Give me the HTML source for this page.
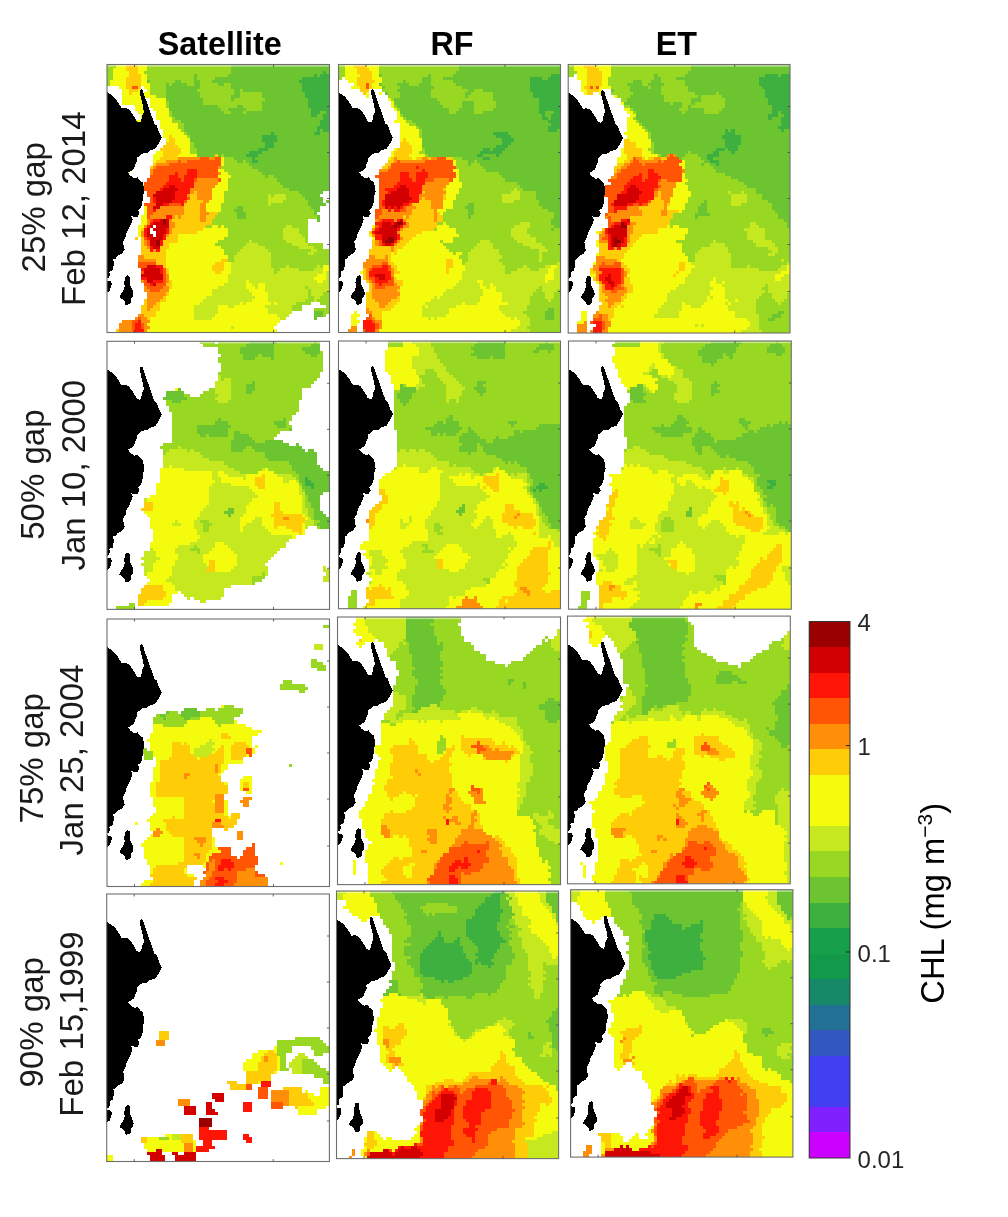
<!DOCTYPE html>
<html lang="en"><head><meta charset="utf-8"><title>CHL gap filling</title>
<style>html,body{margin:0;padding:0;background:#fff}svg{display:block}</style></head>
<body>
<svg width="1008" height="1217" viewBox="0 0 1008 1217" font-family="'Liberation Sans', sans-serif">
<rect width="1008" height="1217" fill="#fff"/>
<defs>
<clipPath id="cr1c1"><rect x="107.0" y="64.5" width="222.5" height="268.0"/></clipPath>
<clipPath id="cr1c2"><rect x="338.5" y="64.5" width="222.0" height="268.0"/></clipPath>
<clipPath id="cr1c3"><rect x="568.2" y="64.5" width="221.8" height="268.5"/></clipPath>
<clipPath id="cr2c1"><rect x="107.0" y="341.3" width="222.5" height="268.1"/></clipPath>
<clipPath id="cr2c2"><rect x="338.5" y="341.0" width="222.0" height="267.7"/></clipPath>
<clipPath id="cr2c3"><rect x="568.5" y="341.0" width="222.8" height="268.2"/></clipPath>
<clipPath id="cr3c1"><rect x="107.0" y="619.0" width="222.5" height="267.5"/></clipPath>
<clipPath id="cr3c2"><rect x="337.5" y="617.0" width="223.0" height="267.6"/></clipPath>
<clipPath id="cr3c3"><rect x="567.5" y="616.1" width="222.8" height="267.7"/></clipPath>
<clipPath id="cr4c1"><rect x="106.7" y="894.0" width="222.7" height="267.5"/></clipPath>
<clipPath id="cr4c2"><rect x="336.5" y="891.0" width="222.1" height="267.6"/></clipPath>
<clipPath id="cr4c3"><rect x="570.6" y="889.7" width="222.3" height="267.4"/></clipPath>
</defs>
<g clip-path="url(#cr1c1)" shape-rendering="crispEdges">
<g transform="translate(107.00 64.50) scale(3.0903 3.0805)">
<path fill="#6cc530" d="M40 0h32v2h-32zM40 2h30v1h-30zM71 2h1v1h-1zM39 3h28v1h-28zM68 3h1v1h-1zM28 3h1v2h-1zM35 4h28v1h-28zM13 5h1v1h-1zM22 5h2v1h-2zM34 5h28v1h-28zM28 5h2v2h-2zM19 6h1v1h-1zM21 6h5v1h-5zM36 6h2v1h-2zM40 6h23v2h-23zM19 7h11v1h-11zM19 8h10v1h-10zM44 8h19v1h-19zM41 8h2v2h-2zM19 9h11v2h-11zM50 9h14v2h-14zM40 10h3v1h-3zM19 11h12v1h-12zM40 11h1v1h-1zM51 11h14v1h-14zM20 12h11v1h-11zM50 12h15v2h-15zM20 13h16v1h-16zM42 13h2v1h-2zM20 14h17v1h-17zM39 14h6v1h-6zM50 14h16v1h-16zM21 15h17v1h-17zM40 15h4v1h-4zM45 15h21v1h-21zM69 15h2v1h-2zM21 16h45v1h-45zM68 16h2v1h-2zM22 17h48v1h-48zM24 18h45v1h-45zM25 19h44v1h-44zM25 20h43v2h-43zM69 21h1v1h-1zM26 22h27v1h-27zM54 22h13v1h-13zM69 22h3v1h-3zM27 23h23v2h-23zM55 23h17v2h-17zM28 25h23v2h-23zM54 25h18v2h-18zM29 27h20v1h-20zM52 27h20v1h-20zM29 28h17v1h-17zM50 28h22v1h-22zM29 29h6v1h-6zM36 29h1v1h-1zM38 29h7v1h-7zM49 29h23v1h-23zM41 30h6v1h-6zM48 30h24v1h-24zM42 31h2v1h-2zM45 31h2v1h-2zM49 31h23v1h-23zM46 32h26v1h-26zM47 33h25v1h-25zM49 34h23v1h-23zM50 35h22v1h-22zM51 36h1v1h-1zM54 36h18v1h-18zM55 37h17v1h-17zM56 38h16v1h-16zM57 39h15v1h-15zM59 40h13v1h-13zM62 41h8v1h-8zM63 42h6v1h-6zM64 43h6v1h-6zM65 44h5v1h-5zM71 44h1v1h-1zM65 45h6v1h-6zM42 46h2v1h-2zM66 46h3v1h-3zM41 47h3v1h-3zM67 47h2v1h-2zM67 48h1v1h-1zM42 48h3v2h-3zM68 49h1v2h-1zM67 80h3v2h-3zM67 82h1v1h-1z"/>
<path fill="#3eb040" d="M70 2h1v1h-1zM67 3h1v1h-1zM69 3h3v1h-3zM63 4h9v1h-9zM62 5h10v1h-10zM63 6h9v3h-9zM64 9h8v2h-8zM65 11h7v3h-7zM66 14h6v1h-6zM66 15h3v1h-3zM71 15h1v1h-1zM66 16h2v1h-2zM70 16h2v2h-2zM69 18h3v2h-3zM68 20h4v1h-4zM68 21h1v1h-1zM70 21h2v1h-2zM53 22h1v1h-1zM67 22h2v1h-2zM50 23h5v2h-5zM51 25h3v2h-3zM49 27h3v1h-3zM46 28h4v1h-4zM45 29h4v1h-4zM47 30h1v1h-1zM47 31h2v1h-2z"/>
<path fill="#98d822" d="M0 0h3v1h-3zM13 0h27v2h-27zM12 2h28v1h-28zM29 3h10v1h-10zM0 1h2v4h-2zM13 3h15v2h-15zM29 4h6v1h-6zM14 5h8v1h-8zM24 5h4v1h-4zM30 5h4v1h-4zM0 5h1v2h-1zM20 6h1v1h-1zM26 6h2v1h-2zM30 6h6v1h-6zM38 6h2v1h-2zM30 7h10v1h-10zM29 8h12v1h-12zM43 8h1v1h-1zM14 6h5v4h-5zM30 9h11v1h-11zM43 9h7v2h-7zM16 10h3v1h-3zM30 10h10v1h-10zM31 11h9v1h-9zM41 11h10v1h-10zM31 12h19v1h-19zM19 12h1v2h-1zM36 13h6v1h-6zM44 13h6v1h-6zM37 14h2v1h-2zM45 14h5v1h-5zM38 15h2v1h-2zM44 15h1v1h-1zM20 15h1v2h-1zM21 17h1v1h-1zM21 18h3v1h-3zM23 19h2v2h-2zM24 21h1v1h-1zM25 22h1v1h-1zM26 23h1v1h-1zM27 25h1v2h-1zM27 27h2v2h-2zM37 29h1v1h-1zM38 30h3v1h-3zM38 31h4v1h-4zM44 31h1v1h-1zM38 32h8v1h-8zM37 33h10v1h-10zM38 34h11v1h-11zM39 35h11v1h-11zM40 36h11v1h-11zM52 36h2v1h-2zM39 37h16v1h-16zM39 38h17v1h-17zM39 39h18v1h-18zM39 40h20v1h-20zM38 41h24v1h-24zM53 42h1v1h-1zM58 42h5v1h-5zM58 43h6v1h-6zM38 42h14v3h-14zM57 44h8v1h-8zM37 45h15v1h-15zM53 45h12v1h-12zM37 46h5v1h-5zM44 46h22v1h-22zM37 47h4v1h-4zM44 47h23v1h-23zM36 48h6v1h-6zM45 48h22v1h-22zM35 49h7v1h-7zM45 49h23v1h-23zM34 50h31v2h-31zM32 52h2v1h-2zM36 52h1v1h-1zM38 52h20v1h-20zM60 52h5v1h-5zM62 53h3v2h-3zM39 53h18v3h-18zM63 55h2v1h-2zM38 56h19v1h-19zM64 56h1v2h-1zM36 57h10v1h-10zM47 57h11v1h-11zM35 58h10v1h-10zM49 58h11v1h-11zM65 58h5v1h-5zM37 59h7v1h-7zM51 59h11v1h-11zM67 59h3v1h-3zM38 60h5v1h-5zM52 60h14v1h-14zM68 60h4v1h-4zM38 61h4v1h-4zM53 61h12v1h-12zM67 61h5v1h-5zM39 62h2v2h-2zM53 62h19v3h-19zM53 65h5v1h-5zM59 65h9v1h-9zM69 65h1v1h-1zM54 66h2v1h-2zM62 66h5v1h-5zM54 67h1v1h-1zM64 72h1v1h-1zM65 73h1v2h-1zM70 74h2v1h-2zM65 75h2v1h-2zM69 75h3v1h-3zM64 76h3v1h-3zM68 76h4v1h-4zM61 77h5v1h-5zM69 77h3v1h-3zM71 78h1v1h-1zM60 78h3v2h-3zM67 79h5v1h-5zM70 80h2v1h-2zM70 81h1v1h-1z"/>
<path fill="#c5e81e" d="M52 42h1v1h-1zM54 42h4v1h-4zM52 43h6v1h-6zM52 44h5v1h-5zM52 45h1v1h-1zM58 52h2v1h-2zM57 53h5v2h-5zM57 55h6v1h-6zM57 56h7v1h-7zM46 57h1v1h-1zM58 57h6v1h-6zM45 58h4v1h-4zM60 58h5v1h-5zM44 59h7v1h-7zM62 59h5v1h-5zM43 60h9v1h-9zM66 60h2v1h-2zM42 61h11v1h-11zM65 61h2v1h-2zM41 62h12v2h-12zM40 64h13v2h-13zM58 65h1v1h-1zM68 65h1v1h-1zM56 66h6v1h-6zM67 66h3v1h-3zM40 66h14v2h-14zM55 67h15v1h-15zM39 68h29v1h-29zM71 67h1v3h-1zM39 69h28v1h-28zM39 70h6v1h-6zM46 70h22v1h-22zM70 70h2v1h-2zM38 71h7v1h-7zM47 71h2v1h-2zM51 71h21v1h-21zM36 72h9v1h-9zM48 72h1v1h-1zM51 72h13v1h-13zM65 72h7v1h-7zM34 73h12v1h-12zM51 73h14v1h-14zM66 73h6v1h-6zM34 74h13v1h-13zM66 74h4v1h-4zM52 74h13v2h-13zM32 75h16v1h-16zM67 75h2v1h-2zM31 76h16v1h-16zM52 76h12v1h-12zM67 76h1v1h-1zM30 77h13v1h-13zM44 77h1v1h-1zM53 77h1v1h-1zM55 77h6v1h-6zM39 78h2v1h-2zM51 78h9v1h-9zM28 78h8v3h-8zM52 79h8v2h-8zM28 81h7v1h-7zM55 81h4v1h-4zM28 82h6v1h-6zM56 82h2v1h-2zM40 85h1v1h-1z"/>
<path fill="#f5fb0c" d="M3 0h3v1h-3zM10 0h3v2h-3zM2 1h4v1h-4zM10 2h2v1h-2zM2 2h5v2h-5zM2 4h4v1h-4zM11 3h2v3h-2zM1 5h5v2h-5zM11 6h3v1h-3zM4 7h2v1h-2zM12 7h2v1h-2zM10 8h1v1h-1zM13 8h1v1h-1zM5 8h2v2h-2zM8 9h3v1h-3zM12 9h2v1h-2zM5 10h6v1h-6zM12 10h4v1h-4zM5 11h7v1h-7zM5 12h8v1h-8zM14 11h5v3h-5zM9 13h4v2h-4zM15 14h5v1h-5zM10 15h4v1h-4zM16 15h4v2h-4zM11 16h3v2h-3zM16 17h5v1h-5zM0 18h2v1h-2zM9 18h6v1h-6zM17 18h4v1h-4zM17 19h6v2h-6zM0 19h15v3h-15zM18 21h6v1h-6zM0 22h16v1h-16zM18 22h7v1h-7zM18 23h2v1h-2zM21 23h5v1h-5zM0 23h17v2h-17zM19 24h1v1h-1zM22 24h5v2h-5zM0 25h16v1h-16zM0 26h9v1h-9zM10 26h4v1h-4zM23 26h4v1h-4zM12 27h1v1h-1zM0 27h8v2h-8zM24 27h3v2h-3zM16 28h2v1h-2zM15 29h3v1h-3zM23 29h6v1h-6zM15 30h2v1h-2zM0 29h7v3h-7zM15 31h1v1h-1zM37 30h1v3h-1zM0 32h8v2h-8zM36 34h2v1h-2zM0 34h7v2h-7zM37 35h2v1h-2zM0 36h6v1h-6zM36 36h4v1h-4zM37 37h2v1h-2zM36 38h3v1h-3zM11 39h1v1h-1zM35 39h4v1h-4zM34 40h5v1h-5zM34 41h4v3h-4zM33 44h5v1h-5zM32 45h5v3h-5zM12 46h1v3h-1zM11 49h2v3h-2zM10 52h2v1h-2zM34 52h2v1h-2zM37 52h1v1h-1zM31 53h8v1h-8zM29 54h10v1h-10zM10 53h1v3h-1zM23 55h16v1h-16zM23 56h15v1h-15zM23 57h13v1h-13zM20 58h15v1h-15zM20 59h17v1h-17zM19 60h19v2h-19zM19 62h20v1h-20zM19 63h18v1h-18zM19 64h16v1h-16zM19 65h15v1h-15zM38 64h2v3h-2zM70 65h2v2h-2zM20 66h14v1h-14zM20 67h15v1h-15zM37 67h3v1h-3zM70 67h1v1h-1zM68 68h3v1h-3zM20 68h19v2h-19zM67 69h4v1h-4zM21 70h18v1h-18zM45 70h1v1h-1zM68 70h2v1h-2zM21 71h17v1h-17zM45 71h2v1h-2zM49 71h2v2h-2zM21 72h15v1h-15zM45 72h3v1h-3zM46 73h5v1h-5zM20 73h14v2h-14zM47 74h5v1h-5zM19 75h13v1h-13zM48 75h4v1h-4zM19 76h12v1h-12zM47 76h5v1h-5zM17 77h13v1h-13zM43 77h1v1h-1zM45 77h8v1h-8zM54 77h1v1h-1zM36 78h3v1h-3zM41 78h10v1h-10zM17 78h11v2h-11zM36 79h16v2h-16zM16 80h12v2h-12zM35 81h20v1h-20zM14 82h14v1h-14zM34 82h22v1h-22zM14 83h42v1h-42zM13 84h42v1h-42zM14 85h26v1h-26zM41 85h13v1h-13zM13 86h42v1h-42z"/>
<path fill="#ffcc08" d="M6 0h4v2h-4zM7 2h3v1h-3zM7 3h4v1h-4zM6 4h5v3h-5zM6 7h2v1h-2zM10 7h1v1h-1zM7 8h3v1h-3zM7 9h1v1h-1zM20 23h1v1h-1zM20 24h2v1h-2zM19 25h3v1h-3zM18 26h5v1h-5zM17 27h7v1h-7zM18 28h6v1h-6zM18 29h5v1h-5zM35 29h1v1h-1zM17 30h6v1h-6zM16 31h3v1h-3zM15 32h1v1h-1zM14 33h1v1h-1zM28 41h1v1h-1zM27 42h2v2h-2zM26 44h5v1h-5zM25 45h5v4h-5zM33 48h3v1h-3zM22 49h1v1h-1zM24 49h6v1h-6zM32 49h3v1h-3zM21 50h9v1h-9zM32 50h2v1h-2zM22 51h12v1h-12zM22 52h10v1h-10zM11 53h1v1h-1zM21 53h10v1h-10zM21 54h8v1h-8zM20 55h3v1h-3zM9 56h1v1h-1zM19 56h4v1h-4zM18 57h5v1h-5zM11 56h1v3h-1zM18 58h2v1h-2zM11 59h2v1h-2zM17 59h3v1h-3zM11 60h3v1h-3zM17 60h2v1h-2zM11 61h8v1h-8zM12 62h7v1h-7zM37 63h2v1h-2zM16 63h3v2h-3zM35 64h3v1h-3zM18 65h1v1h-1zM34 65h4v2h-4zM19 66h1v2h-1zM35 67h2v1h-2zM20 70h1v1h-1zM19 71h2v1h-2zM20 72h1v1h-1zM19 74h1v1h-1zM18 75h1v1h-1zM17 76h2v1h-2zM12 76h1v2h-1zM16 77h1v1h-1zM15 78h2v1h-2zM11 78h2v2h-2zM14 79h3v1h-3zM11 80h5v1h-5zM12 81h4v1h-4zM13 82h1v1h-1zM3 86h1v1h-1z"/>
<path fill="#ff8f08" d="M23 30h7v1h-7zM33 30h2v1h-2zM19 31h4v1h-4zM24 31h2v1h-2zM16 32h4v1h-4zM15 33h1v1h-1zM36 33h1v1h-1zM14 34h1v2h-1zM36 35h1v1h-1zM29 37h7v1h-7zM28 38h8v1h-8zM28 39h7v1h-7zM27 40h7v1h-7zM27 41h1v1h-1zM26 42h1v1h-1zM29 41h5v3h-5zM31 44h2v1h-2zM17 46h8v1h-8zM30 45h2v3h-2zM16 47h9v1h-9zM15 48h10v1h-10zM30 48h3v1h-3zM14 49h5v1h-5zM21 49h1v1h-1zM23 49h1v1h-1zM30 49h2v2h-2zM20 50h1v1h-1zM13 50h1v2h-1zM20 51h2v2h-2zM12 52h1v1h-1zM20 53h1v2h-1zM11 54h1v2h-1zM19 55h1v1h-1zM12 57h1v2h-1zM13 59h1v1h-1zM15 60h1v1h-1zM10 62h2v1h-2zM10 63h6v1h-6zM19 68h1v3h-1zM11 70h1v1h-1zM12 72h1v1h-1zM18 72h2v1h-2zM12 73h2v1h-2zM17 73h3v1h-3zM13 74h6v1h-6zM13 75h5v1h-5zM13 76h4v1h-4zM13 77h3v1h-3zM13 78h2v1h-2zM13 79h1v1h-1zM10 81h2v1h-2zM9 82h1v1h-1zM11 82h2v1h-2zM5 83h3v1h-3zM11 83h3v1h-3zM12 84h1v1h-1zM12 85h2v1h-2zM4 84h4v3h-4zM12 86h1v1h-1z"/>
<path fill="#ff5505" d="M8 7h2v1h-2zM30 30h3v1h-3zM35 30h2v1h-2zM23 31h1v1h-1zM26 31h11v1h-11zM20 32h17v1h-17zM16 33h20v1h-20zM15 34h11v1h-11zM15 35h7v1h-7zM23 35h3v1h-3zM29 34h7v3h-7zM14 36h6v1h-6zM23 36h2v1h-2zM13 37h7v1h-7zM24 37h1v1h-1zM28 37h1v1h-1zM36 37h1v1h-1zM12 38h7v1h-7zM12 39h6v1h-6zM12 40h5v1h-5zM13 41h3v1h-3zM13 42h2v1h-2zM26 43h1v1h-1zM14 43h1v2h-1zM25 44h1v1h-1zM12 45h4v1h-4zM20 45h4v1h-4zM13 46h2v3h-2zM13 49h1v1h-1zM14 50h1v1h-1zM12 56h1v1h-1zM13 57h1v2h-1zM10 64h6v1h-6zM10 65h3v1h-3zM11 67h1v1h-1zM18 66h1v5h-1zM12 70h1v1h-1zM12 71h2v1h-2zM16 71h3v1h-3zM13 72h5v1h-5zM14 73h3v1h-3zM10 82h1v1h-1zM8 83h2v1h-2zM11 84h1v2h-1zM8 84h1v3h-1z"/>
<path fill="#ff1505" d="M26 34h3v2h-3zM22 35h1v1h-1zM20 36h3v1h-3zM25 36h4v1h-4zM20 37h4v1h-4zM25 37h3v1h-3zM19 38h9v1h-9zM18 39h2v1h-2zM22 39h6v1h-6zM17 40h1v1h-1zM23 40h4v1h-4zM22 41h5v1h-5zM22 42h4v2h-4zM15 43h1v2h-1zM21 44h4v1h-4zM18 45h2v1h-2zM24 45h1v1h-1zM15 47h1v1h-1zM19 49h2v1h-2zM15 50h2v1h-2zM14 51h1v1h-1zM13 52h1v1h-1zM19 53h1v2h-1zM12 53h1v3h-1zM18 55h1v2h-1zM13 56h1v1h-1zM17 57h1v2h-1zM14 59h1v2h-1zM16 60h1v1h-1zM16 65h2v1h-2zM11 66h1v1h-1zM17 66h1v2h-1zM11 69h2v1h-2zM15 70h3v1h-3zM14 71h1v1h-1zM10 83h1v1h-1zM9 84h2v2h-2zM9 86h3v1h-3z"/>
<path fill="#d20000" d="M20 39h2v1h-2zM18 40h5v1h-5zM16 41h6v1h-6zM15 42h7v1h-7zM16 43h6v1h-6zM16 44h5v1h-5zM16 45h2v1h-2zM15 46h2v1h-2zM17 50h1v1h-1zM19 50h1v2h-1zM15 51h3v1h-3zM14 52h1v1h-1zM16 52h4v1h-4zM15 53h4v1h-4zM13 53h1v2h-1zM16 54h3v1h-3zM13 55h2v1h-2zM16 55h2v1h-2zM14 56h4v1h-4zM14 57h2v2h-2zM15 59h2v1h-2zM13 65h3v1h-3zM12 66h5v2h-5zM11 68h7v1h-7zM13 69h5v1h-5zM13 70h2v1h-2zM15 71h1v1h-1z"/>
<path fill="#9a0000" d="M18 50h1v2h-1zM16 57h1v2h-1z"/>
</g>
<polygon points="105.9,92.1 107.1,92.1 109.9,94.1 112.8,96.0 115.3,98.5 117.8,102.0 119.7,104.9 121.7,108.4 125.7,107.9 129.1,109.4 131.6,112.8 134.5,117.2 136.5,121.2 140.0,122.7 141.4,119.7 141.9,115.8 143.9,111.8 142.9,105.9 141.4,100.0 140.0,94.1 140.2,90.1 141.4,89.3 142.9,90.6 144.9,97.0 147.4,103.9 149.8,110.8 152.3,117.7 154.3,123.7 156.7,125.6 158.7,131.5 161.7,137.5 159.7,141.9 157.2,145.8 155.2,148.8 149.3,150.8 147.4,152.8 141.4,153.7 139.0,156.2 136.5,158.2 137.0,161.1 135.0,165.1 134.0,168.5 131.6,170.5 128.1,172.5 130.1,175.4 134.5,178.4 137.5,177.4 140.0,180.4 142.9,182.8 143.9,188.7 144.4,191.7 142.9,196.2 142.4,203.1 140.9,207.5 138.0,210.0 139.5,213.4 137.5,216.9 134.0,216.9 131.1,215.9 132.6,219.4 131.1,223.8 129.1,228.2 126.6,232.7 125.7,237.1 123.2,241.5 123.7,246.5 124.7,249.4 122.2,253.4 117.8,255.8 115.3,258.8 113.3,259.3 113.8,264.2 112.8,270.1 110.4,271.1 109.4,272.1 109.9,275.1 108.9,277.5 107.1,278.5 107.1,280.5 110.9,281.0 111.9,283.5 110.9,287.4 109.4,290.9 107.1,292.8 105.9,292.8" fill="#000"/>
<polygon points="125.7,276.1 128.1,275.3 129.6,276.6 129.6,281.0 130.1,284.9 132.1,288.9 133.5,293.3 133.1,296.3 130.6,298.7 130.6,302.7 129.1,304.2 125.7,305.2 124.7,301.7 122.2,299.2 119.2,297.3 120.7,294.3 123.2,290.9 124.7,286.4 124.2,282.0 125.2,278.5" fill="#000"/>
</g>
<rect x="107.5" y="64.9" width="221.5" height="1.7" fill="#fff" opacity="0.5"/>
<rect x="107.0" y="64.5" width="222.5" height="268.0" fill="none" stroke="#6e6e6e" stroke-width="1.1"/>
<path d="M134.5 64.5v2.5M134.5 332.5v-2.5M273.5 64.5v2.5M273.5 332.5v-2.5M329.5 106.5h-2.5M329.5 152.5h-2.5M329.5 198.5h-2.5M329.5 244.5h-2.5M329.5 291.5h-2.5" stroke="#444" stroke-width="0.8" fill="none"/>
<g clip-path="url(#cr1c2)" shape-rendering="crispEdges">
<g transform="translate(338.50 64.50) scale(3.0833 3.0805)">
<path fill="#6cc530" d="M39 0h33v2h-33zM38 2h34v1h-34zM13 3h1v1h-1zM29 3h1v1h-1zM37 3h32v1h-32zM34 4h28v1h-28zM66 4h2v1h-2zM27 4h3v2h-3zM21 5h1v1h-1zM37 5h25v1h-25zM13 6h1v1h-1zM19 6h4v1h-4zM26 6h4v1h-4zM38 6h24v1h-24zM14 7h1v1h-1zM20 7h11v1h-11zM40 7h22v1h-22zM19 8h11v1h-11zM42 8h2v1h-2zM47 8h15v1h-15zM15 9h1v1h-1zM41 9h2v1h-2zM20 9h10v2h-10zM50 9h13v2h-13zM41 10h1v1h-1zM18 11h14v1h-14zM50 11h15v1h-15zM18 12h15v1h-15zM40 12h4v2h-4zM51 12h14v2h-14zM19 13h15v1h-15zM39 14h5v1h-5zM50 14h15v1h-15zM20 14h16v2h-16zM38 15h6v1h-6zM47 15h18v1h-18zM67 15h3v1h-3zM21 16h45v1h-45zM67 16h2v1h-2zM22 17h44v1h-44zM68 17h1v1h-1zM24 18h44v1h-44zM25 19h44v1h-44zM26 20h42v1h-42zM27 21h41v1h-41zM71 21h1v1h-1zM27 22h23v1h-23zM55 22h17v1h-17zM27 23h24v1h-24zM56 23h16v1h-16zM57 24h15v1h-15zM27 24h26v2h-26zM56 25h16v1h-16zM27 26h24v1h-24zM55 26h17v1h-17zM28 27h19v1h-19zM49 27h1v1h-1zM54 27h18v1h-18zM28 28h18v1h-18zM53 28h19v1h-19zM29 29h16v1h-16zM47 29h4v1h-4zM52 29h20v1h-20zM40 30h7v1h-7zM49 30h23v1h-23zM42 31h2v1h-2zM45 31h27v1h-27zM42 32h1v1h-1zM46 32h26v1h-26zM47 33h25v1h-25zM48 34h24v1h-24zM52 35h20v1h-20zM53 36h19v1h-19zM54 37h18v1h-18zM58 38h14v1h-14zM59 39h13v1h-13zM60 40h12v1h-12zM64 41h8v3h-8zM65 44h7v2h-7zM42 45h2v1h-2zM41 46h3v1h-3zM66 46h6v1h-6zM68 47h4v1h-4zM42 47h2v2h-2zM70 48h2v2h-2zM42 49h1v1h-1zM69 50h3v2h-3zM70 52h2v1h-2zM69 53h1v1h-1zM68 79h2v1h-2zM67 80h3v3h-3z"/>
<path fill="#3eb040" d="M69 3h3v1h-3zM62 4h4v1h-4zM68 4h4v1h-4zM62 5h10v4h-10zM63 9h9v2h-9zM65 11h7v4h-7zM65 15h2v1h-2zM70 15h2v1h-2zM66 16h1v1h-1zM69 16h3v2h-3zM66 17h2v1h-2zM68 18h4v1h-4zM69 19h3v1h-3zM68 20h4v1h-4zM68 21h3v1h-3zM50 22h5v1h-5zM51 23h5v1h-5zM53 24h4v1h-4zM53 25h3v1h-3zM51 26h4v1h-4zM47 27h2v1h-2zM50 27h4v1h-4zM46 28h7v1h-7zM45 29h2v1h-2zM51 29h1v1h-1zM47 30h2v1h-2z"/>
<path fill="#98d822" d="M13 0h26v2h-26zM13 2h25v1h-25zM0 0h2v4h-2zM14 3h15v1h-15zM30 3h7v1h-7zM0 4h1v1h-1zM14 4h13v1h-13zM30 4h4v1h-4zM14 5h7v1h-7zM22 5h5v1h-5zM30 5h7v1h-7zM14 6h5v1h-5zM23 6h3v1h-3zM30 6h8v1h-8zM15 7h5v1h-5zM31 7h9v1h-9zM14 8h5v1h-5zM30 8h12v1h-12zM44 8h3v1h-3zM43 9h7v1h-7zM16 9h4v2h-4zM30 9h11v2h-11zM42 10h8v1h-8zM17 11h1v1h-1zM32 11h18v1h-18zM33 12h7v1h-7zM44 12h7v2h-7zM18 13h1v1h-1zM34 13h6v1h-6zM19 14h1v1h-1zM36 14h3v1h-3zM44 14h6v1h-6zM36 15h2v1h-2zM44 15h3v1h-3zM20 16h1v1h-1zM21 17h1v1h-1zM22 18h2v1h-2zM23 19h2v1h-2zM25 20h1v1h-1zM26 21h1v3h-1zM27 27h1v1h-1zM26 28h2v1h-2zM28 29h1v1h-1zM37 30h3v1h-3zM44 31h1v1h-1zM38 31h4v2h-4zM43 32h3v1h-3zM38 33h9v1h-9zM39 34h9v1h-9zM39 35h13v1h-13zM39 36h14v1h-14zM39 37h15v1h-15zM40 38h18v1h-18zM40 39h19v1h-19zM39 40h18v1h-18zM58 40h2v1h-2zM39 41h17v1h-17zM59 41h5v3h-5zM38 42h15v2h-15zM37 44h16v1h-16zM57 44h8v1h-8zM37 45h5v1h-5zM44 45h21v1h-21zM37 46h4v1h-4zM44 46h22v1h-22zM35 47h7v1h-7zM44 47h24v1h-24zM44 48h26v1h-26zM34 48h8v2h-8zM43 49h27v1h-27zM34 50h35v1h-35zM32 51h2v1h-2zM35 51h24v1h-24zM62 51h7v1h-7zM36 52h21v1h-21zM62 52h8v1h-8zM31 53h1v1h-1zM61 53h8v1h-8zM70 53h2v1h-2zM38 53h18v2h-18zM61 54h11v1h-11zM39 55h17v1h-17zM62 55h10v1h-10zM37 56h20v1h-20zM64 56h8v2h-8zM33 57h1v1h-1zM37 57h9v1h-9zM49 57h9v1h-9zM34 58h11v1h-11zM50 58h10v1h-10zM66 58h6v1h-6zM35 59h9v1h-9zM50 59h12v1h-12zM67 59h5v1h-5zM36 60h7v1h-7zM68 60h4v1h-4zM52 60h13v2h-13zM37 61h1v1h-1zM40 61h2v1h-2zM39 62h3v1h-3zM53 62h12v1h-12zM66 61h6v3h-6zM40 63h2v1h-2zM52 63h13v1h-13zM40 64h1v1h-1zM53 64h18v1h-18zM54 65h6v1h-6zM61 65h6v1h-6zM54 66h4v1h-4zM62 66h3v1h-3zM54 67h2v1h-2zM65 72h1v1h-1zM64 73h2v1h-2zM71 73h1v1h-1zM63 74h4v1h-4zM70 74h2v2h-2zM62 75h5v1h-5zM62 76h6v1h-6zM69 76h3v1h-3zM62 77h10v1h-10zM61 78h11v1h-11zM61 79h7v1h-7zM60 80h7v1h-7zM61 81h6v1h-6zM70 79h2v4h-2zM62 82h5v1h-5zM62 83h10v2h-10zM61 85h11v1h-11zM62 86h10v1h-10z"/>
<path fill="#c5e81e" d="M57 40h1v1h-1zM56 41h3v1h-3zM53 42h6v2h-6zM53 44h4v1h-4zM59 51h3v1h-3zM57 52h5v1h-5zM56 53h5v2h-5zM56 55h6v1h-6zM57 56h7v1h-7zM46 57h3v1h-3zM58 57h6v1h-6zM45 58h5v1h-5zM60 58h6v1h-6zM44 59h6v1h-6zM62 59h5v1h-5zM43 60h9v1h-9zM65 60h3v1h-3zM42 61h10v1h-10zM42 62h11v1h-11zM65 61h1v3h-1zM42 63h10v1h-10zM41 64h12v1h-12zM71 64h1v2h-1zM60 65h1v1h-1zM67 65h2v1h-2zM41 65h13v2h-13zM58 66h4v1h-4zM65 66h3v1h-3zM40 67h14v1h-14zM56 67h12v1h-12zM70 66h2v4h-2zM40 68h27v2h-27zM39 70h6v1h-6zM47 70h20v1h-20zM68 70h4v1h-4zM38 71h8v1h-8zM47 71h2v1h-2zM50 71h22v1h-22zM37 72h9v1h-9zM48 72h1v1h-1zM51 72h14v1h-14zM66 72h6v1h-6zM35 73h12v1h-12zM51 73h13v1h-13zM66 73h5v1h-5zM34 74h13v1h-13zM53 74h10v1h-10zM67 74h3v2h-3zM31 75h1v1h-1zM33 75h13v1h-13zM53 75h9v2h-9zM30 76h16v1h-16zM68 76h1v1h-1zM28 77h12v1h-12zM41 77h4v1h-4zM55 77h7v1h-7zM27 78h1v1h-1zM29 78h9v1h-9zM52 78h9v2h-9zM27 79h9v2h-9zM53 80h7v1h-7zM27 81h8v1h-8zM54 81h7v1h-7zM29 82h1v1h-1zM31 82h1v1h-1zM56 82h1v1h-1zM58 82h4v1h-4zM59 83h3v2h-3zM58 85h3v1h-3zM56 86h6v1h-6z"/>
<path fill="#f5fb0c" d="M2 0h3v1h-3zM9 0h4v1h-4zM10 1h3v1h-3zM2 1h4v2h-4zM11 2h2v2h-2zM2 3h5v1h-5zM2 4h4v1h-4zM11 4h3v1h-3zM3 5h3v1h-3zM12 5h2v1h-2zM5 6h1v1h-1zM11 6h2v1h-2zM4 7h3v1h-3zM11 7h3v1h-3zM13 9h1v1h-1zM9 9h1v2h-1zM16 11h1v1h-1zM17 12h1v2h-1zM18 14h1v1h-1zM19 15h1v2h-1zM19 17h2v1h-2zM18 18h4v1h-4zM20 19h3v1h-3zM20 20h5v1h-5zM20 21h6v3h-6zM20 24h1v1h-1zM22 24h5v1h-5zM23 25h4v1h-4zM24 26h3v2h-3zM18 27h1v1h-1zM24 28h2v1h-2zM17 28h1v2h-1zM23 29h5v1h-5zM16 30h1v1h-1zM24 30h1v1h-1zM37 31h1v2h-1zM37 34h2v1h-2zM38 35h1v2h-1zM37 37h2v1h-2zM36 38h4v1h-4zM35 39h5v1h-5zM35 40h4v2h-4zM35 42h3v2h-3zM34 44h3v3h-3zM32 47h3v1h-3zM33 48h1v1h-1zM34 51h1v1h-1zM11 52h1v1h-1zM32 52h4v1h-4zM32 53h6v1h-6zM27 54h11v1h-11zM10 55h1v1h-1zM25 55h14v1h-14zM11 56h1v1h-1zM24 56h13v1h-13zM23 57h10v1h-10zM34 57h3v1h-3zM22 58h12v1h-12zM21 59h14v1h-14zM19 60h17v1h-17zM17 61h1v1h-1zM19 61h18v1h-18zM38 61h2v1h-2zM17 62h22v1h-22zM17 63h18v1h-18zM37 63h3v2h-3zM18 64h17v1h-17zM37 65h4v1h-4zM69 65h2v1h-2zM19 65h16v2h-16zM36 66h5v1h-5zM68 66h2v2h-2zM7 67h1v1h-1zM20 67h15v1h-15zM36 67h4v1h-4zM18 68h22v1h-22zM67 68h3v2h-3zM19 69h21v1h-21zM21 70h18v1h-18zM45 70h2v1h-2zM67 70h1v1h-1zM21 71h17v1h-17zM46 71h1v1h-1zM49 71h1v1h-1zM20 72h17v1h-17zM46 72h2v1h-2zM49 72h2v1h-2zM20 73h15v1h-15zM47 73h4v1h-4zM20 74h14v1h-14zM47 74h6v1h-6zM20 75h11v1h-11zM32 75h1v1h-1zM46 75h7v2h-7zM20 76h10v1h-10zM19 77h9v1h-9zM40 77h1v1h-1zM45 77h10v1h-10zM18 78h9v1h-9zM28 78h1v1h-1zM38 78h14v1h-14zM17 79h10v1h-10zM36 79h16v1h-16zM5 80h1v1h-1zM36 80h17v1h-17zM14 80h13v2h-13zM4 81h3v1h-3zM35 81h19v1h-19zM4 82h2v1h-2zM14 82h15v1h-15zM30 82h1v1h-1zM32 82h24v1h-24zM57 82h1v1h-1zM4 83h3v1h-3zM14 83h45v2h-45zM4 84h2v1h-2zM14 85h44v1h-44zM13 86h43v1h-43z"/>
<path fill="#ffcc08" d="M5 0h4v1h-4zM6 1h4v1h-4zM6 2h5v1h-5zM7 3h4v1h-4zM6 4h5v1h-5zM6 5h6v1h-6zM6 6h3v1h-3zM10 6h1v2h-1zM7 7h2v1h-2zM7 8h3v1h-3zM8 9h1v1h-1zM21 24h1v1h-1zM20 25h3v1h-3zM20 26h4v1h-4zM19 27h5v1h-5zM18 28h6v1h-6zM18 29h5v1h-5zM17 30h1v1h-1zM19 30h5v1h-5zM25 30h2v1h-2zM29 30h1v1h-1zM35 30h2v1h-2zM16 31h2v1h-2zM15 32h2v1h-2zM14 33h2v1h-2zM34 40h1v1h-1zM27 41h1v1h-1zM34 42h1v2h-1zM27 43h1v1h-1zM26 44h4v1h-4zM24 45h6v1h-6zM25 46h5v1h-5zM24 47h7v2h-7zM32 48h1v1h-1zM21 49h1v1h-1zM23 49h8v1h-8zM32 49h2v2h-2zM22 50h9v1h-9zM23 51h9v2h-9zM21 53h10v1h-10zM10 54h1v1h-1zM20 54h7v1h-7zM20 55h5v1h-5zM21 56h3v1h-3zM20 57h3v1h-3zM11 57h1v2h-1zM19 58h3v1h-3zM11 59h6v1h-6zM18 59h3v1h-3zM10 60h7v2h-7zM18 60h1v2h-1zM12 62h3v1h-3zM16 62h1v2h-1zM16 64h2v1h-2zM35 63h2v3h-2zM17 65h2v1h-2zM18 66h1v1h-1zM35 66h1v2h-1zM18 67h2v1h-2zM8 66h1v4h-1zM18 69h1v1h-1zM9 70h1v1h-1zM18 70h3v1h-3zM19 71h2v1h-2zM10 71h1v3h-1zM19 73h1v1h-1zM9 74h2v2h-2zM19 75h1v1h-1zM9 76h3v1h-3zM17 76h3v1h-3zM16 77h3v1h-3zM9 77h4v2h-4zM15 78h3v1h-3zM10 79h7v1h-7zM11 80h3v2h-3zM12 82h2v1h-2z"/>
<path fill="#ff8f08" d="M27 30h2v1h-2zM30 30h2v1h-2zM18 30h1v2h-1zM20 31h8v1h-8zM16 33h1v1h-1zM13 34h3v1h-3zM31 37h5v1h-5zM28 38h8v1h-8zM27 39h8v1h-8zM27 40h7v1h-7zM28 41h7v1h-7zM26 42h8v1h-8zM26 43h1v1h-1zM28 43h6v1h-6zM30 44h4v3h-4zM22 46h3v1h-3zM14 47h2v1h-2zM17 47h1v1h-1zM22 47h2v1h-2zM14 48h10v1h-10zM13 49h8v1h-8zM22 49h1v1h-1zM31 47h1v4h-1zM12 50h1v1h-1zM18 50h1v1h-1zM21 50h1v1h-1zM22 51h1v1h-1zM21 52h2v1h-2zM11 53h1v1h-1zM20 53h1v1h-1zM19 54h1v1h-1zM11 55h1v1h-1zM20 56h1v1h-1zM19 57h1v1h-1zM12 57h1v2h-1zM18 58h1v1h-1zM17 59h1v2h-1zM10 62h2v1h-2zM15 62h1v1h-1zM9 63h7v1h-7zM8 64h6v1h-6zM8 65h3v1h-3zM17 66h1v3h-1zM9 66h1v4h-1zM10 70h1v1h-1zM18 71h1v1h-1zM11 71h1v2h-1zM15 72h5v1h-5zM11 73h8v1h-8zM11 74h9v1h-9zM11 75h8v1h-8zM12 76h5v1h-5zM13 77h3v1h-3zM13 78h2v1h-2zM9 79h1v1h-1zM9 80h2v1h-2zM11 82h1v1h-1zM12 83h2v1h-2zM13 84h1v2h-1zM4 85h2v1h-2zM3 86h3v1h-3zM12 86h1v1h-1z"/>
<path fill="#ff5505" d="M9 6h1v2h-1zM32 30h3v1h-3zM19 31h1v1h-1zM28 31h9v1h-9zM17 32h20v1h-20zM17 33h8v1h-8zM26 33h12v1h-12zM16 34h11v1h-11zM28 34h9v1h-9zM13 35h7v1h-7zM23 35h2v2h-2zM29 35h9v2h-9zM12 36h8v1h-8zM13 37h7v1h-7zM24 37h1v1h-1zM28 37h3v1h-3zM36 37h1v1h-1zM13 38h6v1h-6zM13 39h5v1h-5zM13 40h2v1h-2zM13 41h3v1h-3zM13 42h2v2h-2zM13 44h1v2h-1zM23 45h1v1h-1zM13 46h2v1h-2zM21 46h1v1h-1zM20 47h2v1h-2zM12 47h2v2h-2zM12 49h1v1h-1zM13 50h1v1h-1zM12 52h1v1h-1zM13 57h1v2h-1zM14 64h2v1h-2zM11 65h3v1h-3zM16 65h1v2h-1zM10 66h1v1h-1zM10 69h2v1h-2zM17 69h1v1h-1zM11 70h1v1h-1zM16 70h2v1h-2zM12 71h1v1h-1zM14 71h4v1h-4zM12 72h3v1h-3zM10 81h1v1h-1zM9 82h2v1h-2zM11 83h1v1h-1zM12 84h1v2h-1zM8 86h1v1h-1z"/>
<path fill="#ff1505" d="M25 33h1v1h-1zM27 34h1v1h-1zM20 35h3v2h-3zM25 35h4v2h-4zM20 37h4v1h-4zM25 37h3v1h-3zM19 38h9v1h-9zM18 39h2v1h-2zM22 39h5v1h-5zM15 40h4v1h-4zM23 40h4v2h-4zM16 41h1v1h-1zM23 42h3v1h-3zM24 43h2v1h-2zM23 44h3v1h-3zM14 44h1v2h-1zM21 45h2v1h-2zM18 46h1v1h-1zM20 46h1v1h-1zM16 46h1v2h-1zM18 47h2v1h-2zM14 50h4v1h-4zM19 50h1v1h-1zM12 51h2v1h-2zM17 51h1v1h-1zM21 51h1v1h-1zM13 52h1v1h-1zM20 52h1v1h-1zM12 53h1v1h-1zM19 53h1v1h-1zM11 54h1v1h-1zM12 55h2v2h-2zM19 55h1v2h-1zM18 57h1v1h-1zM14 58h1v1h-1zM17 58h1v1h-1zM14 65h2v1h-2zM11 66h5v1h-5zM10 67h7v1h-7zM10 68h2v1h-2zM15 68h2v2h-2zM12 69h1v1h-1zM12 70h4v1h-4zM13 71h1v1h-1zM8 83h3v1h-3zM8 84h4v2h-4zM9 86h3v1h-3z"/>
<path fill="#d20000" d="M20 39h2v1h-2zM19 40h4v1h-4zM17 41h6v1h-6zM15 42h8v1h-8zM15 43h9v1h-9zM15 44h8v1h-8zM15 45h6v1h-6zM15 46h1v1h-1zM17 46h1v1h-1zM19 46h1v1h-1zM20 50h1v1h-1zM14 51h3v1h-3zM18 51h1v1h-1zM14 52h4v1h-4zM19 52h1v1h-1zM13 53h6v1h-6zM12 54h7v1h-7zM14 55h5v1h-5zM14 56h2v1h-2zM18 56h1v1h-1zM14 57h1v1h-1zM15 58h2v1h-2zM12 68h3v1h-3zM13 69h2v1h-2z"/>
<path fill="#9a0000" d="M19 51h2v1h-2zM18 52h1v1h-1zM16 56h2v1h-2zM15 57h3v1h-3z"/>
</g>
<polygon points="337.2,92.1 338.3,92.1 341.1,94.1 344.1,96.0 346.5,98.5 349.0,102.0 351.0,104.9 352.9,108.4 356.9,107.9 360.3,109.4 362.8,112.8 365.8,117.2 367.7,121.2 371.2,122.7 372.7,119.7 373.2,115.8 375.1,111.8 374.1,105.9 372.7,100.0 371.2,94.1 371.4,90.1 372.7,89.3 374.1,90.6 376.1,97.0 378.6,103.9 381.0,110.8 383.5,117.7 385.5,123.7 387.9,125.6 389.9,131.5 392.9,137.5 390.9,141.9 388.4,145.8 386.5,148.8 380.5,150.8 378.6,152.8 372.7,153.7 370.2,156.2 367.7,158.2 368.2,161.1 366.2,165.1 365.3,168.5 362.8,170.5 359.3,172.5 361.3,175.4 365.8,178.4 368.7,177.4 371.2,180.4 374.1,182.8 375.1,188.7 375.6,191.7 374.1,196.2 373.6,203.1 372.2,207.5 369.2,210.0 370.7,213.4 368.7,216.9 365.3,216.9 362.3,215.9 363.8,219.4 362.3,223.8 360.3,228.2 357.9,232.7 356.9,237.1 354.4,241.5 354.9,246.5 355.9,249.4 353.4,253.4 349.0,255.8 346.5,258.8 344.6,259.3 345.0,264.2 344.1,270.1 341.6,271.1 340.6,272.1 341.1,275.1 340.1,277.5 338.3,278.5 338.3,280.5 342.1,281.0 343.1,283.5 342.1,287.4 340.6,290.9 338.3,292.8 337.2,292.8" fill="#000"/>
<polygon points="356.9,276.1 359.3,275.3 360.8,276.6 360.8,281.0 361.3,284.9 363.3,288.9 364.8,293.3 364.3,296.3 361.8,298.7 361.8,302.7 360.3,304.2 356.9,305.2 355.9,301.7 353.4,299.2 350.5,297.3 351.9,294.3 354.4,290.9 355.9,286.4 355.4,282.0 356.4,278.5" fill="#000"/>
</g>
<rect x="339.0" y="64.9" width="221.0" height="1.7" fill="#fff" opacity="0.5"/>
<rect x="338.5" y="64.5" width="222.0" height="268.0" fill="none" stroke="#6e6e6e" stroke-width="1.1"/>
<path d="M366.0 64.5v2.5M366.0 332.5v-2.5M505.0 64.5v2.5M505.0 332.5v-2.5M560.5 106.5h-2.5M560.5 152.5h-2.5M560.5 198.5h-2.5M560.5 244.5h-2.5M560.5 291.5h-2.5" stroke="#444" stroke-width="0.8" fill="none"/>
<g clip-path="url(#cr1c3)" shape-rendering="crispEdges">
<g transform="translate(568.20 64.50) scale(3.0806 3.0862)">
<path fill="#6cc530" d="M40 0h32v2h-32zM39 2h33v1h-33zM28 3h1v1h-1zM38 3h26v1h-26zM68 3h1v1h-1zM28 4h2v1h-2zM35 4h27v1h-27zM21 5h3v1h-3zM27 5h3v1h-3zM38 5h24v2h-24zM19 6h5v1h-5zM26 6h5v1h-5zM20 7h6v1h-6zM27 7h3v1h-3zM39 7h24v1h-24zM14 8h1v1h-1zM20 8h10v1h-10zM39 8h25v1h-25zM21 9h9v1h-9zM41 9h7v1h-7zM49 9h15v1h-15zM20 10h11v1h-11zM42 10h1v1h-1zM50 10h14v1h-14zM19 11h12v1h-12zM40 11h3v1h-3zM51 11h14v2h-14zM18 12h15v1h-15zM34 12h3v1h-3zM40 12h1v1h-1zM20 13h17v1h-17zM39 13h1v1h-1zM51 13h15v1h-15zM21 14h15v1h-15zM39 14h5v1h-5zM50 14h16v1h-16zM22 15h15v1h-15zM38 15h6v1h-6zM49 15h17v1h-17zM68 15h1v1h-1zM68 16h2v1h-2zM22 16h43v2h-43zM66 17h3v1h-3zM23 18h46v1h-46zM24 19h45v1h-45zM25 20h43v1h-43zM26 21h25v1h-25zM52 21h1v1h-1zM54 21h15v1h-15zM70 21h2v1h-2zM27 22h24v1h-24zM54 22h18v1h-18zM27 23h23v1h-23zM27 24h24v1h-24zM56 23h16v3h-16zM28 25h23v2h-23zM55 26h17v2h-17zM28 27h20v1h-20zM51 27h1v1h-1zM28 28h11v1h-11zM40 28h7v1h-7zM49 28h4v1h-4zM54 28h18v1h-18zM30 29h2v1h-2zM35 29h3v1h-3zM42 29h3v1h-3zM49 29h23v1h-23zM36 30h1v1h-1zM43 30h2v1h-2zM47 30h25v1h-25zM44 31h2v1h-2zM49 31h23v2h-23zM43 32h1v1h-1zM46 32h2v1h-2zM47 33h25v1h-25zM48 34h24v1h-24zM51 35h21v1h-21zM53 36h19v1h-19zM55 37h17v1h-17zM57 38h15v1h-15zM58 39h14v1h-14zM61 40h11v2h-11zM63 42h9v2h-9zM44 44h1v1h-1zM65 44h7v1h-7zM43 45h2v1h-2zM66 45h6v2h-6zM42 46h3v2h-3zM67 47h5v1h-5zM41 48h5v1h-5zM68 48h4v2h-4zM41 49h1v1h-1zM70 50h2v1h-2zM71 51h1v2h-1zM68 80h2v1h-2zM66 81h3v1h-3zM65 82h2v1h-2z"/>
<path fill="#3eb040" d="M64 3h4v1h-4zM69 3h3v1h-3zM62 4h10v3h-10zM63 7h9v1h-9zM64 8h8v3h-8zM65 11h7v2h-7zM66 13h6v2h-6zM66 15h2v1h-2zM69 15h3v1h-3zM65 16h3v1h-3zM70 16h2v1h-2zM65 17h1v1h-1zM69 17h3v3h-3zM68 20h4v1h-4zM51 21h1v1h-1zM53 21h1v1h-1zM69 21h1v1h-1zM51 22h3v1h-3zM50 23h6v1h-6zM51 24h5v2h-5zM51 26h4v1h-4zM48 27h3v1h-3zM52 27h3v1h-3zM47 28h2v1h-2zM53 28h1v1h-1zM45 29h4v1h-4zM45 30h2v1h-2zM46 31h3v1h-3zM48 32h1v1h-1z"/>
<path fill="#98d822" d="M0 0h2v2h-2zM14 0h26v2h-26zM0 2h3v1h-3zM14 2h25v1h-25zM0 3h2v1h-2zM14 3h14v1h-14zM29 3h9v1h-9zM13 4h15v1h-15zM30 4h5v1h-5zM13 5h8v1h-8zM24 5h3v1h-3zM30 5h8v1h-8zM13 6h6v1h-6zM24 6h2v1h-2zM31 6h7v1h-7zM14 7h6v1h-6zM26 7h1v1h-1zM30 7h9v2h-9zM15 8h5v1h-5zM14 9h7v1h-7zM30 9h11v1h-11zM48 9h1v1h-1zM16 10h4v1h-4zM31 10h11v1h-11zM43 10h7v1h-7zM17 11h2v1h-2zM31 11h9v1h-9zM43 11h8v1h-8zM33 12h1v1h-1zM37 12h3v1h-3zM41 12h10v1h-10zM18 13h2v1h-2zM37 13h2v1h-2zM40 13h11v1h-11zM20 14h1v1h-1zM36 14h3v1h-3zM44 14h6v1h-6zM21 15h1v1h-1zM37 15h1v1h-1zM44 15h5v1h-5zM21 17h1v1h-1zM22 18h1v1h-1zM23 19h1v1h-1zM24 20h1v1h-1zM25 21h1v1h-1zM26 22h1v2h-1zM27 25h1v2h-1zM26 27h2v1h-2zM27 28h1v1h-1zM39 28h1v1h-1zM29 29h1v1h-1zM38 29h4v1h-4zM37 30h6v1h-6zM38 31h6v1h-6zM38 32h5v1h-5zM44 32h2v1h-2zM38 33h9v1h-9zM38 34h10v1h-10zM38 35h13v1h-13zM38 36h15v1h-15zM39 37h16v1h-16zM38 38h19v1h-19zM39 39h19v1h-19zM39 40h22v1h-22zM40 41h12v1h-12zM53 41h3v1h-3zM57 41h4v1h-4zM40 42h13v1h-13zM58 42h5v2h-5zM39 43h14v1h-14zM39 44h5v1h-5zM58 44h7v1h-7zM45 44h8v2h-8zM38 45h5v1h-5zM56 45h10v1h-10zM38 46h4v1h-4zM45 46h21v1h-21zM37 47h5v1h-5zM45 47h22v1h-22zM46 48h22v1h-22zM34 48h7v2h-7zM42 49h26v1h-26zM33 50h37v1h-37zM33 51h26v1h-26zM61 51h10v1h-10zM33 52h1v1h-1zM36 52h23v1h-23zM62 52h9v1h-9zM39 53h18v1h-18zM39 54h19v1h-19zM64 53h8v4h-8zM38 55h20v2h-20zM35 57h12v1h-12zM48 57h12v1h-12zM66 57h6v1h-6zM37 58h9v1h-9zM51 58h10v1h-10zM67 58h5v1h-5zM37 59h6v1h-6zM52 59h13v1h-13zM68 59h4v2h-4zM37 60h5v1h-5zM52 60h14v1h-14zM38 61h3v1h-3zM53 61h12v1h-12zM67 61h5v1h-5zM53 62h19v1h-19zM39 62h2v2h-2zM53 63h16v1h-16zM70 63h2v1h-2zM53 64h18v1h-18zM53 65h5v1h-5zM59 65h10v1h-10zM62 66h6v1h-6zM64 71h1v1h-1zM63 72h2v1h-2zM64 73h1v1h-1zM63 74h3v1h-3zM71 74h1v2h-1zM62 75h4v1h-4zM61 76h6v1h-6zM70 76h2v1h-2zM61 77h7v1h-7zM69 77h3v1h-3zM61 78h11v2h-11zM61 80h7v1h-7zM70 80h2v1h-2zM62 81h4v1h-4zM69 81h3v1h-3zM62 82h3v1h-3zM67 82h5v1h-5zM62 83h10v3h-10zM63 86h9v1h-9z"/>
<path fill="#c5e81e" d="M52 41h1v1h-1zM56 41h1v1h-1zM53 42h5v3h-5zM53 45h3v1h-3zM59 51h2v1h-2zM59 52h3v1h-3zM57 53h7v1h-7zM58 54h6v3h-6zM47 57h1v1h-1zM60 57h6v1h-6zM46 58h5v1h-5zM61 58h6v1h-6zM43 59h9v1h-9zM65 59h3v1h-3zM42 60h10v1h-10zM66 60h2v1h-2zM65 61h2v1h-2zM41 61h12v3h-12zM69 63h1v1h-1zM40 64h13v1h-13zM71 64h1v1h-1zM41 65h12v1h-12zM58 65h1v1h-1zM69 65h2v1h-2zM40 66h22v1h-22zM68 66h3v1h-3zM40 67h29v1h-29zM39 68h28v1h-28zM70 68h2v1h-2zM38 69h9v1h-9zM48 69h19v1h-19zM69 69h3v1h-3zM38 70h8v1h-8zM48 70h2v1h-2zM51 70h21v1h-21zM36 71h10v1h-10zM50 71h14v1h-14zM35 72h12v1h-12zM51 72h12v1h-12zM65 71h7v3h-7zM33 73h13v1h-13zM51 73h13v1h-13zM32 74h14v1h-14zM51 74h12v1h-12zM66 74h5v2h-5zM46 75h1v1h-1zM51 75h11v1h-11zM32 75h13v2h-13zM52 76h2v1h-2zM55 76h6v1h-6zM67 76h3v1h-3zM31 77h6v1h-6zM38 77h6v1h-6zM51 77h1v1h-1zM53 77h8v1h-8zM68 77h1v1h-1zM30 78h7v1h-7zM40 78h3v1h-3zM52 78h9v2h-9zM29 79h8v1h-8zM29 80h7v1h-7zM54 80h7v1h-7zM28 81h8v1h-8zM54 81h8v1h-8zM58 82h4v1h-4zM59 83h3v2h-3zM41 84h1v1h-1zM43 84h1v1h-1zM58 85h4v1h-4zM56 86h7v1h-7z"/>
<path fill="#f5fb0c" d="M2 0h3v1h-3zM9 0h5v1h-5zM2 1h4v1h-4zM10 1h4v1h-4zM11 2h3v2h-3zM3 2h3v3h-3zM11 4h2v3h-2zM4 5h2v2h-2zM4 7h1v1h-1zM10 7h4v1h-4zM4 8h2v1h-2zM10 8h1v2h-1zM5 9h1v1h-1zM15 10h1v1h-1zM17 12h1v1h-1zM18 14h2v1h-2zM19 15h2v1h-2zM20 16h2v1h-2zM19 17h2v1h-2zM19 18h3v1h-3zM19 19h4v1h-4zM19 20h5v1h-5zM19 21h6v1h-6zM18 22h8v1h-8zM19 23h7v1h-7zM20 24h7v1h-7zM22 25h5v2h-5zM24 27h2v1h-2zM17 27h1v2h-1zM24 28h3v1h-3zM17 29h2v1h-2zM24 29h5v1h-5zM16 30h3v1h-3zM25 30h1v1h-1zM16 31h2v1h-2zM37 31h1v1h-1zM36 32h2v1h-2zM37 33h1v1h-1zM37 35h1v2h-1zM37 37h2v1h-2zM35 38h3v1h-3zM35 39h4v1h-4zM34 40h5v1h-5zM34 41h6v2h-6zM33 43h6v2h-6zM33 45h5v1h-5zM32 46h6v1h-6zM36 47h1v1h-1zM32 52h1v1h-1zM34 52h2v1h-2zM29 53h10v2h-10zM9 54h1v1h-1zM24 55h14v1h-14zM23 56h15v1h-15zM22 57h13v1h-13zM9 57h1v2h-1zM21 58h16v1h-16zM20 59h17v1h-17zM19 60h18v1h-18zM9 61h1v1h-1zM18 61h20v1h-20zM18 62h21v1h-21zM17 63h22v1h-22zM8 64h1v1h-1zM18 64h18v1h-18zM38 64h2v1h-2zM19 65h17v1h-17zM38 65h3v1h-3zM71 65h1v2h-1zM20 66h16v1h-16zM38 66h2v1h-2zM20 67h15v1h-15zM36 67h4v1h-4zM69 67h3v1h-3zM7 68h2v1h-2zM19 68h15v1h-15zM35 68h4v1h-4zM67 68h3v1h-3zM47 69h1v1h-1zM67 69h2v1h-2zM20 69h18v2h-18zM9 70h1v1h-1zM46 70h2v1h-2zM50 70h1v1h-1zM21 71h15v1h-15zM46 71h4v1h-4zM21 72h14v1h-14zM47 72h4v1h-4zM21 73h12v1h-12zM46 73h5v2h-5zM19 74h13v2h-13zM45 75h1v1h-1zM47 75h4v1h-4zM18 76h14v1h-14zM45 76h7v1h-7zM54 76h1v1h-1zM17 77h14v1h-14zM37 77h1v1h-1zM44 77h7v1h-7zM52 77h1v1h-1zM16 78h1v1h-1zM18 78h12v1h-12zM37 78h3v1h-3zM43 78h9v1h-9zM37 79h15v1h-15zM15 79h14v2h-14zM36 80h18v2h-18zM15 81h13v1h-13zM4 80h2v3h-2zM14 82h44v1h-44zM3 83h2v1h-2zM14 83h45v1h-45zM14 84h27v1h-27zM42 84h1v1h-1zM44 84h15v1h-15zM13 85h45v1h-45zM13 86h43v1h-43z"/>
<path fill="#ffcc08" d="M5 0h4v1h-4zM6 1h4v1h-4zM6 2h5v5h-5zM5 7h2v1h-2zM8 7h1v1h-1zM6 8h4v1h-4zM6 9h2v1h-2zM18 24h2v1h-2zM18 25h4v2h-4zM18 27h6v2h-6zM19 29h5v1h-5zM19 30h2v1h-2zM24 30h1v1h-1zM26 30h2v1h-2zM30 30h2v1h-2zM18 31h2v1h-2zM16 32h2v1h-2zM15 33h2v1h-2zM15 34h1v1h-1zM29 41h1v2h-1zM28 43h2v1h-2zM27 44h4v1h-4zM26 45h5v1h-5zM32 45h1v1h-1zM23 46h8v1h-8zM32 47h4v1h-4zM24 47h6v2h-6zM32 48h2v1h-2zM20 49h14v1h-14zM20 50h13v1h-13zM22 51h11v1h-11zM21 52h11v1h-11zM11 53h1v1h-1zM21 53h8v2h-8zM10 54h1v1h-1zM20 55h4v1h-4zM20 56h3v1h-3zM20 57h2v1h-2zM19 58h2v1h-2zM10 58h3v2h-3zM17 59h3v1h-3zM10 60h9v1h-9zM10 61h8v1h-8zM12 62h6v1h-6zM16 63h1v1h-1zM17 64h1v1h-1zM17 65h2v1h-2zM36 64h2v3h-2zM7 66h1v1h-1zM18 66h2v1h-2zM7 67h2v1h-2zM19 67h1v1h-1zM35 67h1v1h-1zM34 68h1v1h-1zM8 69h1v1h-1zM18 69h2v2h-2zM18 71h3v1h-3zM10 71h1v3h-1zM19 72h2v2h-2zM10 74h2v1h-2zM18 74h1v1h-1zM10 75h3v1h-3zM17 75h2v1h-2zM10 76h2v1h-2zM17 76h1v1h-1zM11 77h2v1h-2zM15 77h2v1h-2zM10 78h3v1h-3zM14 78h2v1h-2zM17 78h1v1h-1zM10 79h5v2h-5zM13 81h2v1h-2zM13 82h1v1h-1z"/>
<path fill="#ff8f08" d="M32 29h1v1h-1zM34 29h1v1h-1zM22 30h2v1h-2zM28 30h2v1h-2zM20 31h1v1h-1zM23 31h6v1h-6zM30 31h1v1h-1zM18 32h2v1h-2zM24 32h1v1h-1zM17 33h2v1h-2zM16 34h1v1h-1zM37 34h1v1h-1zM15 35h1v1h-1zM14 36h2v1h-2zM30 37h2v1h-2zM29 38h6v1h-6zM30 39h5v1h-5zM29 40h5v1h-5zM28 41h1v2h-1zM30 41h4v2h-4zM30 43h3v1h-3zM31 44h2v1h-2zM31 45h1v2h-1zM19 46h4v1h-4zM16 47h8v1h-8zM30 47h2v2h-2zM13 48h11v1h-11zM12 49h1v1h-1zM14 49h6v1h-6zM14 50h3v1h-3zM20 51h2v1h-2zM19 52h2v3h-2zM11 54h1v1h-1zM10 55h2v1h-2zM10 56h1v1h-1zM19 55h1v3h-1zM10 57h3v1h-3zM15 59h1v1h-1zM9 62h3v1h-3zM9 63h7v1h-7zM9 64h2v1h-2zM12 64h3v1h-3zM8 65h2v2h-2zM9 67h2v1h-2zM18 67h1v2h-1zM9 68h1v2h-1zM10 70h1v1h-1zM17 71h1v1h-1zM11 71h1v2h-1zM18 72h1v1h-1zM11 73h3v1h-3zM16 73h3v1h-3zM12 74h6v1h-6zM13 75h4v1h-4zM12 76h5v1h-5zM13 77h2v1h-2zM13 78h1v1h-1zM9 80h1v1h-1zM8 81h2v1h-2zM11 81h2v2h-2zM5 83h1v1h-1zM12 83h2v2h-2zM12 85h1v1h-1zM3 84h3v3h-3zM7 86h1v1h-1zM11 86h2v1h-2z"/>
<path fill="#ff5505" d="M7 7h1v1h-1zM9 7h1v1h-1zM33 29h1v1h-1zM21 30h1v1h-1zM32 30h4v1h-4zM21 31h2v1h-2zM29 31h1v1h-1zM31 31h6v1h-6zM20 32h4v1h-4zM25 32h11v1h-11zM19 33h18v1h-18zM17 34h9v1h-9zM28 34h9v1h-9zM16 35h7v1h-7zM29 35h8v1h-8zM24 35h2v2h-2zM16 36h5v1h-5zM30 36h7v1h-7zM13 37h7v1h-7zM24 37h1v1h-1zM29 37h1v1h-1zM32 37h5v1h-5zM14 38h5v1h-5zM29 39h1v1h-1zM12 39h6v2h-6zM28 40h1v1h-1zM12 41h5v1h-5zM11 42h5v1h-5zM13 43h3v1h-3zM13 44h2v1h-2zM26 44h1v1h-1zM13 45h1v1h-1zM21 45h2v1h-2zM24 45h2v1h-2zM13 46h2v2h-2zM12 48h1v1h-1zM13 49h1v2h-1zM13 51h2v1h-2zM13 52h1v1h-1zM12 55h1v1h-1zM11 56h2v1h-2zM11 64h1v1h-1zM15 64h2v1h-2zM10 65h7v1h-7zM17 66h1v5h-1zM16 71h1v1h-1zM15 72h3v1h-3zM14 73h2v1h-2zM10 81h1v1h-1zM8 82h3v1h-3zM7 83h1v1h-1zM11 83h1v3h-1z"/>
<path fill="#ff1505" d="M26 34h2v1h-2zM23 35h1v1h-1zM26 35h3v1h-3zM21 36h3v1h-3zM26 36h4v1h-4zM20 37h4v1h-4zM25 37h4v1h-4zM19 38h10v1h-10zM18 39h2v1h-2zM22 39h7v1h-7zM18 40h1v1h-1zM23 40h5v1h-5zM17 41h2v1h-2zM24 41h4v1h-4zM23 42h5v2h-5zM22 44h4v1h-4zM14 45h1v1h-1zM19 45h2v1h-2zM23 45h1v1h-1zM15 46h4v1h-4zM15 47h1v1h-1zM17 50h2v1h-2zM15 51h2v1h-2zM19 51h1v1h-1zM14 52h1v1h-1zM12 53h1v2h-1zM18 56h1v2h-1zM13 55h1v4h-1zM17 58h2v1h-2zM13 59h2v1h-2zM16 59h1v1h-1zM10 66h7v1h-7zM11 67h6v1h-6zM10 68h3v1h-3zM14 68h3v2h-3zM10 69h2v1h-2zM11 70h2v1h-2zM15 70h2v1h-2zM12 71h2v1h-2zM15 71h1v1h-1zM12 72h3v1h-3zM8 83h3v1h-3zM9 84h2v1h-2zM8 85h3v2h-3z"/>
<path fill="#d20000" d="M20 39h2v1h-2zM19 40h4v1h-4zM19 41h5v1h-5zM16 42h7v2h-7zM15 44h7v1h-7zM15 45h4v1h-4zM19 50h1v1h-1zM18 51h1v1h-1zM15 52h2v1h-2zM13 53h6v2h-6zM14 55h5v1h-5zM16 56h2v1h-2zM17 57h1v1h-1zM14 56h1v3h-1zM16 58h1v1h-1zM13 68h1v1h-1zM12 69h2v1h-2zM13 70h2v1h-2zM14 71h1v1h-1z"/>
<path fill="#9a0000" d="M17 51h1v1h-1zM17 52h2v1h-2zM15 56h1v1h-1zM15 57h2v1h-2zM15 58h1v1h-1z"/>
</g>
<polygon points="567.2,92.5 568.3,92.5 571.1,94.5 574.1,96.5 576.5,99.0 579.0,102.4 581.0,105.4 582.9,108.8 586.9,108.3 590.3,109.8 592.8,113.3 595.8,117.7 597.7,121.6 601.2,123.1 602.7,120.2 603.2,116.2 605.1,112.3 604.1,106.4 602.7,100.4 601.2,94.5 601.4,90.6 602.7,89.8 604.1,91.1 606.1,97.5 608.6,104.4 611.0,111.3 613.5,118.2 615.5,124.1 617.9,126.1 619.9,132.0 622.9,137.9 620.9,142.3 618.4,146.3 616.5,149.3 610.5,151.2 608.6,153.2 602.7,154.2 600.2,156.6 597.7,158.6 598.2,161.6 596.2,165.5 595.3,169.0 592.8,170.9 589.3,172.9 591.3,175.9 595.8,178.8 598.7,177.9 601.2,180.8 604.1,183.3 605.1,189.2 605.6,192.2 604.1,196.6 603.6,203.5 602.2,208.0 599.2,210.4 600.7,213.9 598.7,217.3 595.3,217.3 592.3,216.4 593.8,219.8 592.3,224.2 590.3,228.7 587.9,233.1 586.9,237.6 584.4,242.0 584.9,246.9 585.9,249.9 583.4,253.8 579.0,256.3 576.5,259.3 574.6,259.7 575.0,264.7 574.1,270.6 571.6,271.6 570.6,272.6 571.1,275.5 570.1,278.0 568.3,279.0 568.3,280.9 572.1,281.4 573.1,283.9 572.1,287.9 570.6,291.3 568.3,293.3 567.2,293.3" fill="#000"/>
<polygon points="586.9,276.5 589.3,275.7 590.8,277.0 590.8,281.4 591.3,285.4 593.3,289.3 594.8,293.8 594.3,296.7 591.8,299.2 591.8,303.1 590.3,304.6 586.9,305.6 585.9,302.2 583.4,299.7 580.5,297.7 581.9,294.8 584.4,291.3 585.9,286.9 585.4,282.4 586.4,279.0" fill="#000"/>
</g>
<rect x="568.7" y="64.9" width="220.8" height="1.7" fill="#fff" opacity="0.5"/>
<rect x="568.2" y="64.5" width="221.8" height="268.5" fill="none" stroke="#6e6e6e" stroke-width="1.1"/>
<path d="M595.7 64.5v2.5M595.7 333.0v-2.5M734.7 64.5v2.5M734.7 333.0v-2.5M790.0 106.5h-2.5M790.0 152.5h-2.5M790.0 198.5h-2.5M790.0 244.5h-2.5M790.0 291.5h-2.5" stroke="#444" stroke-width="0.8" fill="none"/>
<g clip-path="url(#cr2c1)" shape-rendering="crispEdges">
<g transform="translate(107.00 341.30) scale(3.0903 3.0816)">
<path fill="#98d822" d="M30 0h5v1h-5zM36 0h10v1h-10zM55 0h12v1h-12zM68 0h1v1h-1zM31 1h14v1h-14zM54 1h12v1h-12zM54 2h9v1h-9zM36 2h7v2h-7zM54 3h10v1h-10zM69 3h1v1h-1zM37 4h7v1h-7zM49 4h1v1h-1zM54 4h12v1h-12zM68 4h2v1h-2zM36 5h8v1h-8zM48 5h5v1h-5zM54 5h16v1h-16zM36 6h34v1h-34zM37 7h33v3h-33zM36 10h33v1h-33zM37 11h32v1h-32zM37 12h1v1h-1zM40 12h28v1h-28zM40 13h7v1h-7zM48 13h19v1h-19zM48 14h18v1h-18zM33 15h2v1h-2zM48 15h15v1h-15zM40 14h5v3h-5zM31 16h4v1h-4zM47 16h16v1h-16zM25 17h2v1h-2zM30 17h6v1h-6zM40 17h23v2h-23zM26 18h9v1h-9zM19 19h2v1h-2zM24 19h12v1h-12zM39 19h23v1h-23zM19 20h43v1h-43zM20 21h42v2h-42zM21 23h40v1h-40zM21 24h39v1h-39zM21 25h15v1h-15zM37 25h20v1h-20zM58 25h2v1h-2zM21 26h14v1h-14zM39 26h15v1h-15zM58 26h1v1h-1zM40 27h15v1h-15zM58 27h2v1h-2zM39 28h20v1h-20zM21 27h8v3h-8zM43 29h13v1h-13zM39 29h2v2h-2zM21 30h9v1h-9zM32 30h1v1h-1zM46 30h9v1h-9zM21 31h20v1h-20zM47 31h7v1h-7zM21 32h19v1h-19zM48 32h3v1h-3zM18 33h22v1h-22zM17 34h6v1h-6zM24 34h16v1h-16zM45 34h2v1h-2zM18 35h2v1h-2zM26 35h1v1h-1zM28 35h12v1h-12zM44 35h4v1h-4zM18 36h1v1h-1zM30 36h21v1h-21zM31 37h20v1h-20zM33 38h19v1h-19zM38 39h21v1h-21zM39 40h21v1h-21zM41 41h9v1h-9zM52 41h8v1h-8zM43 42h6v1h-6zM54 42h7v1h-7zM60 43h2v1h-2zM61 44h1v1h-1zM62 46h1v1h-1zM63 48h1v1h-1zM64 50h1v2h-1zM64 52h2v2h-2zM65 54h2v3h-2zM66 57h1v1h-1zM30 58h3v1h-3zM67 58h2v1h-2zM31 59h3v1h-3zM67 59h1v1h-1zM68 60h1v1h-1zM31 60h2v2h-2zM28 66h1v1h-1zM27 67h3v1h-3zM29 68h1v1h-1zM50 75h1v1h-1zM47 76h4v1h-4zM47 77h3v1h-3zM47 78h1v1h-1zM7 85h2v1h-2zM3 86h6v1h-6z"/>
<path fill="#6cc530" d="M46 0h9v1h-9zM67 0h1v1h-1zM45 1h9v1h-9zM66 1h3v1h-3zM63 2h6v1h-6zM43 2h11v2h-11zM64 3h5v1h-5zM44 4h5v1h-5zM50 4h4v1h-4zM66 4h2v1h-2zM44 5h4v1h-4zM53 5h1v1h-1zM47 13h1v1h-1zM45 14h3v2h-3zM23 15h1v1h-1zM45 16h2v1h-2zM19 16h6v2h-6zM18 18h8v1h-8zM21 19h3v1h-3zM36 25h1v1h-1zM57 25h1v1h-1zM35 26h4v1h-4zM54 26h4v1h-4zM29 27h11v1h-11zM55 27h3v1h-3zM59 28h1v1h-1zM29 28h10v2h-10zM41 29h2v1h-2zM30 30h2v1h-2zM33 30h6v1h-6zM41 30h5v1h-5zM41 31h6v1h-6zM40 32h8v1h-8zM51 32h6v1h-6zM40 33h19v1h-19zM61 33h1v1h-1zM40 34h5v1h-5zM47 34h16v1h-16zM40 35h4v1h-4zM48 35h16v1h-16zM65 35h2v1h-2zM51 36h17v2h-17zM52 38h16v1h-16zM59 39h9v1h-9zM60 40h9v1h-9zM60 41h10v1h-10zM61 42h11v1h-11zM62 43h10v1h-10zM65 44h7v1h-7zM62 44h2v2h-2zM66 45h6v1h-6zM63 46h1v1h-1zM67 46h5v2h-5zM63 47h3v1h-3zM64 48h8v1h-8zM64 49h6v1h-6zM65 50h4v2h-4zM66 52h3v2h-3zM39 54h2v1h-2zM67 54h2v1h-2zM38 55h3v1h-3zM67 55h3v1h-3zM39 56h1v1h-1zM67 56h4v1h-4zM67 57h5v1h-5zM69 58h3v1h-3zM68 59h4v1h-4zM69 60h3v1h-3z"/>
<path fill="#3eb040" d="M64 44h1v1h-1zM64 45h2v1h-2zM64 46h3v1h-3zM66 47h1v1h-1z"/>
<path fill="#c5e81e" d="M36 11h1v2h-1zM38 12h2v1h-2zM35 13h5v4h-5zM36 17h4v1h-4zM35 18h5v1h-5zM36 19h3v1h-3zM23 34h1v1h-1zM20 35h6v1h-6zM27 35h1v1h-1zM19 36h11v1h-11zM18 37h13v1h-13zM18 38h15v1h-15zM18 39h20v1h-20zM18 40h2v1h-2zM21 40h18v1h-18zM25 41h16v1h-16zM50 41h1v1h-1zM38 42h5v1h-5zM34 42h2v2h-2zM39 43h6v1h-6zM55 43h5v1h-5zM34 44h3v1h-3zM44 44h1v1h-1zM57 44h4v1h-4zM35 45h2v1h-2zM57 45h2v1h-2zM61 45h1v1h-1zM34 46h6v1h-6zM33 47h13v1h-13zM62 47h1v2h-1zM33 48h14v1h-14zM33 49h15v1h-15zM62 49h2v1h-2zM33 50h16v1h-16zM12 51h1v1h-1zM33 51h14v1h-14zM33 52h13v1h-13zM63 50h1v4h-1zM32 53h13v1h-13zM31 54h8v1h-8zM41 54h4v2h-4zM63 54h2v2h-2zM30 55h8v1h-8zM30 56h9v1h-9zM40 56h4v1h-4zM64 56h1v1h-1zM29 57h14v1h-14zM48 57h2v1h-2zM65 57h1v1h-1zM22 58h1v1h-1zM28 58h2v1h-2zM33 58h10v1h-10zM47 58h3v1h-3zM64 58h3v2h-3zM21 59h3v1h-3zM34 59h9v1h-9zM45 59h5v1h-5zM28 59h3v2h-3zM44 60h7v1h-7zM64 60h1v1h-1zM33 60h10v2h-10zM29 61h2v1h-2zM44 61h8v1h-8zM29 62h24v1h-24zM30 63h30v1h-30zM29 64h30v1h-30zM27 65h8v1h-8zM38 65h20v1h-20zM23 66h5v1h-5zM29 66h6v1h-6zM39 66h19v1h-19zM14 67h1v1h-1zM22 67h5v1h-5zM30 67h4v1h-4zM40 67h16v1h-16zM22 68h7v1h-7zM30 68h3v1h-3zM41 68h14v1h-14zM12 68h4v2h-4zM42 69h12v1h-12zM23 69h8v2h-8zM11 70h6v1h-6zM42 70h11v1h-11zM12 71h4v1h-4zM22 71h9v1h-9zM42 71h10v1h-10zM11 72h4v1h-4zM22 72h10v1h-10zM42 72h9v1h-9zM21 73h12v1h-12zM41 73h11v1h-11zM70 73h1v1h-1zM12 73h3v2h-3zM21 74h11v1h-11zM40 74h12v1h-12zM70 74h2v1h-2zM12 75h1v1h-1zM21 75h29v1h-29zM51 75h1v1h-1zM71 75h1v1h-1zM20 76h27v1h-27zM70 76h2v2h-2zM19 77h28v1h-28zM21 78h26v1h-26zM22 79h18v1h-18zM22 80h16v1h-16zM24 81h14v1h-14zM25 82h13v1h-13zM26 83h1v1h-1zM28 83h9v1h-9zM30 84h2v1h-2z"/>
<path fill="#f5fb0c" d="M22 15h1v1h-1zM20 40h1v1h-1zM17 41h8v1h-8zM51 41h1v1h-1zM36 42h2v1h-2zM49 42h5v1h-5zM36 43h3v1h-3zM45 43h5v1h-5zM51 43h4v1h-4zM17 42h17v3h-17zM37 44h7v1h-7zM45 44h3v1h-3zM51 44h6v2h-6zM17 45h18v1h-18zM37 45h11v1h-11zM59 45h2v1h-2zM16 46h18v1h-18zM40 46h8v1h-8zM51 46h11v2h-11zM46 47h3v1h-3zM47 48h15v1h-15zM16 47h17v3h-17zM48 49h14v1h-14zM14 50h19v1h-19zM49 50h14v1h-14zM13 51h20v1h-20zM47 51h16v1h-16zM15 52h18v1h-18zM46 52h8v1h-8zM15 53h17v1h-17zM56 52h7v3h-7zM15 54h16v1h-16zM45 53h9v3h-9zM12 55h18v1h-18zM57 55h6v1h-6zM13 56h17v1h-17zM44 56h9v1h-9zM63 56h1v1h-1zM14 57h15v1h-15zM43 57h5v1h-5zM64 57h1v1h-1zM14 58h8v1h-8zM23 58h5v1h-5zM43 58h4v1h-4zM50 57h4v3h-4zM14 59h7v1h-7zM24 59h4v1h-4zM43 59h2v1h-2zM14 60h14v1h-14zM51 60h3v1h-3zM55 60h3v1h-3zM43 60h1v2h-1zM52 61h8v1h-8zM63 59h1v4h-1zM15 61h14v2h-14zM53 62h9v1h-9zM15 63h15v1h-15zM60 63h1v1h-1zM15 64h14v1h-14zM14 65h13v1h-13zM35 65h3v1h-3zM14 66h9v1h-9zM35 66h4v1h-4zM15 67h7v1h-7zM34 67h6v1h-6zM16 68h6v1h-6zM33 68h8v1h-8zM16 69h7v1h-7zM31 69h11v2h-11zM17 70h6v1h-6zM16 71h6v1h-6zM31 71h2v1h-2zM35 71h7v2h-7zM15 72h7v1h-7zM32 72h1v1h-1zM35 73h6v1h-6zM15 73h6v2h-6zM35 74h5v1h-5zM13 75h8v1h-8zM13 76h7v1h-7zM14 77h5v1h-5zM13 78h8v1h-8zM18 79h4v2h-4zM19 81h4v1h-4zM19 82h2v1h-2zM18 83h3v1h-3zM13 84h8v1h-8zM12 85h8v1h-8z"/>
<path fill="#ffcc08" d="M50 43h1v1h-1zM48 44h3v3h-3zM49 47h2v1h-2zM12 52h3v2h-3zM54 52h2v3h-2zM11 54h4v1h-4zM54 55h3v1h-3zM53 56h10v1h-10zM54 57h3v1h-3zM59 57h5v1h-5zM54 58h10v1h-10zM54 59h9v1h-9zM54 60h1v1h-1zM58 60h5v1h-5zM60 61h3v1h-3zM62 62h1v1h-1zM33 71h2v3h-2zM32 74h3v1h-3zM12 79h6v1h-6zM11 80h7v1h-7zM11 81h8v1h-8zM10 82h9v1h-9zM10 83h8v1h-8zM10 84h3v1h-3zM10 85h2v1h-2z"/>
<path fill="#ff8f08" d="M57 57h2v1h-2z"/>
</g>
<polygon points="105.9,369.3 107.1,369.3 109.9,371.3 112.8,373.3 115.3,375.7 117.8,379.2 119.7,382.1 121.7,385.6 125.7,385.1 129.1,386.6 131.6,390.0 134.5,394.5 136.5,398.4 140.0,399.9 141.4,396.9 141.9,393.0 143.9,389.0 142.9,383.1 141.4,377.2 140.0,371.3 140.2,367.4 141.4,366.6 142.9,367.8 144.9,374.3 147.4,381.2 149.8,388.1 152.3,395.0 154.3,400.9 156.7,402.9 158.7,408.8 161.7,414.7 159.7,419.1 157.2,423.1 155.2,426.0 149.3,428.0 147.4,430.0 141.4,431.0 139.0,433.4 136.5,435.4 137.0,438.4 135.0,442.3 134.0,445.8 131.6,447.7 128.1,449.7 130.1,452.7 134.5,455.6 137.5,454.6 140.0,457.6 142.9,460.1 143.9,466.0 144.4,469.0 142.9,473.4 142.4,480.3 140.9,484.7 138.0,487.2 139.5,490.7 137.5,494.1 134.0,494.1 131.1,493.1 132.6,496.6 131.1,501.0 129.1,505.5 126.6,509.9 125.7,514.3 123.2,518.8 123.7,523.7 124.7,526.7 122.2,530.6 117.8,533.1 115.3,536.0 113.3,536.5 113.8,541.5 112.8,547.4 110.4,548.4 109.4,549.3 109.9,552.3 108.9,554.8 107.1,555.8 107.1,557.7 110.9,558.2 111.9,560.7 110.9,564.6 109.4,568.1 107.1,570.1 105.9,570.1" fill="#000"/>
<polygon points="125.7,553.3 128.1,552.5 129.6,553.8 129.6,558.2 130.1,562.2 132.1,566.1 133.5,570.5 133.1,573.5 130.6,576.0 130.6,579.9 129.1,581.4 125.7,582.4 124.7,578.9 122.2,576.5 119.2,574.5 120.7,571.5 123.2,568.1 124.7,563.6 124.2,559.2 125.2,555.8" fill="#000"/>
</g>
<rect x="107.5" y="341.7" width="221.5" height="1.7" fill="#fff" opacity="0.5"/>
<rect x="107.0" y="341.3" width="222.5" height="268.1" fill="none" stroke="#6e6e6e" stroke-width="1.1"/>
<path d="M134.5 341.3v2.5M134.5 609.4v-2.5M273.5 341.3v2.5M273.5 609.4v-2.5M329.5 383.3h-2.5M329.5 429.3h-2.5M329.5 475.3h-2.5M329.5 521.3h-2.5M329.5 568.3h-2.5" stroke="#444" stroke-width="0.8" fill="none"/>
<g clip-path="url(#cr2c2)" shape-rendering="crispEdges">
<g transform="translate(338.50 341.00) scale(3.0833 3.0770)">
<path fill="#98d822" d="M30 0h15v1h-15zM54 0h13v1h-13zM68 0h4v1h-4zM16 0h5v2h-5zM30 1h14v1h-14zM54 1h11v1h-11zM70 1h2v2h-2zM31 2h12v1h-12zM54 2h10v1h-10zM31 3h13v1h-13zM54 3h9v1h-9zM65 3h3v1h-3zM69 3h3v1h-3zM32 4h11v1h-11zM54 4h18v2h-18zM32 5h13v1h-13zM49 5h1v1h-1zM33 6h39v1h-39zM34 7h38v1h-38zM35 8h37v2h-37zM28 9h3v1h-3zM28 10h4v1h-4zM36 10h36v1h-36zM26 11h6v1h-6zM37 11h35v1h-35zM27 12h6v1h-6zM38 12h34v1h-34zM27 13h7v1h-7zM39 13h6v1h-6zM48 13h24v1h-24zM21 14h1v1h-1zM28 14h7v1h-7zM40 14h5v1h-5zM47 14h25v1h-25zM26 15h9v1h-9zM41 15h3v1h-3zM48 15h24v2h-24zM18 16h2v1h-2zM25 16h10v1h-10zM40 16h5v1h-5zM40 17h6v1h-6zM47 17h25v1h-25zM18 17h1v2h-1zM24 17h11v2h-11zM39 18h33v2h-33zM18 19h2v1h-2zM23 19h12v1h-12zM36 19h2v1h-2zM18 20h3v1h-3zM22 20h50v1h-50zM18 21h54v3h-54zM18 24h18v1h-18zM37 24h35v2h-35zM18 25h17v1h-17zM18 26h14v1h-14zM34 26h1v1h-1zM39 26h16v1h-16zM58 26h14v1h-14zM18 27h13v1h-13zM39 27h17v1h-17zM57 27h8v1h-8zM18 28h10v1h-10zM40 28h2v1h-2zM43 28h21v1h-21zM39 29h3v1h-3zM44 29h13v1h-13zM59 29h1v1h-1zM19 29h11v2h-11zM32 30h1v1h-1zM34 30h1v1h-1zM38 30h2v1h-2zM45 30h12v1h-12zM46 31h5v1h-5zM52 31h3v1h-3zM19 31h20v2h-20zM48 32h2v1h-2zM19 33h21v1h-21zM45 33h1v1h-1zM19 34h20v1h-20zM45 34h2v2h-2zM19 35h1v1h-1zM22 35h1v1h-1zM25 35h1v1h-1zM28 35h11v1h-11zM30 36h12v1h-12zM43 36h5v1h-5zM31 37h20v1h-20zM32 38h21v1h-21zM36 39h18v1h-18zM55 39h1v1h-1zM57 39h1v1h-1zM36 40h1v1h-1zM38 40h21v1h-21zM43 41h7v1h-7zM52 41h9v1h-9zM44 42h6v1h-6zM54 42h7v1h-7zM46 43h1v1h-1zM55 43h1v1h-1zM57 43h1v1h-1zM61 43h1v2h-1zM61 45h2v1h-2zM62 46h1v1h-1zM61 47h1v2h-1zM62 49h1v1h-1zM64 52h1v1h-1zM65 54h1v2h-1zM65 56h2v1h-2zM66 57h2v2h-2zM31 59h2v1h-2zM67 59h2v1h-2zM31 60h3v1h-3zM68 60h1v1h-1zM31 61h2v1h-2zM71 61h1v1h-1zM32 62h2v1h-2zM27 66h2v1h-2zM28 67h1v1h-1zM27 68h4v1h-4zM47 77h2v1h-2zM48 78h1v1h-1zM4 81h2v2h-2zM3 83h3v4h-3z"/>
<path fill="#6cc530" d="M45 0h9v1h-9zM67 0h1v1h-1zM44 1h10v1h-10zM65 1h5v1h-5zM43 2h11v1h-11zM64 2h6v1h-6zM44 3h10v1h-10zM63 3h2v1h-2zM68 3h1v1h-1zM43 4h11v1h-11zM45 5h4v1h-4zM50 5h4v1h-4zM45 13h3v1h-3zM20 14h1v1h-1zM45 14h2v1h-2zM44 15h4v1h-4zM20 15h5v2h-5zM45 16h3v1h-3zM46 17h1v1h-1zM19 17h5v2h-5zM20 19h3v1h-3zM21 20h1v1h-1zM36 24h1v1h-1zM35 25h2v1h-2zM32 26h2v1h-2zM35 26h4v1h-4zM55 26h3v1h-3zM31 27h8v1h-8zM56 27h1v1h-1zM65 27h7v1h-7zM28 28h12v1h-12zM42 28h1v1h-1zM64 28h8v1h-8zM30 29h9v1h-9zM42 29h2v1h-2zM57 29h2v1h-2zM60 29h12v1h-12zM30 30h2v1h-2zM33 30h1v1h-1zM35 30h3v1h-3zM40 30h5v1h-5zM57 30h15v1h-15zM39 31h7v1h-7zM51 31h1v1h-1zM55 31h17v1h-17zM39 32h9v1h-9zM50 32h22v1h-22zM40 33h5v1h-5zM46 33h26v1h-26zM39 34h6v2h-6zM47 34h25v2h-25zM42 36h1v1h-1zM48 36h24v1h-24zM51 37h21v1h-21zM53 38h19v1h-19zM54 39h1v1h-1zM56 39h1v1h-1zM58 39h14v1h-14zM59 40h13v1h-13zM61 41h11v2h-11zM62 43h10v2h-10zM63 45h9v1h-9zM63 46h2v1h-2zM67 46h5v1h-5zM62 47h2v1h-2zM68 47h4v1h-4zM62 48h1v1h-1zM64 48h1v1h-1zM66 48h6v1h-6zM63 49h9v2h-9zM64 51h8v1h-8zM65 52h7v2h-7zM40 53h1v1h-1zM39 54h2v1h-2zM66 54h6v2h-6zM38 55h3v1h-3zM39 56h1v1h-1zM67 56h5v1h-5zM68 57h4v2h-4zM69 59h3v2h-3z"/>
<path fill="#3eb040" d="M65 46h2v1h-2zM64 47h4v1h-4zM63 48h1v1h-1zM65 48h1v1h-1z"/>
<path fill="#c5e81e" d="M24 0h6v1h-6zM25 1h5v1h-5zM26 2h5v2h-5zM26 4h6v1h-6zM24 5h8v1h-8zM24 6h9v1h-9zM24 7h10v1h-10zM24 8h11v1h-11zM31 9h4v1h-4zM25 9h3v2h-3zM32 10h4v1h-4zM32 11h5v1h-5zM33 12h5v1h-5zM26 12h1v2h-1zM34 13h5v1h-5zM25 14h3v1h-3zM35 14h5v1h-5zM25 15h1v1h-1zM35 15h6v1h-6zM35 16h5v2h-5zM35 18h4v1h-4zM35 19h1v1h-1zM38 19h1v1h-1zM20 35h2v1h-2zM23 35h2v1h-2zM26 35h2v1h-2zM19 36h11v1h-11zM19 37h12v1h-12zM19 38h13v1h-13zM19 39h17v1h-17zM19 40h2v1h-2zM22 40h14v1h-14zM37 40h1v1h-1zM18 41h1v1h-1zM26 41h4v1h-4zM32 41h11v1h-11zM50 41h1v1h-1zM26 42h3v1h-3zM34 42h10v1h-10zM33 43h6v1h-6zM40 43h1v1h-1zM43 43h3v1h-3zM47 43h1v1h-1zM56 43h1v1h-1zM58 43h3v1h-3zM33 44h3v1h-3zM43 44h1v1h-1zM56 44h5v1h-5zM33 45h4v1h-4zM60 45h1v1h-1zM33 46h5v1h-5zM45 46h1v1h-1zM61 46h1v1h-1zM33 47h13v1h-13zM60 47h1v1h-1zM33 48h14v1h-14zM33 49h15v1h-15zM61 49h1v1h-1zM33 50h16v1h-16zM62 50h1v1h-1zM33 51h15v1h-15zM63 51h1v2h-1zM32 52h14v1h-14zM32 53h8v1h-8zM41 53h4v2h-4zM31 54h8v1h-8zM30 55h8v1h-8zM41 55h3v1h-3zM64 53h1v4h-1zM30 56h9v1h-9zM40 56h5v1h-5zM29 57h16v1h-16zM48 57h1v1h-1zM23 57h1v2h-1zM65 57h1v2h-1zM20 58h1v1h-1zM28 58h16v1h-16zM47 58h3v1h-3zM20 59h3v1h-3zM33 59h10v1h-10zM46 59h4v1h-4zM65 59h2v1h-2zM28 59h3v2h-3zM20 60h2v1h-2zM34 60h10v1h-10zM45 60h5v1h-5zM65 60h3v1h-3zM29 61h2v1h-2zM33 61h18v1h-18zM65 61h6v1h-6zM29 62h3v1h-3zM34 62h17v1h-17zM55 62h1v1h-1zM65 62h7v1h-7zM29 63h22v1h-22zM53 63h4v1h-4zM65 63h3v1h-3zM69 63h3v2h-3zM29 64h28v1h-28zM24 65h34v1h-34zM70 65h2v2h-2zM23 66h4v1h-4zM29 66h6v1h-6zM39 66h19v1h-19zM21 67h7v1h-7zM29 67h5v1h-5zM40 67h15v1h-15zM56 67h1v1h-1zM20 68h7v1h-7zM31 68h2v1h-2zM40 68h16v1h-16zM10 68h4v2h-4zM21 69h11v1h-11zM42 69h13v1h-13zM11 70h4v1h-4zM21 70h10v1h-10zM43 70h12v1h-12zM11 71h5v1h-5zM42 71h12v1h-12zM11 72h4v1h-4zM41 72h12v1h-12zM54 72h1v1h-1zM22 71h10v3h-10zM10 73h6v1h-6zM41 73h13v1h-13zM20 74h16v1h-16zM39 74h13v1h-13zM12 74h2v2h-2zM9 75h2v1h-2zM19 75h32v2h-32zM19 77h28v1h-28zM10 78h1v1h-1zM21 78h27v1h-27zM22 79h26v1h-26zM22 80h21v1h-21zM23 81h18v2h-18zM22 83h14v1h-14zM37 83h1v1h-1zM20 84h16v2h-16zM20 86h15v1h-15z"/>
<path fill="#f5fb0c" d="M21 0h3v1h-3zM21 1h4v1h-4zM16 2h10v1h-10zM15 3h11v2h-11zM15 5h9v4h-9zM15 9h10v1h-10zM16 10h9v1h-9zM17 11h9v3h-9zM22 14h3v1h-3zM18 14h2v2h-2zM21 40h1v1h-1zM19 41h7v1h-7zM30 41h2v1h-2zM51 41h1v1h-1zM17 42h9v1h-9zM29 42h5v1h-5zM50 42h4v1h-4zM15 43h18v1h-18zM39 43h1v1h-1zM41 43h2v1h-2zM48 43h3v1h-3zM52 43h3v1h-3zM14 44h19v1h-19zM36 44h7v1h-7zM44 44h3v1h-3zM52 44h4v1h-4zM37 45h10v1h-10zM52 45h8v1h-8zM38 46h7v1h-7zM46 46h2v1h-2zM52 46h9v1h-9zM13 45h20v3h-20zM46 47h1v1h-1zM48 47h1v1h-1zM52 47h8v1h-8zM47 48h3v1h-3zM52 48h9v1h-9zM15 48h18v2h-18zM48 49h13v1h-13zM49 50h13v1h-13zM16 50h17v2h-17zM48 51h15v1h-15zM16 52h16v1h-16zM46 52h17v1h-17zM14 53h18v1h-18zM45 53h9v2h-9zM57 53h7v2h-7zM14 54h17v1h-17zM13 55h17v1h-17zM44 55h10v1h-10zM59 55h5v1h-5zM12 56h18v1h-18zM45 56h8v1h-8zM63 56h1v1h-1zM12 57h11v1h-11zM24 57h5v1h-5zM45 57h3v1h-3zM49 57h4v1h-4zM63 57h2v1h-2zM21 58h2v1h-2zM24 58h4v1h-4zM44 58h3v1h-3zM50 58h3v1h-3zM12 58h8v2h-8zM64 58h1v2h-1zM23 59h5v1h-5zM43 59h3v1h-3zM50 59h5v1h-5zM11 60h9v1h-9zM22 60h6v1h-6zM44 60h1v1h-1zM50 60h7v1h-7zM58 60h2v1h-2zM63 60h2v1h-2zM51 61h14v1h-14zM51 62h4v1h-4zM56 62h7v1h-7zM64 62h1v1h-1zM51 63h2v1h-2zM57 63h8v1h-8zM68 63h1v1h-1zM10 61h19v4h-19zM57 64h12v1h-12zM8 65h16v1h-16zM58 65h10v2h-10zM69 65h1v2h-1zM7 66h16v1h-16zM35 66h4v1h-4zM7 67h14v1h-14zM34 67h6v1h-6zM55 67h1v1h-1zM57 67h6v1h-6zM69 67h3v1h-3zM9 68h1v1h-1zM14 68h6v1h-6zM33 68h7v1h-7zM56 68h6v1h-6zM8 69h2v1h-2zM14 69h7v1h-7zM32 69h10v1h-10zM55 69h7v1h-7zM9 70h2v1h-2zM15 70h6v1h-6zM31 70h12v1h-12zM55 70h6v1h-6zM16 71h6v1h-6zM34 71h8v1h-8zM54 71h6v1h-6zM10 71h1v2h-1zM15 72h7v1h-7zM53 72h1v1h-1zM55 72h4v1h-4zM34 72h7v2h-7zM16 73h6v1h-6zM54 73h4v1h-4zM68 68h4v7h-4zM10 74h2v1h-2zM14 74h6v1h-6zM36 74h3v1h-3zM52 74h6v1h-6zM11 75h1v1h-1zM14 75h5v1h-5zM69 75h3v1h-3zM51 75h7v2h-7zM10 76h9v1h-9zM11 77h8v1h-8zM49 77h9v1h-9zM68 76h4v3h-4zM11 78h10v1h-10zM49 78h8v1h-8zM10 79h3v1h-3zM14 79h8v1h-8zM48 79h9v1h-9zM67 79h5v1h-5zM10 80h1v1h-1zM15 80h1v1h-1zM17 80h5v1h-5zM43 80h15v1h-15zM66 80h6v1h-6zM41 81h17v1h-17zM67 81h2v1h-2zM17 81h6v2h-6zM41 82h16v1h-16zM18 83h4v1h-4zM36 83h1v1h-1zM38 83h3v1h-3zM42 83h2v1h-2zM45 83h8v1h-8zM45 84h7v1h-7zM54 84h1v1h-1zM12 84h8v2h-8zM36 84h4v2h-4zM46 85h6v1h-6zM8 86h12v1h-12zM35 86h3v1h-3zM47 86h4v1h-4z"/>
<path fill="#ffcc08" d="M51 43h1v1h-1zM47 44h5v2h-5zM48 46h4v1h-4zM47 47h1v1h-1zM49 47h3v1h-3zM50 48h2v1h-2zM13 48h2v2h-2zM14 50h2v2h-2zM13 52h3v1h-3zM12 53h2v1h-2zM54 53h3v2h-3zM11 54h3v1h-3zM10 55h3v1h-3zM54 55h5v1h-5zM53 56h5v1h-5zM59 56h4v1h-4zM53 57h4v1h-4zM58 57h5v1h-5zM53 58h11v1h-11zM10 56h2v4h-2zM55 59h9v1h-9zM10 60h1v1h-1zM57 60h1v1h-1zM60 60h3v1h-3zM63 62h1v1h-1zM68 65h1v2h-1zM63 67h6v1h-6zM62 68h6v2h-6zM61 70h7v1h-7zM60 71h8v1h-8zM59 72h9v1h-9zM32 71h2v3h-2zM58 73h10v2h-10zM58 75h11v1h-11zM58 76h10v2h-10zM57 78h11v1h-11zM13 79h1v1h-1zM57 79h10v1h-10zM9 80h1v1h-1zM11 80h4v1h-4zM16 80h1v1h-1zM58 80h1v1h-1zM61 80h5v1h-5zM58 81h2v1h-2zM62 81h5v1h-5zM69 81h3v1h-3zM9 81h8v2h-8zM57 82h4v1h-4zM62 82h10v1h-10zM9 83h9v1h-9zM53 83h19v1h-19zM10 84h2v1h-2zM52 84h2v1h-2zM55 84h17v1h-17zM9 85h3v1h-3zM52 85h20v1h-20zM51 86h21v1h-21z"/>
<path fill="#ff8f08" d="M58 56h1v1h-1zM57 57h1v1h-1zM9 58h1v1h-1zM59 80h2v1h-2zM60 81h2v1h-2zM61 82h1v1h-1zM41 83h1v1h-1zM44 83h1v1h-1zM40 84h5v1h-5zM40 85h6v1h-6zM38 86h9v1h-9z"/>
</g>
<polygon points="337.2,368.9 338.3,368.9 341.1,370.9 344.1,372.8 346.5,375.3 349.0,378.7 351.0,381.7 352.9,385.2 356.9,384.7 360.3,386.1 362.8,389.6 365.8,394.0 367.7,398.0 371.2,399.5 372.7,396.5 373.2,392.5 375.1,388.6 374.1,382.7 372.7,376.8 371.2,370.9 371.4,366.9 372.7,366.1 374.1,367.4 376.1,373.8 378.6,380.7 381.0,387.6 383.5,394.5 385.5,400.4 387.9,402.4 389.9,408.3 392.9,414.2 390.9,418.7 388.4,422.6 386.5,425.6 380.5,427.6 378.6,429.5 372.7,430.5 370.2,433.0 367.7,435.0 368.2,437.9 366.2,441.9 365.3,445.3 362.8,447.3 359.3,449.3 361.3,452.2 365.8,455.2 368.7,454.2 371.2,457.1 374.1,459.6 375.1,465.5 375.6,468.5 374.1,473.0 373.6,479.9 372.2,484.3 369.2,486.8 370.7,490.2 368.7,493.7 365.3,493.7 362.3,492.7 363.8,496.1 362.3,500.6 360.3,505.0 357.9,509.5 356.9,513.9 354.4,518.3 354.9,523.3 355.9,526.2 353.4,530.2 349.0,532.6 346.5,535.6 344.6,536.1 345.0,541.0 344.1,546.9 341.6,547.9 340.6,548.9 341.1,551.9 340.1,554.3 338.3,555.3 338.3,557.3 342.1,557.8 343.1,560.2 342.1,564.2 340.6,567.6 338.3,569.6 337.2,569.6" fill="#000"/>
<polygon points="356.9,552.8 359.3,552.1 360.8,553.3 360.8,557.8 361.3,561.7 363.3,565.7 364.8,570.1 364.3,573.1 361.8,575.5 361.8,579.5 360.3,580.9 356.9,581.9 355.9,578.5 353.4,576.0 350.5,574.0 351.9,571.1 354.4,567.6 355.9,563.2 355.4,558.8 356.4,555.3" fill="#000"/>
</g>
<rect x="339.0" y="341.4" width="221.0" height="1.7" fill="#fff" opacity="0.5"/>
<rect x="338.5" y="341.0" width="222.0" height="267.7" fill="none" stroke="#6e6e6e" stroke-width="1.1"/>
<path d="M366.0 341.0v2.5M366.0 608.7v-2.5M505.0 341.0v2.5M505.0 608.7v-2.5M560.5 383.0h-2.5M560.5 429.0h-2.5M560.5 475.0h-2.5M560.5 521.0h-2.5M560.5 568.0h-2.5" stroke="#444" stroke-width="0.8" fill="none"/>
<g clip-path="url(#cr2c3)" shape-rendering="crispEdges">
<g transform="translate(568.50 341.00) scale(3.0944 3.0828)">
<path fill="#98d822" d="M15 0h8v1h-8zM31 0h15v1h-15zM56 0h11v1h-11zM68 0h4v1h-4zM14 1h9v1h-9zM30 1h14v1h-14zM55 1h10v1h-10zM69 1h3v1h-3zM30 2h13v1h-13zM54 2h10v2h-10zM70 2h2v2h-2zM30 3h12v1h-12zM31 4h11v1h-11zM50 4h1v1h-1zM53 4h14v1h-14zM69 4h3v1h-3zM31 5h12v1h-12zM50 5h2v1h-2zM53 5h19v1h-19zM32 6h11v1h-11zM48 6h24v1h-24zM33 7h13v1h-13zM47 7h25v1h-25zM35 8h37v1h-37zM27 9h2v1h-2zM26 10h3v1h-3zM37 9h35v3h-35zM27 11h3v1h-3zM29 12h3v1h-3zM39 12h33v1h-33zM28 13h6v1h-6zM40 13h7v1h-7zM48 13h24v1h-24zM49 14h23v1h-23zM29 14h6v2h-6zM24 15h1v1h-1zM48 15h24v1h-24zM19 16h1v1h-1zM24 16h2v1h-2zM28 16h7v1h-7zM49 16h23v1h-23zM40 14h6v4h-6zM25 17h9v1h-9zM47 17h25v1h-25zM24 18h10v1h-10zM40 18h32v1h-32zM20 19h1v1h-1zM25 19h10v1h-10zM39 19h33v1h-33zM19 20h53v1h-53zM18 21h54v3h-54zM37 24h35v1h-35zM18 24h17v2h-17zM38 25h17v1h-17zM57 25h15v1h-15zM18 26h16v1h-16zM39 26h16v1h-16zM59 26h9v1h-9zM69 26h1v1h-1zM71 26h1v1h-1zM18 27h12v1h-12zM31 27h2v1h-2zM38 27h18v1h-18zM58 27h6v1h-6zM65 27h1v1h-1zM18 28h9v1h-9zM43 28h14v1h-14zM58 28h4v1h-4zM40 28h2v2h-2zM18 29h10v1h-10zM44 29h14v1h-14zM60 29h1v1h-1zM18 30h12v1h-12zM37 30h4v1h-4zM46 30h10v1h-10zM47 31h7v1h-7zM47 32h1v1h-1zM19 31h21v3h-21zM19 34h2v1h-2zM23 34h18v1h-18zM43 34h3v1h-3zM18 35h1v1h-1zM25 35h16v1h-16zM43 35h4v1h-4zM26 36h16v1h-16zM43 36h5v1h-5zM31 37h18v1h-18zM51 37h1v1h-1zM32 38h22v1h-22zM38 39h20v1h-20zM40 40h19v1h-19zM43 41h7v1h-7zM51 41h3v1h-3zM55 41h5v1h-5zM44 42h3v1h-3zM56 42h4v1h-4zM45 43h1v1h-1zM58 43h4v1h-4zM60 44h1v3h-1zM60 47h2v1h-2zM60 48h3v1h-3zM62 49h1v1h-1zM62 50h2v1h-2zM63 52h1v2h-1zM65 53h1v1h-1zM64 54h3v2h-3zM65 56h2v2h-2zM31 57h2v1h-2zM66 58h1v1h-1zM66 59h2v1h-2zM68 60h2v1h-2zM30 58h4v4h-4zM70 61h1v1h-1zM29 66h1v1h-1zM26 67h4v1h-4zM28 68h2v1h-2zM29 69h1v1h-1zM47 76h4v1h-4zM48 77h3v1h-3zM50 78h1v1h-1zM4 81h3v3h-3zM4 84h2v2h-2zM3 86h3v1h-3z"/>
<path fill="#6cc530" d="M46 0h10v1h-10zM67 0h1v1h-1zM44 1h11v1h-11zM65 1h4v1h-4zM43 2h11v1h-11zM64 2h6v2h-6zM42 3h12v1h-12zM42 4h8v1h-8zM51 4h2v1h-2zM67 4h2v1h-2zM43 5h7v1h-7zM52 5h1v1h-1zM43 6h5v1h-5zM46 7h1v1h-1zM47 13h1v1h-1zM22 14h2v1h-2zM46 14h3v1h-3zM46 15h2v1h-2zM20 15h4v2h-4zM46 16h3v1h-3zM20 17h5v1h-5zM46 17h1v1h-1zM20 18h4v1h-4zM21 19h4v1h-4zM35 24h2v1h-2zM35 25h3v1h-3zM55 25h2v1h-2zM34 26h5v1h-5zM55 26h4v1h-4zM68 26h1v1h-1zM70 26h1v1h-1zM30 27h1v1h-1zM33 27h5v1h-5zM56 27h2v1h-2zM64 27h1v1h-1zM66 27h6v1h-6zM27 28h13v1h-13zM42 28h1v1h-1zM57 28h1v1h-1zM62 28h10v1h-10zM28 29h12v1h-12zM42 29h2v1h-2zM58 29h2v1h-2zM61 29h11v1h-11zM30 30h7v1h-7zM41 30h5v1h-5zM56 30h16v1h-16zM54 31h18v1h-18zM40 31h7v2h-7zM48 32h24v1h-24zM40 33h32v1h-32zM46 34h26v1h-26zM41 34h2v2h-2zM47 35h25v1h-25zM42 36h1v1h-1zM48 36h24v1h-24zM49 37h2v1h-2zM52 37h20v1h-20zM54 38h18v1h-18zM58 39h14v1h-14zM59 40h13v1h-13zM60 41h12v2h-12zM62 43h10v1h-10zM61 44h11v1h-11zM61 45h3v1h-3zM67 45h5v2h-5zM61 46h4v1h-4zM62 47h2v1h-2zM66 47h6v1h-6zM63 48h9v2h-9zM64 50h8v1h-8zM63 51h9v1h-9zM64 52h8v1h-8zM64 53h1v1h-1zM66 53h6v1h-6zM39 54h1v1h-1zM38 55h2v2h-2zM67 54h5v5h-5zM68 59h4v1h-4zM70 60h2v1h-2zM71 61h1v1h-1z"/>
<path fill="#3eb040" d="M64 45h3v1h-3zM65 46h2v1h-2zM64 47h2v1h-2z"/>
<path fill="#c5e81e" d="M29 0h2v1h-2zM29 1h1v3h-1zM30 4h1v2h-1zM27 7h1v1h-1zM26 8h2v1h-2zM34 8h1v1h-1zM26 9h1v1h-1zM34 9h3v2h-3zM24 10h2v1h-2zM30 11h2v1h-2zM33 11h4v1h-4zM32 12h7v1h-7zM34 13h6v1h-6zM24 14h1v1h-1zM25 15h1v1h-1zM35 14h5v3h-5zM26 16h1v1h-1zM34 17h6v2h-6zM35 19h4v1h-4zM21 34h2v1h-2zM19 35h6v1h-6zM18 36h8v1h-8zM18 37h13v1h-13zM18 38h14v1h-14zM18 39h20v1h-20zM19 40h1v1h-1zM21 40h1v1h-1zM23 40h17v1h-17zM17 41h1v1h-1zM26 41h17v1h-17zM50 41h1v1h-1zM54 41h1v1h-1zM27 42h2v1h-2zM32 42h12v1h-12zM50 42h2v1h-2zM34 43h3v1h-3zM42 43h3v1h-3zM56 43h2v1h-2zM43 44h3v1h-3zM58 44h2v1h-2zM33 44h2v2h-2zM38 45h2v1h-2zM59 45h1v1h-1zM34 46h2v1h-2zM38 46h3v1h-3zM34 47h8v1h-8zM43 47h1v1h-1zM34 48h12v1h-12zM34 49h13v1h-13zM61 49h1v1h-1zM33 50h15v1h-15zM33 51h14v1h-14zM61 51h2v1h-2zM32 52h14v2h-14zM62 52h1v2h-1zM32 54h7v1h-7zM40 54h5v2h-5zM63 54h1v2h-1zM30 55h8v1h-8zM29 56h9v1h-9zM40 56h3v1h-3zM64 56h1v2h-1zM21 57h1v1h-1zM29 57h2v1h-2zM33 57h9v1h-9zM20 58h3v1h-3zM29 58h1v1h-1zM46 58h3v1h-3zM34 58h8v2h-8zM64 58h2v2h-2zM20 59h5v1h-5zM45 59h5v1h-5zM20 60h4v1h-4zM34 60h9v1h-9zM44 60h7v1h-7zM65 60h3v1h-3zM28 59h2v3h-2zM34 61h17v1h-17zM64 61h6v1h-6zM29 62h23v1h-23zM63 62h5v1h-5zM70 62h1v1h-1zM27 63h2v1h-2zM30 63h24v1h-24zM55 63h2v1h-2zM26 64h1v1h-1zM28 64h29v1h-29zM25 65h1v1h-1zM28 65h8v1h-8zM37 65h20v1h-20zM22 66h1v1h-1zM24 66h5v1h-5zM30 66h5v1h-5zM38 66h18v1h-18zM13 67h1v1h-1zM22 67h4v1h-4zM40 67h16v1h-16zM12 68h3v1h-3zM22 68h6v1h-6zM40 68h15v1h-15zM30 67h3v3h-3zM9 69h7v1h-7zM22 69h7v1h-7zM41 69h14v1h-14zM10 70h6v1h-6zM22 70h9v1h-9zM41 70h13v1h-13zM11 71h5v2h-5zM22 71h10v2h-10zM41 71h14v2h-14zM12 73h4v1h-4zM22 73h11v1h-11zM41 73h11v1h-11zM53 73h1v1h-1zM69 73h3v2h-3zM10 74h1v1h-1zM12 74h3v1h-3zM22 74h13v1h-13zM41 74h10v1h-10zM22 75h16v1h-16zM39 75h12v1h-12zM21 76h26v1h-26zM70 75h2v3h-2zM19 77h29v1h-29zM18 78h3v1h-3zM22 78h28v1h-28zM71 78h1v1h-1zM22 79h27v1h-27zM21 80h26v1h-26zM48 80h1v1h-1zM23 81h16v1h-16zM40 81h2v1h-2zM44 81h2v1h-2zM22 82h17v1h-17zM23 83h15v1h-15zM22 84h15v1h-15zM21 85h16v1h-16zM20 86h16v1h-16z"/>
<path fill="#f5fb0c" d="M23 0h6v2h-6zM15 2h14v2h-14zM15 4h15v1h-15zM14 5h16v1h-16zM14 6h18v1h-18zM15 7h12v1h-12zM28 7h5v1h-5zM15 8h11v1h-11zM28 8h6v1h-6zM16 9h10v1h-10zM29 9h5v2h-5zM16 10h8v1h-8zM16 11h11v1h-11zM32 11h1v1h-1zM17 12h12v1h-12zM17 13h11v1h-11zM18 14h4v1h-4zM25 14h4v1h-4zM19 15h1v1h-1zM26 15h3v1h-3zM27 16h1v1h-1zM18 40h1v1h-1zM20 40h1v1h-1zM22 40h1v1h-1zM18 41h8v1h-8zM17 42h10v1h-10zM29 42h3v1h-3zM47 42h3v1h-3zM52 42h4v1h-4zM13 43h21v1h-21zM37 43h5v1h-5zM46 43h10v1h-10zM35 44h8v1h-8zM46 44h3v1h-3zM50 44h8v1h-8zM14 44h19v2h-19zM35 45h3v1h-3zM40 45h9v1h-9zM52 45h7v1h-7zM13 46h21v1h-21zM36 46h2v1h-2zM41 46h8v1h-8zM14 47h20v1h-20zM42 47h1v1h-1zM44 47h4v1h-4zM52 46h8v3h-8zM14 48h1v1h-1zM46 48h1v1h-1zM16 48h18v2h-18zM47 49h3v1h-3zM51 49h10v1h-10zM16 50h17v1h-17zM48 50h14v1h-14zM15 51h18v1h-18zM47 51h14v1h-14zM53 52h1v1h-1zM15 52h17v2h-17zM46 52h6v2h-6zM55 52h7v2h-7zM12 54h1v1h-1zM14 54h18v1h-18zM55 54h1v1h-1zM57 54h6v1h-6zM45 54h8v2h-8zM14 55h16v1h-16zM59 55h4v1h-4zM14 56h15v1h-15zM43 56h10v1h-10zM60 56h4v1h-4zM15 57h6v1h-6zM22 57h7v1h-7zM42 57h11v1h-11zM13 58h7v1h-7zM23 58h6v1h-6zM42 58h4v1h-4zM49 58h4v1h-4zM63 57h1v3h-1zM14 59h6v1h-6zM25 59h3v1h-3zM42 59h3v1h-3zM50 59h4v1h-4zM13 60h7v1h-7zM24 60h4v1h-4zM43 60h1v1h-1zM51 60h6v1h-6zM63 60h2v1h-2zM9 61h1v1h-1zM13 61h15v1h-15zM51 61h8v1h-8zM62 61h2v1h-2zM8 62h1v1h-1zM13 62h16v1h-16zM52 62h11v1h-11zM68 62h2v1h-2zM71 62h1v1h-1zM9 63h1v1h-1zM12 63h15v1h-15zM29 63h1v1h-1zM54 63h1v1h-1zM8 64h3v1h-3zM12 64h14v1h-14zM27 64h1v1h-1zM57 63h15v3h-15zM8 65h17v1h-17zM26 65h2v1h-2zM36 65h1v1h-1zM8 66h14v1h-14zM23 66h1v1h-1zM35 66h3v1h-3zM56 66h11v1h-11zM8 67h5v1h-5zM14 67h8v1h-8zM56 67h10v1h-10zM33 67h7v2h-7zM8 68h4v1h-4zM15 68h7v1h-7zM55 68h10v1h-10zM8 69h1v1h-1zM33 69h8v1h-8zM55 69h9v1h-9zM9 70h1v1h-1zM31 70h10v1h-10zM54 70h8v1h-8zM63 70h1v1h-1zM69 66h3v6h-3zM55 71h7v1h-7zM10 71h1v2h-1zM32 72h1v1h-1zM55 72h6v1h-6zM68 72h4v1h-4zM16 69h6v5h-6zM10 73h2v1h-2zM52 73h1v1h-1zM54 73h6v1h-6zM35 71h6v4h-6zM67 73h2v2h-2zM11 74h1v1h-1zM15 74h7v1h-7zM9 75h13v1h-13zM38 75h1v1h-1zM51 74h8v3h-8zM9 76h12v1h-12zM66 75h4v3h-4zM9 77h10v1h-10zM51 77h7v1h-7zM9 78h2v1h-2zM14 78h4v1h-4zM21 78h1v1h-1zM51 78h6v1h-6zM65 78h6v1h-6zM17 79h5v1h-5zM64 79h8v1h-8zM49 79h6v2h-6zM17 80h4v1h-4zM47 80h1v1h-1zM61 80h11v1h-11zM19 81h4v1h-4zM39 81h1v1h-1zM42 81h2v1h-2zM46 81h8v1h-8zM59 81h13v1h-13zM19 82h3v1h-3zM39 82h13v1h-13zM57 82h15v2h-15zM14 83h3v1h-3zM18 83h5v1h-5zM38 83h14v1h-14zM14 84h8v1h-8zM37 84h13v1h-13zM55 84h17v1h-17zM11 85h10v1h-10zM37 85h4v1h-4zM43 85h7v1h-7zM54 85h18v1h-18zM11 86h9v1h-9zM36 86h5v1h-5zM42 86h6v1h-6zM53 86h19v1h-19z"/>
<path fill="#ffcc08" d="M49 44h1v1h-1zM49 45h3v2h-3zM48 47h4v1h-4zM15 48h1v1h-1zM47 48h5v1h-5zM14 49h2v1h-2zM50 49h1v1h-1zM13 50h3v1h-3zM13 51h2v2h-2zM52 52h1v1h-1zM54 52h1v1h-1zM12 53h3v1h-3zM52 53h3v1h-3zM13 54h1v1h-1zM53 54h2v1h-2zM56 54h1v1h-1zM53 55h4v1h-4zM58 55h1v1h-1zM12 55h2v2h-2zM53 56h5v1h-5zM59 56h1v1h-1zM11 57h4v1h-4zM53 57h10v2h-10zM10 58h3v1h-3zM10 59h4v1h-4zM54 59h9v1h-9zM9 60h4v1h-4zM57 60h6v1h-6zM10 61h3v1h-3zM59 61h3v1h-3zM9 62h4v1h-4zM10 63h2v1h-2zM11 64h1v1h-1zM67 66h2v1h-2zM66 67h3v1h-3zM65 68h4v1h-4zM64 69h5v2h-5zM62 70h1v1h-1zM32 71h3v1h-3zM62 71h7v1h-7zM61 72h7v1h-7zM33 72h2v2h-2zM60 73h7v1h-7zM59 74h8v1h-8zM59 75h7v2h-7zM58 77h8v1h-8zM11 78h3v1h-3zM57 78h8v1h-8zM15 79h2v1h-2zM55 79h9v1h-9zM10 79h3v2h-3zM14 80h3v1h-3zM55 80h6v1h-6zM54 81h5v1h-5zM10 81h9v2h-9zM52 82h5v2h-5zM17 83h1v1h-1zM10 83h4v2h-4zM50 84h5v1h-5zM50 85h4v1h-4zM10 85h1v2h-1zM48 86h5v1h-5z"/>
<path fill="#ff8f08" d="M57 55h1v1h-1zM58 56h1v1h-1zM13 79h2v1h-2zM13 80h1v1h-1zM41 85h2v1h-2zM41 86h1v1h-1z"/>
</g>
<polygon points="567.2,368.9 568.3,368.9 571.1,370.9 574.1,372.8 576.5,375.3 579.0,378.7 581.0,381.7 582.9,385.2 586.9,384.7 590.3,386.1 592.8,389.6 595.8,394.0 597.7,398.0 601.2,399.5 602.7,396.5 603.2,392.5 605.1,388.6 604.1,382.7 602.7,376.8 601.2,370.9 601.4,366.9 602.7,366.1 604.1,367.4 606.1,373.8 608.6,380.7 611.0,387.6 613.5,394.5 615.5,400.4 617.9,402.4 619.9,408.3 622.9,414.2 620.9,418.7 618.4,422.6 616.5,425.6 610.5,427.6 608.6,429.5 602.7,430.5 600.2,433.0 597.7,435.0 598.2,437.9 596.2,441.9 595.3,445.3 592.8,447.3 589.3,449.3 591.3,452.2 595.8,455.2 598.7,454.2 601.2,457.1 604.1,459.6 605.1,465.5 605.6,468.5 604.1,473.0 603.6,479.9 602.2,484.3 599.2,486.8 600.7,490.2 598.7,493.7 595.3,493.7 592.3,492.7 593.8,496.1 592.3,500.6 590.3,505.0 587.9,509.5 586.9,513.9 584.4,518.3 584.9,523.3 585.9,526.2 583.4,530.2 579.0,532.6 576.5,535.6 574.6,536.1 575.0,541.0 574.1,546.9 571.6,547.9 570.6,548.9 571.1,551.9 570.1,554.3 568.3,555.3 568.3,557.3 572.1,557.8 573.1,560.2 572.1,564.2 570.6,567.6 568.3,569.6 567.2,569.6" fill="#000"/>
<polygon points="586.9,552.8 589.3,552.1 590.8,553.3 590.8,557.8 591.3,561.7 593.3,565.7 594.8,570.1 594.3,573.1 591.8,575.5 591.8,579.5 590.3,580.9 586.9,581.9 585.9,578.5 583.4,576.0 580.5,574.0 581.9,571.1 584.4,567.6 585.9,563.2 585.4,558.8 586.4,555.3" fill="#000"/>
</g>
<rect x="569.0" y="341.4" width="221.8" height="1.7" fill="#fff" opacity="0.5"/>
<rect x="568.5" y="341.0" width="222.8" height="268.2" fill="none" stroke="#6e6e6e" stroke-width="1.1"/>
<path d="M596.0 341.0v2.5M596.0 609.2v-2.5M735.0 341.0v2.5M735.0 609.2v-2.5M791.3 383.0h-2.5M791.3 429.0h-2.5M791.3 475.0h-2.5M791.3 521.0h-2.5M791.3 568.0h-2.5" stroke="#444" stroke-width="0.8" fill="none"/>
<g clip-path="url(#cr3c1)" shape-rendering="crispEdges">
<g transform="translate(107.00 619.00) scale(3.0903 3.0747)">
<path fill="#f5fb0c" d="M37 28h1v1h-1zM30 32h4v1h-4zM26 33h9v1h-9zM41 33h1v1h-1zM15 34h3v1h-3zM25 34h11v1h-11zM37 34h8v1h-8zM15 35h32v1h-32zM15 36h35v1h-35zM39 37h10v1h-10zM14 37h23v2h-23zM40 38h7v1h-7zM13 39h20v1h-20zM34 39h13v1h-13zM24 40h1v1h-1zM26 40h6v1h-6zM35 40h6v1h-6zM45 40h2v1h-2zM27 41h3v1h-3zM34 41h3v1h-3zM46 41h1v1h-1zM48 41h1v1h-1zM14 40h7v3h-7zM35 42h1v1h-1zM27 42h1v2h-1zM47 42h1v2h-1zM34 43h1v1h-1zM15 43h6v2h-6zM45 44h1v1h-1zM38 41h2v5h-2zM16 45h4v1h-4zM29 45h1v1h-1zM38 46h6v1h-6zM16 46h1v2h-1zM37 47h2v2h-2zM37 49h1v1h-1zM36 50h1v1h-1zM44 51h3v1h-3zM15 48h2v5h-2zM43 52h4v1h-4zM38 53h1v1h-1zM43 53h1v3h-1zM46 53h1v3h-1zM45 56h2v1h-2zM14 53h2v5h-2zM34 59h1v1h-1zM15 58h10v3h-10zM16 61h9v2h-9zM38 59h1v5h-1zM15 63h10v1h-10zM14 64h7v1h-7zM22 64h3v1h-3zM39 64h1v1h-1zM13 65h5v1h-5zM9 66h1v1h-1zM14 66h5v2h-5zM14 68h2v1h-2zM17 68h2v1h-2zM18 69h2v1h-2zM14 70h1v1h-1zM17 70h4v1h-4zM13 71h12v1h-12zM12 72h13v1h-13zM34 71h1v3h-1zM11 73h14v1h-14zM34 74h2v1h-2zM33 75h4v1h-4zM32 76h2v1h-2zM12 74h13v4h-13zM32 77h1v2h-1zM13 78h12v1h-12zM13 79h10v1h-10zM56 79h1v1h-1zM31 79h1v2h-1zM14 80h2v1h-2zM14 81h1v2h-1zM25 81h1v2h-1zM26 83h2v1h-2zM12 85h3v1h-3zM11 86h3v1h-3z"/>
<path fill="#98d822" d="M70 2h2v1h-2zM66 13h2v1h-2zM66 14h4v1h-4zM66 15h5v1h-5zM68 16h3v1h-3zM57 20h3v1h-3zM56 21h8v1h-8zM56 22h9v1h-9zM62 23h2v1h-2zM38 28h3v1h-3zM32 29h3v1h-3zM36 29h8v1h-8zM20 30h3v1h-3zM30 30h14v1h-14zM16 31h1v1h-1zM19 31h5v1h-5zM30 31h13v1h-13zM15 32h3v1h-3zM19 32h6v1h-6zM27 32h3v1h-3zM34 32h7v1h-7zM15 33h11v1h-11zM35 33h6v1h-6zM18 34h7v1h-7zM36 34h1v1h-1zM11 42h2v1h-2zM11 43h4v1h-4zM12 44h3v2h-3zM59 47h1v1h-1z"/>
<path fill="#6cc530" d="M25 29h4v1h-4zM19 30h1v1h-1zM24 30h6v2h-6zM17 31h2v1h-2zM18 32h1v1h-1zM25 32h2v1h-2z"/>
<path fill="#c5e81e" d="M67 8h3v2h-3zM33 39h1v1h-1zM32 40h3v1h-3zM30 41h4v1h-4zM28 42h7v1h-7zM28 43h6v1h-6zM28 44h5v1h-5z"/>
<path fill="#ffcc08" d="M37 37h2v1h-2zM37 38h3v1h-3zM21 40h3v1h-3zM25 40h1v1h-1zM41 40h4v1h-4zM37 41h1v1h-1zM40 41h6v1h-6zM36 42h2v1h-2zM21 41h6v3h-6zM35 43h3v1h-3zM40 42h5v3h-5zM21 44h7v1h-7zM33 44h5v1h-5zM20 45h9v1h-9zM30 45h8v1h-8zM40 45h4v1h-4zM17 46h21v1h-21zM17 47h18v3h-18zM36 47h1v3h-1zM27 50h9v1h-9zM17 50h8v2h-8zM26 51h11v1h-11zM17 52h20v1h-20zM16 53h22v1h-22zM44 53h2v2h-2zM16 54h23v3h-23zM16 57h19v1h-19zM25 58h10v1h-10zM25 59h9v1h-9zM25 60h10v3h-10zM25 63h13v1h-13zM40 63h3v2h-3zM21 64h1v1h-1zM25 64h14v1h-14zM18 65h17v1h-17zM37 65h5v2h-5zM38 67h3v1h-3zM19 66h15v3h-15zM38 68h1v1h-1zM20 69h14v1h-14zM21 70h13v1h-13zM25 71h3v1h-3zM32 71h2v2h-2zM25 72h4v1h-4zM25 73h5v1h-5zM31 73h3v1h-3zM25 74h9v1h-9zM25 75h8v1h-8zM25 76h3v1h-3zM30 76h2v2h-2zM25 77h4v1h-4zM25 78h7v1h-7zM23 79h8v1h-8zM16 80h10v1h-10zM15 81h10v2h-10zM14 83h12v1h-12zM15 84h14v1h-14zM15 85h13v1h-13zM14 86h14v1h-14z"/>
<path fill="#ff8f08" d="M35 47h1v3h-1zM25 50h2v1h-2zM25 51h1v1h-1zM44 58h3v1h-3zM43 59h3v1h-3zM44 60h2v1h-2zM35 57h3v6h-3zM34 66h3v1h-3zM34 67h4v1h-4zM16 68h1v1h-1zM15 69h3v1h-3zM15 70h2v1h-2zM42 69h2v3h-2zM28 71h4v1h-4zM29 72h3v1h-3zM30 73h1v1h-1zM28 76h2v1h-2zM29 77h1v1h-1zM34 78h1v1h-1zM33 79h2v3h-2zM45 81h3v1h-3zM32 82h2v2h-2zM42 82h6v2h-6zM31 84h2v1h-2zM42 84h10v2h-10zM30 85h2v2h-2zM41 86h11v1h-11z"/>
<path fill="#ff5505" d="M45 42h2v2h-2zM46 44h1v1h-1zM44 55h2v1h-2zM47 73h1v1h-1zM36 74h4v1h-4zM45 74h3v1h-3zM37 75h3v1h-3zM44 75h4v2h-4zM34 76h6v1h-6zM33 77h9v1h-9zM43 77h6v1h-6zM33 78h1v1h-1zM40 78h9v1h-9zM35 78h2v2h-2zM41 79h8v1h-8zM41 80h7v1h-7zM32 79h1v3h-1zM35 80h1v2h-1zM38 81h1v1h-1zM40 81h5v1h-5zM31 82h1v1h-1zM48 82h1v1h-1zM34 82h8v2h-8zM48 83h3v1h-3zM33 84h2v1h-2zM38 84h4v1h-4zM32 85h4v1h-4zM39 85h3v1h-3zM32 86h3v1h-3zM38 86h3v1h-3z"/>
<path fill="#ff1505" d="M35 65h2v1h-2zM37 78h3v1h-3zM37 79h4v1h-4zM36 80h5v1h-5zM36 81h2v1h-2zM39 81h1v1h-1zM35 84h3v1h-3zM36 85h3v1h-3zM35 86h3v1h-3z"/>
</g>
<polygon points="105.9,647.0 107.1,647.0 109.9,649.0 112.8,650.9 115.3,653.4 117.8,656.9 119.7,659.8 121.7,663.3 125.7,662.8 129.1,664.2 131.6,667.7 134.5,672.1 136.5,676.1 140.0,677.6 141.4,674.6 141.9,670.7 143.9,666.7 142.9,660.8 141.4,654.9 140.0,649.0 140.2,645.0 141.4,644.2 142.9,645.5 144.9,651.9 147.4,658.8 149.8,665.7 152.3,672.6 154.3,678.5 156.7,680.5 158.7,686.4 161.7,692.4 159.7,696.8 157.2,700.7 155.2,703.7 149.3,705.7 147.4,707.6 141.4,708.6 139.0,711.1 136.5,713.1 137.0,716.0 135.0,720.0 134.0,723.4 131.6,725.4 128.1,727.4 130.1,730.3 134.5,733.3 137.5,732.3 140.0,735.3 142.9,737.7 143.9,743.6 144.4,746.6 142.9,751.1 142.4,758.0 140.9,762.4 138.0,764.9 139.5,768.3 137.5,771.8 134.0,771.8 131.1,770.8 132.6,774.2 131.1,778.7 129.1,783.1 126.6,787.6 125.7,792.0 123.2,796.4 123.7,801.4 124.7,804.3 122.2,808.3 117.8,810.7 115.3,813.7 113.3,814.2 113.8,819.1 112.8,825.0 110.4,826.0 109.4,827.0 109.9,830.0 108.9,832.4 107.1,833.4 107.1,835.4 110.9,835.9 111.9,838.4 110.9,842.3 109.4,845.7 107.1,847.7 105.9,847.7" fill="#000"/>
<polygon points="125.7,831.0 128.1,830.2 129.6,831.4 129.6,835.9 130.1,839.8 132.1,843.8 133.5,848.2 133.1,851.2 130.6,853.6 130.6,857.6 129.1,859.1 125.7,860.0 124.7,856.6 122.2,854.1 119.2,852.2 120.7,849.2 123.2,845.7 124.7,841.3 124.2,836.9 125.2,833.4" fill="#000"/>
</g>
<rect x="107.5" y="619.4" width="221.5" height="1.7" fill="#fff" opacity="0.5"/>
<rect x="107.0" y="619.0" width="222.5" height="267.5" fill="none" stroke="#6e6e6e" stroke-width="1.1"/>
<path d="M134.5 619.0v2.5M134.5 886.5v-2.5M273.5 619.0v2.5M273.5 886.5v-2.5M329.5 661.0h-2.5M329.5 707.0h-2.5M329.5 753.0h-2.5M329.5 799.0h-2.5M329.5 846.0h-2.5" stroke="#444" stroke-width="0.8" fill="none"/>
<g clip-path="url(#cr3c2)" shape-rendering="crispEdges">
<g transform="translate(337.50 617.00) scale(3.0972 3.1116)">
<path fill="#98d822" d="M31 0h9v2h-9zM30 2h9v1h-9zM31 3h9v3h-9zM67 6h1v1h-1zM32 6h9v2h-9zM21 7h1v1h-1zM66 7h1v1h-1zM68 7h1v1h-1zM20 8h1v1h-1zM22 8h1v1h-1zM32 8h1v1h-1zM34 8h9v1h-9zM66 8h3v1h-3zM20 9h3v1h-3zM64 9h5v1h-5zM34 9h10v2h-10zM19 10h4v1h-4zM63 10h7v1h-7zM18 11h5v1h-5zM33 11h13v1h-13zM62 11h10v1h-10zM61 12h11v1h-11zM17 12h7v2h-7zM33 12h15v2h-15zM60 13h12v1h-12zM34 14h17v1h-17zM56 14h16v1h-16zM19 14h5v2h-5zM34 15h20v1h-20zM55 15h17v1h-17zM19 16h6v1h-6zM33 16h39v1h-39zM34 17h38v1h-38zM20 17h4v2h-4zM33 18h39v1h-39zM19 19h6v1h-6zM34 19h38v1h-38zM57 20h15v1h-15zM19 20h7v2h-7zM33 20h22v2h-22zM56 21h4v1h-4zM61 21h11v2h-11zM34 22h26v1h-26zM18 22h7v2h-7zM35 23h37v2h-37zM20 24h5v1h-5zM34 25h38v1h-38zM34 26h34v1h-34zM70 26h2v1h-2zM33 27h34v1h-34zM22 25h2v4h-2zM33 28h32v1h-32zM22 29h3v1h-3zM33 29h10v1h-10zM45 29h20v1h-20zM20 30h4v1h-4zM38 30h2v1h-2zM47 30h3v1h-3zM51 30h16v1h-16zM19 31h2v1h-2zM52 31h15v1h-15zM19 32h1v1h-1zM58 32h9v1h-9zM14 33h3v1h-3zM58 33h10v1h-10zM71 33h1v1h-1zM17 34h2v1h-2zM58 34h14v1h-14zM59 35h13v1h-13zM33 38h1v1h-1zM60 36h12v4h-12zM33 39h2v1h-2zM61 40h11v1h-11zM32 40h3v3h-3zM62 41h10v2h-10zM32 43h2v1h-2zM63 43h9v1h-9zM62 44h10v3h-10zM63 47h9v4h-9zM62 51h10v2h-10zM61 53h11v5h-11zM60 58h12v2h-12zM59 60h13v2h-13zM58 62h10v1h-10zM69 62h3v1h-3zM58 63h5v1h-5zM65 63h3v1h-3zM70 63h2v2h-2zM62 64h1v1h-1zM63 65h1v1h-1zM68 65h4v2h-4zM63 66h2v1h-2zM64 67h2v1h-2zM70 67h2v1h-2zM63 68h2v1h-2zM64 69h1v1h-1zM64 70h3v1h-3zM64 71h4v1h-4zM64 72h6v1h-6zM64 73h8v1h-8zM65 74h7v3h-7zM66 77h6v1h-6zM66 78h1v1h-1zM68 78h4v2h-4zM69 80h3v1h-3zM68 81h4v1h-4zM69 82h3v2h-3zM68 84h4v1h-4zM69 85h3v1h-3z"/>
<path fill="#c5e81e" d="M9 0h13v3h-13zM10 3h12v2h-12zM71 4h1v2h-1zM11 5h11v1h-11zM12 6h10v1h-10zM70 6h2v1h-2zM13 7h8v1h-8zM21 8h1v1h-1zM69 7h3v3h-3zM15 8h5v2h-5zM16 10h3v1h-3zM70 10h2v1h-2zM16 11h2v1h-2zM16 12h1v1h-1zM18 24h2v1h-2zM18 25h4v4h-4zM30 28h2v1h-2zM17 29h5v1h-5zM27 29h6v1h-6zM43 29h2v1h-2zM16 30h4v1h-4zM26 30h12v1h-12zM40 30h2v1h-2zM43 30h4v1h-4zM50 30h1v1h-1zM21 31h18v1h-18zM47 31h5v1h-5zM15 31h4v2h-4zM20 32h20v1h-20zM48 32h1v1h-1zM51 32h7v1h-7zM17 33h4v1h-4zM26 33h1v1h-1zM28 33h1v1h-1zM33 33h1v1h-1zM52 33h6v1h-6zM54 34h4v1h-4zM56 35h3v1h-3zM57 36h3v1h-3zM58 37h2v1h-2zM59 38h1v2h-1zM60 40h1v1h-1zM60 41h2v2h-2zM60 43h3v1h-3zM59 44h3v3h-3zM59 47h4v4h-4zM59 51h3v2h-3zM58 53h3v2h-3zM59 55h2v1h-2zM58 56h3v1h-3zM59 57h2v1h-2zM58 58h2v2h-2zM58 60h1v2h-1zM68 62h1v1h-1zM63 63h2v1h-2zM68 63h2v1h-2zM63 64h7v1h-7zM64 65h4v1h-4zM65 66h3v1h-3zM66 67h4v1h-4zM65 68h7v2h-7zM67 70h5v1h-5zM68 71h4v1h-4zM70 72h2v1h-2z"/>
<path fill="#6cc530" d="M22 0h9v2h-9zM22 2h8v1h-8zM22 3h9v3h-9zM22 6h10v2h-10zM23 8h9v1h-9zM33 8h1v1h-1zM23 9h11v2h-11zM23 11h10v1h-10zM24 12h9v2h-9zM24 14h10v2h-10zM25 16h8v1h-8zM24 17h10v1h-10zM24 18h9v1h-9zM25 19h9v1h-9zM55 20h2v1h-2zM26 20h7v2h-7zM55 21h1v1h-1zM60 21h1v2h-1zM25 22h9v1h-9zM25 23h10v2h-10zM24 25h10v2h-10zM68 26h2v1h-2zM24 27h9v1h-9zM67 27h5v1h-5zM24 28h6v1h-6zM32 28h1v1h-1zM65 28h7v2h-7zM25 29h2v1h-2zM24 30h2v1h-2zM67 30h5v3h-5zM68 33h3v1h-3z"/>
<path fill="#f5fb0c" d="M6 0h3v2h-3zM5 2h4v1h-4zM6 3h4v1h-4zM5 4h5v1h-5zM6 5h5v1h-5zM8 6h4v2h-4zM6 8h3v1h-3zM7 9h1v1h-1zM42 30h1v1h-1zM39 31h8v1h-8zM40 32h8v1h-8zM49 32h2v1h-2zM21 33h5v1h-5zM27 33h1v1h-1zM29 33h4v1h-4zM34 33h18v1h-18zM14 34h3v1h-3zM19 34h35v1h-35zM14 35h42v1h-42zM14 36h43v1h-43zM14 37h44v1h-44zM14 38h19v1h-19zM34 38h6v1h-6zM41 38h18v1h-18zM24 39h9v1h-9zM50 39h9v1h-9zM14 39h9v2h-9zM35 39h5v2h-5zM25 40h7v1h-7zM51 40h2v1h-2zM54 40h6v1h-6zM12 41h6v1h-6zM35 41h2v1h-2zM55 41h1v1h-1zM57 41h3v1h-3zM38 41h2v2h-2zM58 42h2v1h-2zM26 41h6v3h-6zM12 42h5v2h-5zM34 43h1v1h-1zM37 43h4v1h-4zM59 43h1v1h-1zM13 44h5v1h-5zM29 44h5v1h-5zM37 44h5v1h-5zM43 44h4v1h-4zM57 44h2v1h-2zM14 45h4v1h-4zM29 45h4v1h-4zM36 45h11v1h-11zM56 45h3v1h-3zM13 46h5v1h-5zM30 46h1v1h-1zM36 46h18v1h-18zM55 46h4v1h-4zM37 47h22v1h-22zM13 47h4v2h-4zM36 48h23v2h-23zM12 49h5v2h-5zM12 51h6v1h-6zM37 50h22v3h-22zM11 52h5v1h-5zM12 53h4v1h-4zM37 53h21v1h-21zM37 54h6v1h-6zM44 54h14v1h-14zM11 54h4v2h-4zM38 55h5v1h-5zM47 55h12v1h-12zM11 56h5v1h-5zM21 56h1v1h-1zM39 56h3v1h-3zM47 56h11v1h-11zM10 57h6v1h-6zM20 57h4v1h-4zM25 57h1v1h-1zM39 57h4v1h-4zM47 57h12v1h-12zM10 58h7v1h-7zM18 58h7v1h-7zM40 58h4v1h-4zM47 58h11v1h-11zM41 59h3v1h-3zM48 59h10v1h-10zM9 59h16v2h-16zM43 60h15v2h-15zM8 61h16v1h-16zM7 62h10v1h-10zM18 62h4v1h-4zM45 62h13v1h-13zM46 63h12v1h-12zM7 63h8v2h-8zM46 64h16v1h-16zM46 65h17v2h-17zM8 65h6v3h-6zM47 67h17v1h-17zM47 68h16v1h-16zM9 68h5v2h-5zM48 69h16v1h-16zM9 70h6v1h-6zM18 70h2v1h-2zM21 70h1v1h-1zM50 70h1v1h-1zM52 70h12v1h-12zM10 71h13v1h-13zM53 71h11v1h-11zM11 72h12v1h-12zM54 72h10v2h-10zM10 73h13v1h-13zM10 74h14v1h-14zM56 74h9v2h-9zM9 75h15v2h-15zM57 76h8v1h-8zM9 77h9v1h-9zM20 77h1v1h-1zM58 77h8v2h-8zM9 78h8v1h-8zM67 78h1v1h-1zM10 79h6v1h-6zM23 79h2v1h-2zM58 79h10v1h-10zM10 80h5v1h-5zM58 80h11v1h-11zM58 81h10v1h-10zM5 78h1v5h-1zM21 80h3v3h-3zM10 81h4v2h-4zM58 82h11v2h-11zM10 83h5v1h-5zM22 83h2v1h-2zM10 84h6v1h-6zM59 84h9v1h-9zM10 85h4v1h-4zM59 85h10v1h-10z"/>
<path fill="#ffcc08" d="M7 7h1v1h-1zM40 38h1v1h-1zM23 39h1v1h-1zM40 39h10v1h-10zM23 40h2v1h-2zM40 40h5v1h-5zM46 40h5v1h-5zM53 40h1v1h-1zM18 41h8v1h-8zM37 41h1v1h-1zM40 41h3v1h-3zM49 41h6v1h-6zM56 41h1v1h-1zM35 42h3v1h-3zM40 42h5v1h-5zM50 42h1v1h-1zM52 42h6v1h-6zM17 42h9v2h-9zM35 43h2v1h-2zM41 43h4v1h-4zM57 43h2v1h-2zM34 44h3v1h-3zM42 44h1v1h-1zM56 44h1v1h-1zM18 44h11v2h-11zM33 45h3v1h-3zM47 45h1v1h-1zM18 46h12v1h-12zM31 46h5v1h-5zM54 46h1v1h-1zM17 47h20v1h-20zM17 48h19v1h-19zM17 49h8v1h-8zM26 49h10v1h-10zM17 50h9v1h-9zM27 50h10v1h-10zM18 51h19v1h-19zM16 52h21v2h-21zM15 54h22v1h-22zM15 55h21v1h-21zM16 56h5v1h-5zM22 56h14v1h-14zM37 56h2v1h-2zM16 57h4v1h-4zM24 57h1v1h-1zM26 57h9v1h-9zM36 57h3v1h-3zM17 58h1v1h-1zM37 58h3v1h-3zM25 58h10v2h-10zM37 59h4v1h-4zM25 60h9v1h-9zM36 60h7v1h-7zM24 61h10v1h-10zM37 61h6v1h-6zM17 62h1v1h-1zM22 62h13v1h-13zM36 62h8v1h-8zM15 63h28v1h-28zM45 63h1v1h-1zM15 64h19v1h-19zM35 64h2v1h-2zM44 64h2v1h-2zM39 64h4v2h-4zM45 65h1v1h-1zM14 65h21v2h-21zM36 66h2v1h-2zM40 66h3v1h-3zM44 66h2v1h-2zM16 67h26v1h-26zM44 67h3v1h-3zM17 68h12v2h-12zM32 68h8v2h-8zM17 70h1v1h-1zM20 70h1v1h-1zM22 70h8v1h-8zM32 70h7v1h-7zM51 70h1v1h-1zM23 71h6v1h-6zM51 71h2v1h-2zM32 71h6v2h-6zM23 72h7v1h-7zM52 72h2v1h-2zM23 73h14v1h-14zM53 73h1v1h-1zM24 74h12v1h-12zM52 74h4v1h-4zM24 75h3v1h-3zM29 75h7v1h-7zM53 75h3v1h-3zM24 76h10v1h-10zM53 76h4v1h-4zM18 77h2v1h-2zM21 77h12v1h-12zM17 78h15v1h-15zM55 77h3v3h-3zM16 79h7v1h-7zM25 79h6v1h-6zM15 80h6v1h-6zM56 80h2v1h-2zM24 80h7v3h-7zM14 81h7v2h-7zM57 81h1v3h-1zM15 83h7v1h-7zM24 83h6v1h-6zM16 84h13v1h-13zM57 84h2v1h-2zM14 85h15v1h-15zM58 85h1v1h-1z"/>
<path fill="#ff8f08" d="M47 41h2v1h-2zM48 42h2v1h-2zM51 42h1v1h-1zM46 43h11v1h-11zM47 44h9v1h-9zM48 45h8v1h-8zM25 49h1v1h-1zM26 50h1v1h-1zM36 55h2v1h-2zM46 55h1v2h-1zM36 56h1v1h-1zM42 56h3v1h-3zM35 57h1v1h-1zM43 57h4v1h-4zM44 58h3v1h-3zM35 58h2v2h-2zM44 59h4v1h-4zM34 60h2v1h-2zM34 61h3v1h-3zM35 62h1v1h-1zM44 62h1v1h-1zM43 63h2v1h-2zM34 64h1v1h-1zM37 64h2v1h-2zM43 64h1v1h-1zM36 65h3v1h-3zM43 65h2v1h-2zM38 66h2v1h-2zM43 66h1v1h-1zM14 67h2v1h-2zM42 67h2v1h-2zM40 68h7v1h-7zM14 68h3v2h-3zM29 68h3v2h-3zM40 69h8v1h-8zM15 70h2v1h-2zM30 70h2v1h-2zM39 70h11v1h-11zM29 71h3v1h-3zM38 71h13v1h-13zM30 72h2v1h-2zM38 72h3v1h-3zM42 72h6v1h-6zM49 72h3v1h-3zM37 73h3v1h-3zM49 73h4v1h-4zM49 74h3v1h-3zM27 75h2v1h-2zM48 75h5v2h-5zM49 77h6v2h-6zM32 78h1v1h-1zM47 79h8v1h-8zM31 79h1v2h-1zM47 80h9v1h-9zM46 81h11v1h-11zM40 82h1v1h-1zM43 82h14v1h-14zM40 83h17v2h-17zM29 85h1v1h-1zM40 85h18v1h-18z"/>
<path fill="#ff5505" d="M45 40h1v1h-1zM43 41h4v1h-4zM45 42h3v1h-3zM45 43h1v1h-1zM43 54h1v1h-1zM43 55h3v1h-3zM45 56h1v1h-1zM41 72h1v1h-1zM48 72h1v1h-1zM40 73h9v1h-9zM36 74h13v1h-13zM36 75h9v1h-9zM46 75h2v1h-2zM34 76h14v1h-14zM33 77h8v1h-8zM42 77h7v2h-7zM33 78h5v1h-5zM40 78h1v1h-1zM32 79h5v1h-5zM43 79h4v1h-4zM32 80h4v1h-4zM39 80h1v1h-1zM42 80h5v1h-5zM31 81h5v1h-5zM38 81h8v1h-8zM31 82h9v1h-9zM41 82h2v1h-2zM30 83h6v1h-6zM38 83h2v1h-2zM29 84h7v1h-7zM39 84h1v2h-1zM30 85h6v1h-6z"/>
<path fill="#ff1505" d="M35 65h1v2h-1zM45 75h1v1h-1zM41 77h1v2h-1zM38 78h2v1h-2zM37 79h6v1h-6zM36 80h3v1h-3zM40 80h2v1h-2zM36 81h2v1h-2zM36 83h2v1h-2zM36 84h3v2h-3z"/>
</g>
<polygon points="336.9,645.0 338.1,645.0 340.9,647.0 343.8,648.9 346.3,651.4 348.8,654.9 350.7,657.8 352.7,661.3 356.7,660.8 360.1,662.2 362.6,665.7 365.5,670.1 367.5,674.1 371.0,675.6 372.4,672.6 372.9,668.7 374.9,664.7 373.9,658.8 372.4,652.9 371.0,647.0 371.2,643.0 372.4,642.2 373.9,643.5 375.9,649.9 378.4,656.8 380.8,663.7 383.3,670.6 385.3,676.5 387.7,678.5 389.7,684.4 392.7,690.4 390.7,694.8 388.2,698.7 386.2,701.7 380.3,703.7 378.4,705.6 372.4,706.6 370.0,709.1 367.5,711.1 368.0,714.0 366.0,718.0 365.0,721.4 362.6,723.4 359.1,725.4 361.1,728.3 365.5,731.3 368.5,730.3 371.0,733.3 373.9,735.7 374.9,741.6 375.4,744.6 373.9,749.1 373.4,756.0 371.9,760.4 369.0,762.9 370.5,766.3 368.5,769.8 365.0,769.8 362.1,768.8 363.6,772.2 362.1,776.7 360.1,781.1 357.6,785.6 356.7,790.0 354.2,794.4 354.7,799.4 355.7,802.3 353.2,806.3 348.8,808.7 346.3,811.7 344.3,812.2 344.8,817.1 343.8,823.0 341.4,824.0 340.4,825.0 340.9,828.0 339.9,830.4 338.1,831.4 338.1,833.4 341.9,833.9 342.9,836.4 341.9,840.3 340.4,843.7 338.1,845.7 336.9,845.7" fill="#000"/>
<polygon points="356.7,829.0 359.1,828.2 360.6,829.4 360.6,833.9 361.1,837.8 363.1,841.8 364.5,846.2 364.1,849.2 361.6,851.6 361.6,855.6 360.1,857.1 356.7,858.0 355.7,854.6 353.2,852.1 350.2,850.2 351.7,847.2 354.2,843.7 355.7,839.3 355.2,834.9 356.2,831.4" fill="#000"/>
</g>
<rect x="338.0" y="617.4" width="222.0" height="1.7" fill="#fff" opacity="0.5"/>
<rect x="337.5" y="617.0" width="223.0" height="267.6" fill="none" stroke="#6e6e6e" stroke-width="1.1"/>
<path d="M365.0 617.0v2.5M365.0 884.6v-2.5M504.0 617.0v2.5M504.0 884.6v-2.5M560.5 659.0h-2.5M560.5 705.0h-2.5M560.5 751.0h-2.5M560.5 797.0h-2.5M560.5 844.0h-2.5" stroke="#444" stroke-width="0.8" fill="none"/>
<g clip-path="url(#cr3c3)" shape-rendering="crispEdges">
<g transform="translate(567.50 616.10) scale(3.0944 3.0770)">
<path fill="#98d822" d="M38 0h1v2h-1zM39 2h1v1h-1zM39 3h2v3h-2zM38 6h3v1h-3zM22 7h1v1h-1zM39 7h2v1h-2zM69 7h1v1h-1zM21 8h1v1h-1zM38 8h3v1h-3zM66 8h4v1h-4zM20 9h3v1h-3zM37 9h4v1h-4zM65 9h4v1h-4zM19 10h4v1h-4zM38 10h4v1h-4zM65 10h5v1h-5zM18 11h5v1h-5zM37 11h6v1h-6zM63 11h9v1h-9zM37 12h8v1h-8zM61 12h11v1h-11zM17 12h7v2h-7zM38 13h9v1h-9zM60 13h12v1h-12zM37 14h11v1h-11zM59 14h13v1h-13zM38 15h14v1h-14zM18 14h6v3h-6zM56 15h16v2h-16zM38 16h17v1h-17zM38 17h34v1h-34zM38 18h11v1h-11zM53 18h19v1h-19zM38 19h10v1h-10zM55 19h17v1h-17zM56 20h16v1h-16zM18 17h7v5h-7zM39 20h9v2h-9zM53 21h2v1h-2zM58 21h14v1h-14zM20 22h6v1h-6zM40 22h31v2h-31zM20 23h5v1h-5zM21 24h4v2h-4zM40 24h29v2h-29zM17 26h1v1h-1zM39 26h29v1h-29zM39 27h28v1h-28zM22 26h2v3h-2zM35 28h31v1h-31zM21 29h3v1h-3zM28 29h1v1h-1zM31 29h1v1h-1zM36 29h31v1h-31zM20 30h4v1h-4zM28 30h3v1h-3zM36 30h8v1h-8zM45 30h2v1h-2zM48 30h19v1h-19zM19 31h5v1h-5zM37 31h1v1h-1zM40 31h3v1h-3zM51 31h16v1h-16zM18 32h1v1h-1zM20 32h2v1h-2zM53 32h15v1h-15zM17 33h2v1h-2zM55 33h2v1h-2zM58 33h10v1h-10zM14 34h1v1h-1zM58 34h9v1h-9zM59 35h8v1h-8zM59 36h5v1h-5zM65 36h2v1h-2zM59 37h6v1h-6zM60 38h5v1h-5zM60 39h7v1h-7zM34 40h1v1h-1zM62 40h6v1h-6zM32 41h3v2h-3zM63 41h6v2h-6zM71 42h1v1h-1zM63 43h9v1h-9zM62 44h10v1h-10zM63 45h9v1h-9zM62 46h10v2h-10zM61 48h11v1h-11zM62 49h10v1h-10zM63 50h9v3h-9zM62 53h10v1h-10zM61 54h11v2h-11zM61 56h8v1h-8zM70 56h2v1h-2zM61 57h7v1h-7zM60 58h7v2h-7zM61 60h6v1h-6zM60 61h8v1h-8zM61 62h7v1h-7zM57 63h1v1h-1zM59 63h4v1h-4zM60 64h2v1h-2zM67 63h1v5h-1z"/>
<path fill="#c5e81e" d="M9 0h12v1h-12zM8 1h13v1h-13zM9 2h11v1h-11zM11 3h9v1h-9zM11 4h10v1h-10zM12 5h10v1h-10zM71 5h1v1h-1zM13 6h9v1h-9zM14 7h8v1h-8zM70 6h2v3h-2zM15 8h6v1h-6zM15 9h5v1h-5zM69 9h3v1h-3zM16 10h3v1h-3zM70 10h2v1h-2zM16 11h2v1h-2zM19 23h1v1h-1zM19 24h2v2h-2zM18 26h4v1h-4zM17 27h5v1h-5zM18 28h4v1h-4zM17 29h4v1h-4zM32 29h4v1h-4zM18 30h2v1h-2zM27 30h1v1h-1zM31 30h5v1h-5zM44 30h1v1h-1zM47 30h1v1h-1zM16 31h3v1h-3zM26 31h11v1h-11zM38 31h2v1h-2zM43 31h8v1h-8zM15 32h3v1h-3zM19 32h1v1h-1zM22 32h11v1h-11zM34 32h4v1h-4zM49 32h4v1h-4zM42 32h1v2h-1zM15 33h2v1h-2zM19 33h7v1h-7zM28 33h5v1h-5zM35 33h2v1h-2zM52 33h3v1h-3zM57 33h1v1h-1zM20 34h1v1h-1zM53 34h5v1h-5zM54 35h5v1h-5zM57 36h2v1h-2zM58 37h1v1h-1zM58 38h2v1h-2zM59 39h1v1h-1zM60 40h2v1h-2zM60 41h3v3h-3zM60 44h2v1h-2zM59 45h4v1h-4zM59 46h3v2h-3zM59 48h2v1h-2zM59 49h3v1h-3zM60 50h3v2h-3zM59 52h4v1h-4zM58 53h4v1h-4zM58 54h3v3h-3zM69 56h1v1h-1zM59 57h2v1h-2zM68 57h4v1h-4zM59 58h1v1h-1zM58 59h2v1h-2zM67 58h5v3h-5zM57 60h4v1h-4zM57 61h3v1h-3zM57 62h4v1h-4zM68 61h4v7h-4zM69 68h3v1h-3zM70 69h2v1h-2zM71 70h1v1h-1zM70 71h2v1h-2zM71 72h1v1h-1zM70 73h2v7h-2zM71 80h1v3h-1zM70 83h2v1h-2zM71 84h1v3h-1z"/>
<path fill="#6cc530" d="M21 0h17v2h-17zM20 2h19v2h-19zM21 4h18v1h-18zM22 5h17v1h-17zM22 6h16v1h-16zM23 7h16v1h-16zM22 8h16v1h-16zM23 9h14v1h-14zM23 10h15v1h-15zM23 11h14v1h-14zM24 12h13v1h-13zM24 13h14v1h-14zM24 14h13v1h-13zM24 15h14v2h-14zM49 18h4v1h-4zM25 17h13v3h-13zM48 19h7v1h-7zM48 20h8v1h-8zM25 20h14v2h-14zM48 21h5v1h-5zM55 21h3v1h-3zM26 22h14v1h-14zM71 22h1v2h-1zM25 23h15v3h-15zM69 24h3v2h-3zM68 26h4v1h-4zM24 26h15v2h-15zM67 27h5v1h-5zM24 28h11v1h-11zM66 28h6v1h-6zM24 29h4v1h-4zM29 29h2v1h-2zM24 30h3v1h-3zM67 29h5v3h-5zM24 31h2v1h-2zM68 32h4v2h-4zM67 34h5v3h-5zM64 36h1v1h-1zM65 37h7v2h-7zM67 39h5v1h-5zM68 40h4v1h-4zM69 41h3v1h-3zM69 42h2v1h-2z"/>
<path fill="#f5fb0c" d="M6 0h3v1h-3zM5 1h3v1h-3zM7 2h2v1h-2zM6 3h5v1h-5zM7 4h4v1h-4zM8 5h4v2h-4zM7 7h4v2h-4zM8 9h2v1h-2zM33 32h1v1h-1zM38 32h4v1h-4zM43 32h6v1h-6zM26 33h2v1h-2zM33 33h2v1h-2zM37 33h5v1h-5zM43 33h9v1h-9zM15 34h5v1h-5zM21 34h32v1h-32zM14 35h40v1h-40zM14 36h43v1h-43zM14 37h44v1h-44zM14 38h29v1h-29zM44 38h14v1h-14zM14 39h9v1h-9zM26 39h15v1h-15zM49 39h10v1h-10zM14 40h7v1h-7zM26 40h8v1h-8zM49 40h11v1h-11zM13 41h7v1h-7zM26 41h6v1h-6zM50 41h10v1h-10zM35 40h6v3h-6zM12 42h7v1h-7zM27 42h5v1h-5zM52 42h8v1h-8zM26 43h9v1h-9zM53 43h7v1h-7zM38 43h3v2h-3zM26 44h8v1h-8zM54 44h6v1h-6zM26 45h3v1h-3zM31 45h3v1h-3zM37 45h6v1h-6zM44 45h2v1h-2zM54 45h5v1h-5zM12 43h5v4h-5zM32 46h1v1h-1zM37 46h12v1h-12zM51 46h8v1h-8zM38 47h21v3h-21zM13 47h4v4h-4zM37 50h23v2h-23zM12 51h5v2h-5zM37 52h22v1h-22zM12 53h4v1h-4zM36 53h22v1h-22zM12 54h3v1h-3zM37 54h8v1h-8zM46 54h12v1h-12zM11 55h5v1h-5zM36 55h8v1h-8zM47 55h11v1h-11zM11 56h4v1h-4zM38 56h6v1h-6zM48 56h10v1h-10zM10 57h5v1h-5zM40 57h3v1h-3zM49 57h10v1h-10zM10 58h7v1h-7zM21 58h3v1h-3zM40 58h4v1h-4zM48 58h11v1h-11zM9 59h15v1h-15zM41 59h5v1h-5zM47 59h11v1h-11zM7 60h18v1h-18zM43 60h14v1h-14zM8 61h16v1h-16zM44 61h13v2h-13zM8 62h14v1h-14zM9 63h12v1h-12zM46 63h11v1h-11zM58 63h1v1h-1zM63 63h4v1h-4zM8 64h9v1h-9zM20 64h1v1h-1zM46 64h14v1h-14zM62 64h5v1h-5zM8 65h8v1h-8zM47 65h20v2h-20zM8 66h7v1h-7zM48 67h19v1h-19zM8 67h6v2h-6zM48 68h21v1h-21zM7 69h1v1h-1zM49 69h21v1h-21zM9 69h5v2h-5zM49 70h22v1h-22zM9 71h6v1h-6zM19 71h2v1h-2zM49 71h21v1h-21zM50 72h21v1h-21zM10 72h12v2h-12zM52 73h18v1h-18zM53 74h17v2h-17zM10 74h13v3h-13zM55 76h15v1h-15zM10 77h14v1h-14zM56 77h14v1h-14zM10 78h12v1h-12zM57 78h13v2h-13zM10 79h7v1h-7zM20 79h1v1h-1zM4 80h1v1h-1zM24 80h1v1h-1zM58 80h13v1h-13zM9 80h8v2h-8zM23 81h3v1h-3zM57 81h14v1h-14zM21 82h5v1h-5zM58 82h13v1h-13zM9 82h7v2h-7zM22 83h4v1h-4zM58 83h12v1h-12zM5 81h1v4h-1zM24 84h2v1h-2zM58 84h13v1h-13zM8 84h7v2h-7zM22 84h1v2h-1zM59 85h12v1h-12zM9 86h5v1h-5zM22 86h2v1h-2zM58 86h13v1h-13z"/>
<path fill="#ffcc08" d="M7 5h1v2h-1zM43 38h1v1h-1zM23 39h3v1h-3zM41 39h8v2h-8zM21 40h5v1h-5zM20 41h6v1h-6zM41 41h3v1h-3zM45 41h5v1h-5zM19 42h8v1h-8zM46 42h6v1h-6zM41 42h2v2h-2zM35 43h3v1h-3zM48 43h5v1h-5zM34 44h4v1h-4zM41 44h4v1h-4zM49 44h5v1h-5zM17 43h9v3h-9zM29 45h2v1h-2zM34 45h3v1h-3zM43 45h1v1h-1zM46 45h8v1h-8zM17 46h15v1h-15zM33 46h4v1h-4zM49 46h2v1h-2zM17 47h21v3h-21zM17 50h20v3h-20zM16 53h20v1h-20zM15 54h22v1h-22zM16 55h20v1h-20zM15 56h21v1h-21zM15 57h20v1h-20zM37 57h3v1h-3zM17 58h4v1h-4zM24 58h11v1h-11zM38 58h2v1h-2zM24 59h12v1h-12zM40 59h1v1h-1zM25 60h11v1h-11zM39 60h4v1h-4zM24 61h10v1h-10zM35 61h1v1h-1zM38 61h6v1h-6zM22 62h13v1h-13zM36 62h8v1h-8zM21 63h22v1h-22zM45 63h1v1h-1zM17 64h3v1h-3zM21 64h14v1h-14zM36 64h6v1h-6zM44 64h2v1h-2zM16 65h19v1h-19zM37 65h6v1h-6zM44 65h3v2h-3zM15 66h20v1h-20zM38 66h5v1h-5zM39 67h9v1h-9zM14 67h21v2h-21zM38 68h4v1h-4zM45 68h3v1h-3zM19 69h21v1h-21zM47 69h2v1h-2zM18 70h21v1h-21zM18 71h1v1h-1zM21 71h8v1h-8zM31 71h8v1h-8zM22 72h7v1h-7zM30 72h1v1h-1zM32 72h6v1h-6zM49 72h1v1h-1zM22 73h16v1h-16zM50 73h2v1h-2zM23 74h15v1h-15zM51 74h2v2h-2zM23 75h14v1h-14zM23 76h4v1h-4zM29 76h8v1h-8zM52 76h3v1h-3zM24 77h9v1h-9zM34 77h1v1h-1zM54 77h2v1h-2zM22 78h11v1h-11zM55 78h2v2h-2zM17 79h3v1h-3zM21 79h11v1h-11zM17 80h7v1h-7zM25 80h6v1h-6zM55 80h3v1h-3zM17 81h6v1h-6zM55 81h2v1h-2zM26 81h5v2h-5zM16 82h5v1h-5zM56 82h2v1h-2zM16 83h6v1h-6zM26 83h4v1h-4zM57 83h1v1h-1zM23 84h1v1h-1zM26 84h3v1h-3zM15 84h7v2h-7zM23 85h6v1h-6zM58 85h1v1h-1zM14 86h8v1h-8zM24 86h3v1h-3zM57 86h1v1h-1z"/>
<path fill="#ff8f08" d="M46 43h2v1h-2zM45 44h4v1h-4zM45 55h2v1h-2zM36 56h2v1h-2zM44 56h1v1h-1zM46 56h2v1h-2zM35 57h2v1h-2zM43 57h6v1h-6zM35 58h3v1h-3zM44 58h4v1h-4zM36 59h4v1h-4zM46 59h1v1h-1zM36 60h3v1h-3zM34 61h1v1h-1zM36 61h2v1h-2zM35 62h1v1h-1zM43 63h2v1h-2zM35 64h1v1h-1zM42 64h2v1h-2zM35 65h2v1h-2zM43 65h1v2h-1zM36 66h2v1h-2zM36 67h3v1h-3zM35 68h3v1h-3zM42 68h3v1h-3zM14 69h5v1h-5zM40 69h7v1h-7zM14 70h4v1h-4zM39 70h10v2h-10zM15 71h3v1h-3zM29 71h2v1h-2zM29 72h1v1h-1zM31 72h1v1h-1zM38 72h11v1h-11zM42 73h2v1h-2zM46 73h4v1h-4zM38 73h1v2h-1zM47 74h4v1h-4zM37 75h1v1h-1zM48 75h3v1h-3zM27 76h2v1h-2zM48 76h4v1h-4zM48 77h6v1h-6zM33 77h1v2h-1zM46 78h9v2h-9zM32 79h1v1h-1zM31 80h1v2h-1zM47 80h8v2h-8zM41 82h2v1h-2zM46 82h10v1h-10zM41 83h16v1h-16zM29 84h1v1h-1zM39 84h19v2h-19zM27 86h1v1h-1zM39 86h18v1h-18z"/>
<path fill="#ff5505" d="M44 41h1v1h-1zM43 42h3v2h-3zM45 54h1v1h-1zM44 55h1v1h-1zM45 56h1v1h-1zM39 73h3v1h-3zM44 73h2v1h-2zM39 74h8v1h-8zM38 75h6v1h-6zM45 75h3v1h-3zM37 76h11v1h-11zM35 77h13v1h-13zM34 78h4v1h-4zM40 78h6v1h-6zM33 79h5v1h-5zM41 79h5v1h-5zM32 80h5v1h-5zM42 80h5v1h-5zM32 81h6v1h-6zM41 81h6v1h-6zM31 82h10v1h-10zM43 82h3v1h-3zM30 83h11v1h-11zM30 84h5v1h-5zM38 84h1v2h-1zM29 85h6v1h-6zM28 86h7v1h-7z"/>
<path fill="#ff1505" d="M35 66h1v2h-1zM44 75h1v1h-1zM38 78h2v1h-2zM38 79h3v1h-3zM37 80h5v1h-5zM38 81h3v1h-3zM35 84h3v2h-3zM35 86h4v1h-4z"/>
</g>
<polygon points="566.9,644.3 568.1,644.3 570.9,646.3 573.8,648.3 576.3,650.7 578.8,654.2 580.7,657.1 582.7,660.6 586.7,660.1 590.1,661.6 592.6,665.0 595.5,669.5 597.5,673.4 601.0,674.9 602.4,671.9 602.9,668.0 604.9,664.0 603.9,658.1 602.4,652.2 601.0,646.3 601.2,642.4 602.4,641.6 603.9,642.8 605.9,649.3 608.4,656.2 610.8,663.1 613.3,670.0 615.3,675.9 617.7,677.9 619.7,683.8 622.7,689.7 620.7,694.1 618.2,698.1 616.2,701.0 610.3,703.0 608.4,705.0 602.4,706.0 600.0,708.4 597.5,710.4 598.0,713.4 596.0,717.3 595.0,720.8 592.6,722.7 589.1,724.7 591.1,727.7 595.5,730.6 598.5,729.6 601.0,732.6 603.9,735.1 604.9,741.0 605.4,744.0 603.9,748.4 603.4,755.3 601.9,759.7 599.0,762.2 600.5,765.7 598.5,769.1 595.0,769.1 592.1,768.1 593.6,771.6 592.1,776.0 590.1,780.5 587.6,784.9 586.7,789.3 584.2,793.8 584.7,798.7 585.7,801.7 583.2,805.6 578.8,808.1 576.3,811.0 574.3,811.5 574.8,816.5 573.8,822.4 571.4,823.4 570.4,824.3 570.9,827.3 569.9,829.8 568.1,830.8 568.1,832.7 571.9,833.2 572.9,835.7 571.9,839.6 570.4,843.1 568.1,845.1 566.9,845.1" fill="#000"/>
<polygon points="586.7,828.3 589.1,827.5 590.6,828.8 590.6,833.2 591.1,837.2 593.1,841.1 594.5,845.5 594.1,848.5 591.6,851.0 591.6,854.9 590.1,856.4 586.7,857.4 585.7,853.9 583.2,851.5 580.2,849.5 581.7,846.5 584.2,843.1 585.7,838.6 585.2,834.2 586.2,830.8" fill="#000"/>
</g>
<rect x="568.0" y="616.5" width="221.8" height="1.7" fill="#fff" opacity="0.5"/>
<rect x="567.5" y="616.1" width="222.8" height="267.7" fill="none" stroke="#6e6e6e" stroke-width="1.1"/>
<path d="M595.0 616.1v2.5M595.0 883.8v-2.5M734.0 616.1v2.5M734.0 883.8v-2.5M790.3 658.1h-2.5M790.3 704.1h-2.5M790.3 750.1h-2.5M790.3 796.1h-2.5M790.3 843.1h-2.5" stroke="#444" stroke-width="0.8" fill="none"/>
<g clip-path="url(#cr4c1)" shape-rendering="crispEdges">
<g transform="translate(106.70 894.00) scale(3.0931 3.1105)">
<path fill="#ffcc08" d="M17 44h3v3h-3zM52 50h2v1h-2zM51 51h4v1h-4zM50 52h1v2h-1zM52 52h3v2h-3zM49 54h6v3h-6zM45 57h9v1h-9zM45 58h8v2h-8zM39 60h3v1h-3zM45 60h4v1h-4zM40 61h5v2h-5zM57 62h6v1h-6zM59 63h4v1h-4zM59 64h6v2h-6zM59 66h7v1h-7zM59 67h8v1h-8zM61 68h1v1h-1zM24 77h4v3h-4zM11 78h2v2h-2z"/>
<path fill="#ff8f08" d="M16 47h3v2h-3zM51 52h1v2h-1zM53 63h6v4h-6zM23 66h4v2h-4zM57 67h2v1h-2zM25 80h3v3h-3z"/>
<path fill="#98d822" d="M61 46h8v1h-8zM55 47h15v1h-15zM55 48h16v1h-16zM66 49h6v1h-6zM55 49h5v2h-5zM67 50h5v1h-5zM55 51h3v1h-3zM67 51h3v1h-3zM63 53h4v1h-4zM63 54h5v1h-5zM56 52h2v4h-2zM63 55h6v1h-6zM56 56h3v1h-3zM63 56h8v1h-8zM63 57h9v1h-9zM67 58h5v1h-5zM70 59h2v2h-2zM17 78h3v1h-3z"/>
<path fill="#c5e81e" d="M62 51h2v1h-2zM61 52h4v1h-4zM60 53h3v1h-3zM59 54h4v2h-4zM60 56h3v2h-3zM21 77h3v2h-3z"/>
<path fill="#f5fb0c" d="M54 49h1v2h-1zM49 50h3v1h-3zM47 51h4v1h-4zM47 52h3v1h-3zM45 53h5v1h-5zM55 52h1v5h-1zM44 54h5v3h-5zM54 57h1v1h-1zM49 60h1v1h-1zM64 63h1v1h-1zM69 62h3v3h-3zM65 64h2v1h-2zM65 65h7v1h-7zM66 66h6v1h-6zM67 67h5v1h-5zM62 68h9v1h-9zM62 69h6v2h-6zM19 77h2v1h-2zM13 78h4v1h-4zM20 78h1v1h-1zM13 79h11v1h-11zM12 80h13v2h-13zM28 79h1v4h-1zM13 82h3v1h-3zM18 82h7v1h-7zM0 84h2v2h-2z"/>
<path fill="#ff5505" d="M45 61h2v2h-2zM49 62h3v4h-3zM53 67h4v2h-4z"/>
<path fill="#ff1505" d="M50 60h3v2h-3zM44 67h3v3h-3zM30 75h3v1h-3zM44 77h2v1h-2zM30 76h9v3h-9zM44 78h3v1h-3zM45 79h2v1h-2zM31 79h3v2h-3zM29 81h6v1h-6zM29 82h4v1h-4z"/>
<path fill="#d20000" d="M34 64h4v2h-4zM35 66h3v1h-3zM32 67h2v2h-2zM32 69h3v1h-3zM25 68h4v3h-4zM32 70h4v1h-4zM16 82h2v1h-2zM13 83h5v1h-5zM21 83h2v1h-2zM25 83h4v1h-4zM14 84h5v2h-5zM22 84h7v2h-7z"/>
<path fill="#9a0000" d="M30 72h4v3h-4z"/>
</g>
<polygon points="106.0,921.8 107.2,921.8 109.9,923.8 112.9,925.8 115.4,928.2 117.8,931.7 119.8,934.7 121.8,938.1 125.7,937.6 129.2,939.1 131.6,942.5 134.6,947.0 136.6,950.9 140.0,952.4 141.5,949.4 142.0,945.5 144.0,941.6 143.0,935.6 141.5,929.7 140.0,923.8 140.2,919.9 141.5,919.1 143.0,920.4 145.0,926.8 147.4,933.7 149.9,940.6 152.4,947.5 154.3,953.4 156.8,955.4 158.8,961.3 161.7,967.2 159.7,971.6 157.3,975.6 155.3,978.5 149.4,980.5 147.4,982.5 141.5,983.5 139.0,985.9 136.6,987.9 137.1,990.9 135.1,994.8 134.1,998.3 131.6,1000.2 128.2,1002.2 130.2,1005.2 134.6,1008.1 137.6,1007.1 140.0,1010.1 143.0,1012.6 144.0,1018.5 144.5,1021.5 143.0,1025.9 142.5,1032.8 141.0,1037.3 138.1,1039.7 139.5,1043.2 137.6,1046.6 134.1,1046.6 131.1,1045.6 132.6,1049.1 131.1,1053.5 129.2,1058.0 126.7,1062.4 125.7,1066.8 123.3,1071.3 123.8,1076.2 124.7,1079.2 122.3,1083.1 117.8,1085.6 115.4,1088.5 113.4,1089.0 113.9,1094.0 112.9,1099.9 110.4,1100.9 109.5,1101.9 109.9,1104.8 109.0,1107.3 107.2,1108.3 107.2,1110.2 110.9,1110.7 111.9,1113.2 110.9,1117.1 109.5,1120.6 107.2,1122.6 106.0,1122.6" fill="#000"/>
<polygon points="125.7,1105.8 128.2,1105.0 129.7,1106.3 129.7,1110.7 130.2,1114.7 132.1,1118.6 133.6,1123.1 133.1,1126.0 130.7,1128.5 130.7,1132.4 129.2,1133.9 125.7,1134.9 124.7,1131.4 122.3,1129.0 119.3,1127.0 120.8,1124.0 123.3,1120.6 124.7,1116.2 124.2,1111.7 125.2,1108.3" fill="#000"/>
</g>
<rect x="107.2" y="894.4" width="221.7" height="1.7" fill="#fff" opacity="0.5"/>
<rect x="106.7" y="894.0" width="222.7" height="267.5" fill="none" stroke="#6e6e6e" stroke-width="1.1"/>
<path d="M134.2 894.0v2.5M134.2 1161.5v-2.5M273.2 894.0v2.5M273.2 1161.5v-2.5M329.4 936.0h-2.5M329.4 982.0h-2.5M329.4 1028.0h-2.5M329.4 1074.0h-2.5M329.4 1121.0h-2.5" stroke="#444" stroke-width="0.8" fill="none"/>
<g clip-path="url(#cr4c2)" shape-rendering="crispEdges">
<g transform="translate(336.50 891.00) scale(3.0847 3.0759)">
<path fill="#6cc530" d="M18 0h33v1h-33zM54 0h1v1h-1zM19 1h31v1h-31zM53 1h3v1h-3zM19 2h29v1h-29zM53 2h2v1h-2zM56 2h1v1h-1zM68 0h4v4h-4zM20 3h28v1h-28zM53 3h3v2h-3zM21 4h8v1h-8zM36 4h11v1h-11zM69 4h3v1h-3zM21 5h6v1h-6zM39 5h7v1h-7zM53 5h4v1h-4zM70 5h2v2h-2zM22 6h6v1h-6zM39 6h6v1h-6zM54 6h3v1h-3zM23 7h6v1h-6zM30 7h1v1h-1zM32 7h13v1h-13zM53 7h5v1h-5zM22 8h22v1h-22zM53 8h4v1h-4zM71 7h1v3h-1zM53 9h3v1h-3zM23 9h19v2h-19zM52 10h4v1h-4zM52 11h3v1h-3zM56 11h2v1h-2zM24 11h18v2h-18zM52 12h4v1h-4zM53 13h4v1h-4zM24 13h9v2h-9zM34 13h8v2h-8zM53 14h3v1h-3zM23 15h9v1h-9zM35 15h4v1h-4zM40 15h3v1h-3zM54 15h3v1h-3zM22 16h9v1h-9zM35 16h3v1h-3zM40 16h4v1h-4zM55 16h1v1h-1zM24 17h6v1h-6zM40 17h5v1h-5zM53 17h3v1h-3zM22 18h7v1h-7zM53 18h4v1h-4zM41 18h5v2h-5zM22 19h6v1h-6zM52 19h5v1h-5zM22 20h5v1h-5zM42 20h3v1h-3zM51 20h7v2h-7zM24 21h3v1h-3zM42 21h4v1h-4zM43 22h2v1h-2zM50 22h7v1h-7zM23 22h4v2h-4zM44 23h1v1h-1zM46 23h1v1h-1zM51 23h6v1h-6zM24 24h3v1h-3zM44 24h5v1h-5zM50 24h5v1h-5zM25 25h2v2h-2zM44 25h11v2h-11zM25 27h3v1h-3zM43 27h12v1h-12zM27 28h5v1h-5zM41 28h14v1h-14zM17 29h3v1h-3zM27 29h7v1h-7zM35 29h1v1h-1zM38 29h16v1h-16zM18 30h2v1h-2zM28 30h25v2h-25zM17 31h3v1h-3zM16 32h4v1h-4zM27 32h25v1h-25zM15 33h2v1h-2zM20 33h1v1h-1zM28 33h17v1h-17zM49 33h1v1h-1zM29 34h3v1h-3zM35 34h1v1h-1zM42 34h2v1h-2zM71 38h1v1h-1zM70 39h2v2h-2zM69 41h3v1h-3zM68 42h4v1h-4zM69 43h3v3h-3zM62 46h1v1h-1zM62 47h2v1h-2zM70 46h2v5h-2zM71 51h1v1h-1z"/>
<path fill="#98d822" d="M11 0h7v1h-7zM11 1h8v1h-8zM12 2h7v1h-7zM12 3h8v1h-8zM29 4h7v1h-7zM13 4h8v2h-8zM27 5h12v1h-12zM13 6h9v1h-9zM28 6h11v1h-11zM14 7h9v1h-9zM29 7h1v1h-1zM31 7h1v1h-1zM14 8h8v1h-8zM15 9h8v2h-8zM56 9h2v2h-2zM16 11h8v1h-8zM55 11h1v1h-1zM58 11h1v1h-1zM56 12h4v1h-4zM17 12h7v2h-7zM57 13h2v1h-2zM18 14h6v1h-6zM56 14h3v1h-3zM18 15h5v1h-5zM57 15h3v1h-3zM18 16h4v1h-4zM56 16h4v2h-4zM18 17h6v1h-6zM57 18h3v1h-3zM57 19h4v1h-4zM18 18h4v3h-4zM58 20h4v2h-4zM18 21h6v1h-6zM18 22h5v1h-5zM57 22h5v2h-5zM19 23h4v1h-4zM67 23h1v1h-1zM19 24h5v1h-5zM55 24h7v2h-7zM67 24h5v2h-5zM19 25h6v1h-6zM68 26h4v1h-4zM18 26h7v2h-7zM55 26h8v2h-8zM67 27h5v1h-5zM18 28h9v1h-9zM55 28h7v1h-7zM68 28h4v1h-4zM20 29h7v1h-7zM54 29h9v1h-9zM53 30h9v1h-9zM20 30h8v2h-8zM53 31h10v1h-10zM67 29h5v4h-5zM20 32h7v1h-7zM52 32h12v1h-12zM21 33h6v1h-6zM45 33h4v1h-4zM50 33h14v1h-14zM66 33h6v2h-6zM28 34h1v1h-1zM32 34h3v1h-3zM36 34h6v1h-6zM44 34h20v1h-20zM34 35h38v2h-38zM35 37h37v1h-37zM36 38h35v1h-35zM36 39h34v2h-34zM36 41h18v1h-18zM55 41h14v1h-14zM37 42h15v1h-15zM57 42h11v1h-11zM37 43h14v1h-14zM58 43h11v1h-11zM38 44h10v1h-10zM57 44h12v1h-12zM38 45h7v1h-7zM56 45h13v1h-13zM39 46h5v1h-5zM56 46h6v1h-6zM63 46h7v1h-7zM40 47h3v1h-3zM57 47h5v1h-5zM64 47h6v1h-6zM58 48h12v1h-12zM58 49h10v1h-10zM58 50h9v1h-9zM69 50h1v1h-1zM57 51h10v1h-10zM70 51h1v1h-1zM58 52h9v1h-9zM70 52h2v2h-2zM58 53h8v1h-8zM68 53h1v1h-1zM60 54h12v2h-12zM61 56h11v1h-11zM62 57h10v1h-10zM63 58h9v1h-9zM65 59h7v1h-7zM66 60h6v1h-6zM67 61h5v1h-5zM69 62h3v1h-3zM71 63h1v2h-1z"/>
<path fill="#c5e81e" d="M0 0h3v1h-3zM55 0h3v1h-3zM65 0h3v1h-3zM56 1h2v1h-2zM0 1h2v2h-2zM55 2h1v1h-1zM57 2h2v1h-2zM66 1h2v3h-2zM56 3h3v2h-3zM67 4h2v1h-2zM68 5h2v1h-2zM57 5h3v2h-3zM69 6h1v1h-1zM58 7h2v1h-2zM70 7h1v2h-1zM57 8h5v1h-5zM58 9h5v2h-5zM71 10h1v1h-1zM59 11h3v1h-3zM60 12h3v1h-3zM59 13h4v1h-4zM59 14h6v1h-6zM60 15h6v1h-6zM60 16h7v1h-7zM60 17h8v1h-8zM60 18h9v1h-9zM61 19h8v1h-8zM62 20h8v2h-8zM71 21h1v1h-1zM62 22h10v1h-10zM68 23h4v1h-4zM62 23h5v3h-5zM63 26h5v1h-5zM63 27h4v1h-4zM62 28h6v1h-6zM63 29h4v1h-4zM62 30h5v1h-5zM63 31h4v1h-4zM64 32h3v1h-3zM27 33h1v1h-1zM64 33h2v2h-2zM23 34h5v1h-5zM26 35h3v1h-3zM28 36h1v1h-1zM54 41h1v1h-1zM52 42h5v1h-5zM36 43h1v1h-1zM51 43h1v1h-1zM53 43h5v1h-5zM37 44h1v1h-1zM48 44h1v1h-1zM54 44h3v1h-3zM45 45h2v1h-2zM55 45h1v1h-1zM38 46h1v1h-1zM44 46h1v1h-1zM54 46h2v1h-2zM43 47h1v1h-1zM56 47h1v1h-1zM41 48h1v1h-1zM68 49h2v1h-2zM67 50h2v1h-2zM67 51h3v2h-3zM66 53h2v1h-2zM69 53h1v1h-1zM70 78h2v1h-2zM67 79h5v1h-5zM65 80h7v1h-7zM61 81h11v1h-11zM62 82h10v5h-10z"/>
<path fill="#3eb040" d="M51 0h3v1h-3zM50 1h3v1h-3zM48 2h5v2h-5zM47 4h6v1h-6zM46 5h7v1h-7zM45 6h9v1h-9zM45 7h8v1h-8zM44 8h9v1h-9zM42 9h11v1h-11zM42 10h10v3h-10zM33 13h1v2h-1zM42 13h11v2h-11zM32 15h3v1h-3zM39 15h1v1h-1zM43 15h11v1h-11zM31 16h4v1h-4zM38 16h2v1h-2zM44 16h11v1h-11zM30 17h10v1h-10zM45 17h8v1h-8zM29 18h12v1h-12zM46 18h7v1h-7zM28 19h13v1h-13zM46 19h6v1h-6zM45 20h6v1h-6zM27 20h15v2h-15zM46 21h5v1h-5zM27 22h16v1h-16zM45 22h5v1h-5zM45 23h1v1h-1zM47 23h4v1h-4zM49 24h1v1h-1zM27 23h17v4h-17zM28 27h15v1h-15zM32 28h9v1h-9zM34 29h1v1h-1zM36 29h2v1h-2z"/>
<path fill="#f5fb0c" d="M3 0h8v1h-8zM58 0h7v1h-7zM2 1h9v1h-9zM58 1h8v1h-8zM2 2h10v1h-10zM59 2h7v2h-7zM3 3h9v1h-9zM3 4h10v1h-10zM59 4h8v1h-8zM2 5h11v1h-11zM60 5h8v1h-8zM4 6h9v1h-9zM60 6h9v1h-9zM5 7h9v1h-9zM60 7h10v1h-10zM7 8h4v1h-4zM62 8h8v1h-8zM8 9h2v1h-2zM63 9h8v2h-8zM62 11h10v1h-10zM63 12h9v2h-9zM65 14h7v1h-7zM66 15h6v1h-6zM67 16h5v1h-5zM68 17h4v1h-4zM69 18h3v2h-3zM70 20h2v1h-2zM70 21h1v1h-1zM17 33h3v1h-3zM15 34h8v1h-8zM14 35h12v1h-12zM29 35h5v2h-5zM15 36h13v1h-13zM15 37h20v1h-20zM14 38h22v3h-22zM13 41h23v1h-23zM13 42h24v1h-24zM13 43h7v1h-7zM22 43h14v1h-14zM52 43h1v1h-1zM13 44h2v1h-2zM17 44h2v1h-2zM22 44h15v1h-15zM49 44h5v1h-5zM12 45h3v1h-3zM47 45h8v1h-8zM23 45h15v2h-15zM45 46h9v1h-9zM22 47h18v1h-18zM44 47h12v1h-12zM21 48h20v1h-20zM42 48h16v1h-16zM13 46h2v4h-2zM21 49h37v1h-37zM19 50h39v1h-39zM14 50h2v2h-2zM18 51h39v1h-39zM14 52h3v1h-3zM54 52h4v1h-4zM19 52h34v2h-34zM55 53h3v1h-3zM21 54h32v1h-32zM14 53h2v3h-2zM55 54h5v2h-5zM21 55h31v1h-31zM15 56h3v1h-3zM22 56h29v1h-29zM56 56h5v1h-5zM16 57h2v1h-2zM20 57h30v1h-30zM58 57h4v1h-4zM17 58h1v1h-1zM21 58h29v1h-29zM58 58h5v1h-5zM22 59h21v1h-21zM58 59h7v1h-7zM23 60h19v1h-19zM59 60h7v1h-7zM23 61h12v1h-12zM38 61h3v1h-3zM60 61h7v1h-7zM24 62h8v1h-8zM61 62h8v1h-8zM67 63h1v1h-1zM69 63h2v1h-2zM25 63h4v2h-4zM68 64h3v1h-3zM26 65h3v2h-3zM69 65h3v2h-3zM26 67h2v1h-2zM70 67h2v2h-2zM66 69h2v1h-2zM69 69h3v1h-3zM66 70h6v2h-6zM65 72h7v1h-7zM64 73h8v1h-8zM65 74h7v1h-7zM26 76h1v1h-1zM64 75h8v3h-8zM25 77h2v1h-2zM12 78h1v1h-1zM26 78h1v1h-1zM64 78h6v1h-6zM12 79h2v1h-2zM25 79h2v1h-2zM64 79h3v1h-3zM12 80h3v1h-3zM16 80h2v1h-2zM24 80h3v1h-3zM61 80h4v1h-4zM9 80h1v2h-1zM13 81h14v1h-14zM13 82h12v1h-12zM9 83h1v1h-1zM12 83h8v1h-8zM8 84h2v1h-2zM11 84h4v1h-4zM18 84h1v1h-1zM8 85h1v1h-1zM9 86h1v1h-1z"/>
<path fill="#ffcc08" d="M20 43h2v1h-2zM15 44h2v1h-2zM19 44h3v1h-3zM15 45h8v2h-8zM15 47h7v1h-7zM17 48h4v2h-4zM17 50h2v1h-2zM16 51h2v1h-2zM17 52h2v1h-2zM53 52h1v1h-1zM16 53h3v1h-3zM53 53h2v2h-2zM16 54h1v2h-1zM52 55h3v1h-3zM20 56h2v1h-2zM51 56h5v1h-5zM18 56h1v2h-1zM50 57h8v2h-8zM43 59h15v1h-15zM42 60h2v1h-2zM46 60h7v1h-7zM54 60h5v1h-5zM35 61h3v1h-3zM41 61h2v1h-2zM52 61h1v1h-1zM55 61h5v1h-5zM32 62h9v1h-9zM56 62h5v1h-5zM32 63h1v1h-1zM35 63h1v1h-1zM59 63h8v1h-8zM68 63h1v1h-1zM29 63h2v2h-2zM60 64h8v1h-8zM29 65h1v1h-1zM61 65h8v1h-8zM60 66h9v1h-9zM28 67h1v1h-1zM60 67h10v1h-10zM61 68h9v1h-9zM60 69h6v1h-6zM68 69h1v1h-1zM61 70h5v1h-5zM60 71h6v1h-6zM60 72h5v1h-5zM60 73h4v1h-4zM60 74h5v1h-5zM61 75h3v1h-3zM60 76h4v1h-4zM58 77h6v3h-6zM10 78h2v3h-2zM58 80h3v1h-3zM10 81h3v1h-3zM57 81h4v1h-4zM9 82h4v1h-4zM10 83h2v1h-2zM58 82h4v5h-4z"/>
<path fill="#ff8f08" d="M15 48h2v2h-2zM16 50h1v1h-1zM17 54h4v2h-4zM19 56h1v1h-1zM44 60h2v1h-2zM53 60h1v1h-1zM43 61h7v1h-7zM53 61h2v1h-2zM41 62h8v1h-8zM52 62h4v1h-4zM31 63h1v1h-1zM33 63h1v1h-1zM36 63h2v1h-2zM39 63h6v1h-6zM54 63h5v1h-5zM31 64h3v1h-3zM40 64h2v1h-2zM55 64h5v1h-5zM30 65h1v1h-1zM32 65h1v1h-1zM40 65h1v1h-1zM55 65h6v1h-6zM55 66h5v1h-5zM29 66h2v2h-2zM56 67h4v1h-4zM28 68h2v1h-2zM57 68h4v1h-4zM28 69h1v1h-1zM57 69h3v1h-3zM57 70h4v1h-4zM58 71h2v1h-2zM57 72h3v2h-3zM56 74h4v1h-4zM27 75h1v1h-1zM56 75h5v1h-5zM56 76h4v1h-4zM52 77h6v1h-6zM50 78h8v1h-8zM49 79h9v2h-9zM27 80h1v2h-1zM49 81h8v1h-8zM49 82h9v1h-9zM48 83h10v1h-10zM10 84h1v1h-1zM46 84h12v1h-12zM5 84h1v2h-1zM9 85h1v1h-1zM45 85h13v1h-13zM4 86h1v1h-1zM44 86h14v1h-14z"/>
<path fill="#ff5505" d="M49 62h1v1h-1zM38 63h1v1h-1zM45 63h9v1h-9zM34 63h1v2h-1zM36 64h4v1h-4zM42 64h3v1h-3zM49 64h6v1h-6zM31 65h1v1h-1zM33 65h1v1h-1zM38 65h2v1h-2zM41 65h3v1h-3zM50 65h5v2h-5zM31 66h2v1h-2zM39 66h5v2h-5zM31 67h1v1h-1zM50 67h6v1h-6zM30 68h1v1h-1zM39 68h3v2h-3zM29 69h1v1h-1zM50 68h7v3h-7zM28 70h1v1h-1zM27 71h2v1h-2zM48 71h10v1h-10zM27 72h1v1h-1zM38 70h3v4h-3zM47 72h10v2h-10zM28 74h1v1h-1zM38 74h4v1h-4zM47 74h9v2h-9zM38 75h5v1h-5zM37 76h6v1h-6zM45 76h11v1h-11zM27 76h1v2h-1zM46 77h6v1h-6zM37 77h4v2h-4zM45 78h5v1h-5zM37 79h5v1h-5zM37 80h7v1h-7zM45 79h4v3h-4zM38 81h6v1h-6zM26 82h2v1h-2zM38 82h11v1h-11zM36 83h12v1h-12zM17 84h1v1h-1zM36 84h10v1h-10zM10 85h1v1h-1zM35 85h10v1h-10zM35 86h9v1h-9z"/>
<path fill="#ff1505" d="M50 61h2v2h-2zM35 64h1v1h-1zM45 64h4v1h-4zM34 65h4v1h-4zM33 66h1v1h-1zM38 66h1v1h-1zM44 65h6v3h-6zM32 67h2v1h-2zM31 68h3v1h-3zM38 68h1v2h-1zM42 68h8v2h-8zM30 69h4v1h-4zM29 70h5v1h-5zM41 70h9v1h-9zM29 71h3v1h-3zM41 71h7v1h-7zM37 71h1v2h-1zM28 72h4v2h-4zM41 72h6v2h-6zM36 73h2v1h-2zM29 74h3v1h-3zM35 74h3v1h-3zM42 74h5v1h-5zM28 75h10v1h-10zM43 75h4v1h-4zM43 76h2v1h-2zM28 76h9v2h-9zM41 77h5v1h-5zM41 78h4v1h-4zM27 78h10v2h-10zM42 79h3v1h-3zM28 80h9v1h-9zM44 80h1v2h-1zM28 81h10v2h-10zM25 82h1v1h-1zM20 83h1v1h-1zM22 83h2v1h-2zM26 83h10v1h-10zM19 84h1v1h-1zM27 84h9v1h-9zM18 85h1v1h-1zM28 85h7v1h-7zM27 86h8v1h-8z"/>
<path fill="#d20000" d="M34 66h4v1h-4zM34 67h5v1h-5zM34 68h4v3h-4zM32 71h5v2h-5zM32 73h4v1h-4zM32 74h3v1h-3zM21 83h1v1h-1zM24 83h2v1h-2zM15 84h2v1h-2zM20 84h7v1h-7zM11 85h7v1h-7zM19 85h9v1h-9zM10 86h17v1h-17z"/>
</g>
<polygon points="335.6,919.4 336.8,919.4 339.5,921.4 342.5,923.4 345.0,925.8 347.4,929.3 349.4,932.3 351.4,935.7 355.3,935.2 358.8,936.7 361.2,940.1 364.2,944.6 366.2,948.5 369.6,950.0 371.1,947.0 371.6,943.1 373.6,939.2 372.6,933.2 371.1,927.3 369.6,921.4 369.8,917.5 371.1,916.7 372.6,918.0 374.6,924.4 377.0,931.3 379.5,938.2 382.0,945.1 383.9,951.0 386.4,953.0 388.4,958.9 391.3,964.8 389.3,969.2 386.9,973.2 384.9,976.1 379.0,978.1 377.0,980.1 371.1,981.1 368.6,983.5 366.2,985.5 366.7,988.5 364.7,992.4 363.7,995.9 361.2,997.8 357.8,999.8 359.8,1002.8 364.2,1005.7 367.2,1004.7 369.6,1007.7 372.6,1010.2 373.6,1016.1 374.1,1019.1 372.6,1023.5 372.1,1030.4 370.6,1034.9 367.7,1037.3 369.1,1040.8 367.2,1044.2 363.7,1044.2 360.7,1043.2 362.2,1046.7 360.7,1051.1 358.8,1055.6 356.3,1060.0 355.3,1064.4 352.9,1068.9 353.4,1073.8 354.3,1076.8 351.9,1080.7 347.4,1083.2 345.0,1086.1 343.0,1086.6 343.5,1091.6 342.5,1097.5 340.0,1098.5 339.1,1099.5 339.5,1102.4 338.6,1104.9 336.8,1105.9 336.8,1107.8 340.5,1108.3 341.5,1110.8 340.5,1114.7 339.1,1118.2 336.8,1120.2 335.6,1120.2" fill="#000"/>
<polygon points="355.3,1103.4 357.8,1102.6 359.3,1103.9 359.3,1108.3 359.8,1112.3 361.7,1116.2 363.2,1120.7 362.7,1123.6 360.3,1126.1 360.3,1130.0 358.8,1131.5 355.3,1132.5 354.3,1129.0 351.9,1126.6 348.9,1124.6 350.4,1121.6 352.9,1118.2 354.3,1113.8 353.8,1109.3 354.8,1105.9" fill="#000"/>
</g>
<rect x="337.0" y="891.4" width="221.1" height="1.7" fill="#fff" opacity="0.5"/>
<rect x="336.5" y="891.0" width="222.1" height="267.6" fill="none" stroke="#6e6e6e" stroke-width="1.1"/>
<path d="M364.0 891.0v2.5M364.0 1158.6v-2.5M503.0 891.0v2.5M503.0 1158.6v-2.5M558.6 933.0h-2.5M558.6 979.0h-2.5M558.6 1025.0h-2.5M558.6 1071.0h-2.5M558.6 1118.0h-2.5" stroke="#444" stroke-width="0.8" fill="none"/>
<g clip-path="url(#cr4c3)" shape-rendering="crispEdges">
<g transform="translate(570.60 889.70) scale(3.0875 3.0736)">
<path fill="#98d822" d="M11 0h8v1h-8zM11 1h9v3h-9zM12 4h8v1h-8zM55 4h1v2h-1zM12 5h9v1h-9zM54 6h2v1h-2zM13 6h9v2h-9zM55 7h1v1h-1zM13 8h10v1h-10zM55 8h2v1h-2zM14 9h9v1h-9zM55 9h1v1h-1zM71 9h1v1h-1zM14 10h8v1h-8zM55 10h2v2h-2zM15 11h8v1h-8zM16 12h7v1h-7zM55 12h3v1h-3zM17 13h7v1h-7zM56 13h2v1h-2zM17 14h6v1h-6zM56 14h3v1h-3zM19 15h4v2h-4zM56 15h4v2h-4zM18 17h5v1h-5zM19 18h5v1h-5zM55 17h7v3h-7zM19 19h4v1h-4zM18 20h5v1h-5zM56 20h7v2h-7zM55 22h8v1h-8zM19 21h4v3h-4zM55 23h7v1h-7zM68 23h2v1h-2zM71 23h1v1h-1zM19 24h5v1h-5zM55 24h8v1h-8zM67 24h5v1h-5zM19 25h6v1h-6zM55 25h9v1h-9zM65 25h7v1h-7zM55 26h17v1h-17zM18 26h7v2h-7zM54 27h18v2h-18zM18 28h8v1h-8zM17 29h9v1h-9zM53 29h19v2h-19zM17 30h11v1h-11zM16 31h11v2h-11zM52 31h20v2h-20zM16 33h4v1h-4zM24 33h3v1h-3zM30 33h3v1h-3zM51 33h21v1h-21zM15 34h2v1h-2zM18 34h1v1h-1zM26 34h3v1h-3zM30 34h6v1h-6zM45 34h27v1h-27zM30 35h42v1h-42zM31 36h41v2h-41zM34 38h38v1h-38zM36 39h36v2h-36zM37 41h35v1h-35zM37 42h13v1h-13zM56 42h16v1h-16zM38 43h10v1h-10zM57 43h15v2h-15zM38 44h8v1h-8zM39 45h6v1h-6zM65 45h7v1h-7zM57 45h5v2h-5zM40 46h4v1h-4zM66 46h6v1h-6zM39 47h1v1h-1zM56 47h7v1h-7zM64 47h8v1h-8zM56 48h16v2h-16zM57 50h11v1h-11zM71 51h1v1h-1zM57 51h10v2h-10zM59 53h8v1h-8zM70 53h2v1h-2zM62 54h6v1h-6zM71 54h1v1h-1zM62 55h10v3h-10zM63 58h1v1h-1zM65 58h7v1h-7zM67 59h5v1h-5zM68 60h4v2h-4zM71 62h1v1h-1z"/>
<path fill="#6cc530" d="M19 0h37v1h-37zM20 1h36v3h-36zM67 0h5v5h-5zM20 4h35v1h-35zM21 5h34v1h-34zM68 5h4v2h-4zM22 6h32v1h-32zM22 7h33v1h-33zM69 7h3v1h-3zM31 8h24v1h-24zM70 8h2v1h-2zM23 8h4v2h-4zM32 9h23v1h-23zM70 9h1v1h-1zM22 10h4v1h-4zM33 10h9v1h-9zM36 11h3v1h-3zM43 10h12v3h-12zM23 11h3v2h-3zM36 12h1v1h-1zM43 13h13v1h-13zM42 14h14v2h-14zM23 14h1v3h-1zM43 16h13v1h-13zM23 17h2v1h-2zM24 18h1v1h-1zM42 17h13v3h-13zM23 19h2v1h-2zM23 20h3v1h-3zM43 20h13v2h-13zM23 21h2v2h-2zM44 22h11v1h-11zM23 23h3v1h-3zM24 24h2v1h-2zM43 23h12v3h-12zM25 25h1v1h-1zM39 26h16v1h-16zM25 26h2v2h-2zM36 27h18v1h-18zM26 28h2v1h-2zM34 28h20v1h-20zM26 29h27v1h-27zM28 30h25v1h-25zM27 31h25v2h-25zM27 33h3v1h-3zM33 33h18v1h-18zM29 34h1v1h-1zM36 34h9v1h-9zM62 45h3v1h-3zM62 46h4v1h-4zM63 47h1v1h-1z"/>
<path fill="#c5e81e" d="M0 0h3v2h-3zM64 0h3v2h-3zM63 2h4v1h-4zM0 2h2v2h-2zM64 3h3v2h-3zM56 4h1v2h-1zM65 5h3v1h-3zM56 6h2v1h-2zM66 6h2v1h-2zM56 7h3v1h-3zM67 7h2v1h-2zM57 8h3v1h-3zM68 8h2v1h-2zM56 9h5v1h-5zM69 9h1v1h-1zM69 10h3v1h-3zM57 10h5v2h-5zM71 11h1v2h-1zM58 12h4v2h-4zM59 14h3v1h-3zM60 15h3v1h-3zM64 15h1v1h-1zM60 16h8v1h-8zM62 17h6v1h-6zM62 18h7v1h-7zM62 19h8v1h-8zM71 19h1v1h-1zM63 20h9v3h-9zM62 23h6v1h-6zM70 23h1v1h-1zM63 24h4v1h-4zM64 25h1v1h-1zM24 34h2v1h-2zM25 35h5v1h-5zM26 36h5v1h-5zM27 37h4v1h-4zM27 38h7v1h-7zM29 39h3v1h-3zM51 42h5v1h-5zM37 43h1v1h-1zM53 43h4v1h-4zM54 44h3v1h-3zM55 45h2v1h-2zM56 46h1v1h-1zM68 50h4v1h-4zM67 51h4v1h-4zM67 52h5v1h-5zM67 53h3v1h-3zM68 54h3v1h-3z"/>
<path fill="#3eb040" d="M27 8h4v1h-4zM27 9h5v1h-5zM26 10h7v1h-7zM42 10h1v1h-1zM39 11h4v1h-4zM26 11h10v2h-10zM37 12h6v1h-6zM24 13h19v1h-19zM24 14h18v2h-18zM24 16h19v1h-19zM25 17h17v3h-17zM26 20h17v1h-17zM25 21h18v1h-18zM25 22h19v1h-19zM26 23h17v3h-17zM27 26h12v1h-12zM27 27h9v1h-9zM28 28h6v1h-6z"/>
<path fill="#f5fb0c" d="M3 0h8v2h-8zM56 0h8v2h-8zM56 2h7v1h-7zM2 2h9v2h-9zM56 3h8v1h-8zM2 4h10v1h-10zM57 4h7v1h-7zM3 5h9v1h-9zM57 5h8v1h-8zM3 6h10v1h-10zM58 6h8v1h-8zM59 7h8v1h-8zM4 7h9v2h-9zM60 8h8v1h-8zM5 9h5v1h-5zM61 9h8v1h-8zM7 10h1v1h-1zM62 10h7v1h-7zM62 11h9v2h-9zM62 13h10v2h-10zM63 15h1v1h-1zM65 15h7v1h-7zM68 16h4v2h-4zM69 18h3v1h-3zM70 19h1v1h-1zM20 33h4v1h-4zM17 34h1v1h-1zM19 34h5v1h-5zM14 35h11v1h-11zM12 36h14v1h-14zM13 37h14v2h-14zM13 39h16v1h-16zM32 39h4v1h-4zM14 40h22v1h-22zM14 41h23v2h-23zM50 42h1v1h-1zM13 43h24v1h-24zM48 43h5v1h-5zM13 44h9v1h-9zM23 44h15v1h-15zM46 44h8v1h-8zM12 45h6v1h-6zM23 45h16v1h-16zM45 45h10v1h-10zM12 46h4v1h-4zM23 46h17v1h-17zM44 46h12v1h-12zM13 47h4v1h-4zM22 47h17v1h-17zM40 47h16v1h-16zM14 48h3v1h-3zM21 48h35v1h-35zM14 49h2v1h-2zM20 49h36v1h-36zM20 50h37v2h-37zM14 50h3v3h-3zM20 52h33v1h-33zM54 52h3v1h-3zM19 53h34v1h-34zM55 53h4v1h-4zM14 53h2v2h-2zM19 54h1v1h-1zM21 54h32v1h-32zM55 54h7v2h-7zM20 55h32v1h-32zM21 56h30v1h-30zM14 55h3v3h-3zM56 56h6v2h-6zM20 57h30v1h-30zM15 58h1v1h-1zM21 58h27v1h-27zM57 58h6v1h-6zM64 58h1v1h-1zM23 59h25v1h-25zM57 59h10v1h-10zM35 60h1v1h-1zM37 60h1v1h-1zM41 60h6v1h-6zM58 60h10v1h-10zM23 60h11v2h-11zM59 61h9v1h-9zM24 62h8v1h-8zM33 62h1v1h-1zM61 62h10v1h-10zM25 63h6v1h-6zM64 63h8v1h-8zM25 64h5v1h-5zM68 64h4v2h-4zM26 65h3v2h-3zM26 67h2v1h-2zM70 66h2v3h-2zM26 68h1v1h-1zM69 69h3v1h-3zM68 70h4v1h-4zM65 71h7v2h-7zM64 73h8v1h-8zM63 74h9v2h-9zM26 77h1v1h-1zM25 78h1v1h-1zM62 76h10v4h-10zM13 79h3v1h-3zM21 79h1v1h-1zM24 79h3v1h-3zM20 80h2v1h-2zM25 80h2v1h-2zM63 80h9v1h-9zM13 80h4v2h-4zM19 81h8v1h-8zM13 82h13v1h-13zM62 81h10v3h-10zM13 83h3v1h-3zM17 83h1v1h-1zM19 83h6v1h-6zM20 84h2v1h-2zM61 84h11v1h-11zM10 82h1v4h-1zM62 85h10v2h-10z"/>
<path fill="#ffcc08" d="M22 44h1v1h-1zM18 45h5v1h-5zM16 46h7v1h-7zM17 47h5v1h-5zM18 48h3v1h-3zM17 49h3v4h-3zM53 52h1v1h-1zM16 53h3v2h-3zM53 53h2v2h-2zM52 55h3v1h-3zM17 56h1v1h-1zM20 56h1v1h-1zM51 56h5v1h-5zM50 57h6v1h-6zM48 58h9v2h-9zM34 60h1v1h-1zM36 60h1v1h-1zM38 60h3v1h-3zM47 60h11v1h-11zM34 61h4v1h-4zM40 61h8v1h-8zM51 61h1v1h-1zM53 61h1v1h-1zM55 61h4v1h-4zM32 62h1v1h-1zM34 62h2v1h-2zM55 62h6v1h-6zM31 63h3v1h-3zM57 63h7v1h-7zM58 64h10v1h-10zM60 65h8v1h-8zM60 66h10v2h-10zM28 67h1v1h-1zM27 68h1v1h-1zM61 68h9v1h-9zM61 69h8v1h-8zM61 70h7v1h-7zM61 71h4v2h-4zM61 73h3v1h-3zM60 74h3v2h-3zM60 76h2v1h-2zM59 77h3v1h-3zM58 78h4v1h-4zM9 79h4v1h-4zM59 79h3v1h-3zM59 80h4v1h-4zM10 80h3v2h-3zM59 81h3v2h-3zM11 82h2v2h-2zM58 83h4v1h-4zM59 84h2v1h-2zM58 85h4v2h-4z"/>
<path fill="#ff8f08" d="M17 48h1v1h-1zM16 49h1v1h-1zM20 54h1v1h-1zM17 55h3v1h-3zM48 61h2v1h-2zM54 61h1v2h-1zM36 62h1v1h-1zM40 62h7v1h-7zM34 63h1v1h-1zM41 63h5v1h-5zM54 63h3v1h-3zM30 64h4v1h-4zM41 64h3v1h-3zM55 64h3v1h-3zM29 65h4v1h-4zM41 65h1v1h-1zM56 65h4v1h-4zM55 66h1v1h-1zM29 66h1v2h-1zM57 66h3v2h-3zM28 68h1v1h-1zM26 69h2v1h-2zM27 70h1v1h-1zM57 68h4v4h-4zM56 72h5v1h-5zM57 73h4v1h-4zM57 74h3v1h-3zM58 75h2v1h-2zM27 76h1v1h-1zM56 76h4v1h-4zM54 77h5v1h-5zM26 78h1v1h-1zM51 78h7v1h-7zM50 79h9v1h-9zM49 80h10v1h-10zM27 80h1v2h-1zM48 81h11v1h-11zM26 82h1v1h-1zM47 82h12v1h-12zM47 83h11v1h-11zM5 83h2v2h-2zM11 84h3v1h-3zM46 84h13v1h-13zM4 85h3v1h-3zM45 85h13v1h-13zM4 86h2v1h-2zM10 86h1v1h-1zM44 86h14v1h-14z"/>
<path fill="#ff5505" d="M38 61h2v1h-2zM37 62h3v1h-3zM47 62h4v1h-4zM52 62h2v1h-2zM36 63h5v1h-5zM46 63h8v1h-8zM34 64h1v1h-1zM44 64h1v1h-1zM48 64h7v1h-7zM39 64h2v2h-2zM33 65h1v1h-1zM42 65h4v1h-4zM48 65h8v1h-8zM30 66h2v1h-2zM48 66h7v1h-7zM56 66h1v1h-1zM40 66h4v2h-4zM30 67h1v1h-1zM48 67h9v1h-9zM29 68h1v1h-1zM39 68h4v1h-4zM28 69h2v1h-2zM38 69h5v2h-5zM28 70h1v1h-1zM49 68h8v4h-8zM27 71h1v1h-1zM39 71h4v1h-4zM28 72h1v1h-1zM39 72h3v1h-3zM48 72h8v1h-8zM48 73h9v2h-9zM27 74h1v1h-1zM38 73h4v3h-4zM27 75h2v1h-2zM47 75h11v1h-11zM37 76h5v1h-5zM47 76h9v1h-9zM37 77h6v1h-6zM48 77h6v1h-6zM37 78h7v1h-7zM48 78h3v1h-3zM27 77h1v3h-1zM37 79h6v1h-6zM47 79h3v1h-3zM36 80h7v1h-7zM45 80h4v1h-4zM36 81h12v1h-12zM27 82h1v1h-1zM36 82h11v1h-11zM26 83h1v1h-1zM38 83h9v1h-9zM38 84h8v1h-8zM37 85h8v1h-8zM36 86h8v1h-8z"/>
<path fill="#ff1505" d="M50 61h1v1h-1zM52 61h1v1h-1zM51 62h1v1h-1zM35 63h1v2h-1zM45 64h3v1h-3zM38 64h1v2h-1zM34 65h1v1h-1zM46 65h2v1h-2zM32 66h2v1h-2zM39 66h1v1h-1zM44 66h4v2h-4zM31 67h2v1h-2zM37 67h3v1h-3zM30 68h2v1h-2zM37 68h2v1h-2zM30 69h1v1h-1zM37 69h1v1h-1zM29 70h2v1h-2zM36 70h2v1h-2zM43 68h6v4h-6zM28 71h5v1h-5zM37 71h2v2h-2zM29 72h4v1h-4zM28 73h5v1h-5zM36 73h2v1h-2zM42 72h6v3h-6zM28 74h4v1h-4zM34 74h4v1h-4zM29 75h9v1h-9zM42 75h5v2h-5zM43 77h5v1h-5zM44 78h4v1h-4zM28 76h9v4h-9zM43 79h4v1h-4zM43 80h2v1h-2zM28 80h8v3h-8zM25 83h1v1h-1zM27 83h11v1h-11zM22 84h16v1h-16zM26 85h11v1h-11zM29 86h7v1h-7z"/>
<path fill="#d20000" d="M36 64h2v1h-2zM35 65h3v1h-3zM34 66h5v1h-5zM33 67h4v1h-4zM32 68h5v1h-5zM31 69h6v1h-6zM31 70h5v1h-5zM33 71h4v2h-4zM33 73h3v1h-3zM32 74h2v1h-2zM16 83h1v1h-1zM18 83h1v1h-1zM14 84h6v1h-6zM11 85h15v1h-15zM11 86h18v1h-18z"/>
</g>
<polygon points="569.6,918.0 570.8,918.0 573.5,920.0 576.5,921.9 579.0,924.4 581.4,927.9 583.4,930.8 585.4,934.3 589.3,933.8 592.8,935.2 595.2,938.7 598.2,943.1 600.2,947.1 603.6,948.6 605.1,945.6 605.6,941.7 607.6,937.7 606.6,931.8 605.1,925.9 603.6,920.0 603.8,916.0 605.1,915.2 606.6,916.5 608.6,922.9 611.0,929.8 613.5,936.7 616.0,943.6 617.9,949.5 620.4,951.5 622.4,957.4 625.3,963.4 623.3,967.8 620.9,971.7 618.9,974.7 613.0,976.7 611.0,978.6 605.1,979.6 602.6,982.1 600.2,984.1 600.7,987.0 598.7,991.0 597.7,994.4 595.2,996.4 591.8,998.4 593.8,1001.3 598.2,1004.3 601.2,1003.3 603.6,1006.3 606.6,1008.7 607.6,1014.6 608.1,1017.6 606.6,1022.1 606.1,1029.0 604.6,1033.4 601.7,1035.9 603.1,1039.3 601.2,1042.8 597.7,1042.8 594.7,1041.8 596.2,1045.2 594.7,1049.7 592.8,1054.1 590.3,1058.6 589.3,1063.0 586.9,1067.4 587.4,1072.4 588.3,1075.3 585.9,1079.3 581.4,1081.7 579.0,1084.7 577.0,1085.2 577.5,1090.1 576.5,1096.0 574.0,1097.0 573.1,1098.0 573.5,1101.0 572.6,1103.4 570.8,1104.4 570.8,1106.4 574.5,1106.9 575.5,1109.4 574.5,1113.3 573.1,1116.7 570.8,1118.7 569.6,1118.7" fill="#000"/>
<polygon points="589.3,1102.0 591.8,1101.2 593.3,1102.4 593.3,1106.9 593.8,1110.8 595.7,1114.8 597.2,1119.2 596.7,1122.2 594.3,1124.6 594.3,1128.6 592.8,1130.1 589.3,1131.0 588.3,1127.6 585.9,1125.1 582.9,1123.2 584.4,1120.2 586.9,1116.7 588.3,1112.3 587.8,1107.9 588.8,1104.4" fill="#000"/>
</g>
<rect x="571.1" y="890.1" width="221.3" height="1.7" fill="#fff" opacity="0.5"/>
<rect x="570.6" y="889.7" width="222.3" height="267.4" fill="none" stroke="#6e6e6e" stroke-width="1.1"/>
<path d="M598.1 889.7v2.5M598.1 1157.1v-2.5M737.1 889.7v2.5M737.1 1157.1v-2.5M792.9 931.7h-2.5M792.9 977.7h-2.5M792.9 1023.7h-2.5M792.9 1069.7h-2.5M792.9 1116.7h-2.5" stroke="#444" stroke-width="0.8" fill="none"/>
<rect x="809.2" y="621.50" width="40.8" height="25.85" fill="#9a0000" shape-rendering="crispEdges"/>
<rect x="809.2" y="647.05" width="40.8" height="25.85" fill="#d20000" shape-rendering="crispEdges"/>
<rect x="809.2" y="672.60" width="40.8" height="25.85" fill="#ff1505" shape-rendering="crispEdges"/>
<rect x="809.2" y="698.14" width="40.8" height="25.85" fill="#ff5505" shape-rendering="crispEdges"/>
<rect x="809.2" y="723.69" width="40.8" height="25.85" fill="#ff8f08" shape-rendering="crispEdges"/>
<rect x="809.2" y="749.24" width="40.8" height="25.85" fill="#ffcc08" shape-rendering="crispEdges"/>
<rect x="809.2" y="774.79" width="40.8" height="25.85" fill="#f5fb0c" shape-rendering="crispEdges"/>
<rect x="809.2" y="800.33" width="40.8" height="25.85" fill="#f5fb0c" shape-rendering="crispEdges"/>
<rect x="809.2" y="825.88" width="40.8" height="25.85" fill="#c5e81e" shape-rendering="crispEdges"/>
<rect x="809.2" y="851.43" width="40.8" height="25.85" fill="#98d822" shape-rendering="crispEdges"/>
<rect x="809.2" y="876.98" width="40.8" height="25.85" fill="#6cc530" shape-rendering="crispEdges"/>
<rect x="809.2" y="902.52" width="40.8" height="25.85" fill="#3eb040" shape-rendering="crispEdges"/>
<rect x="809.2" y="928.07" width="40.8" height="25.85" fill="#16a04a" shape-rendering="crispEdges"/>
<rect x="809.2" y="953.62" width="40.8" height="25.85" fill="#129a4a" shape-rendering="crispEdges"/>
<rect x="809.2" y="979.17" width="40.8" height="25.85" fill="#168a68" shape-rendering="crispEdges"/>
<rect x="809.2" y="1004.71" width="40.8" height="25.85" fill="#227094" shape-rendering="crispEdges"/>
<rect x="809.2" y="1030.26" width="40.8" height="25.85" fill="#3258c0" shape-rendering="crispEdges"/>
<rect x="809.2" y="1055.81" width="40.8" height="25.85" fill="#4040f0" shape-rendering="crispEdges"/>
<rect x="809.2" y="1081.36" width="40.8" height="25.85" fill="#4040f0" shape-rendering="crispEdges"/>
<rect x="809.2" y="1106.90" width="40.8" height="25.85" fill="#8020ff" shape-rendering="crispEdges"/>
<rect x="809.2" y="1132.45" width="40.8" height="25.85" fill="#cc00ff" shape-rendering="crispEdges"/>
<rect x="809.2" y="621.5" width="40.8" height="536.5" fill="none" stroke="#333" stroke-width="1"/>
<path d="M850 745.6h-4M850 952h-4" stroke="#222" stroke-width="1"/>
<text x="219.7" y="55.4" font-size="32.3" font-weight="bold" fill="#000" text-anchor="middle">Satellite</text>
<text x="452.0" y="55.4" font-size="32.3" font-weight="bold" fill="#000" text-anchor="middle">RF</text>
<text x="676.3" y="55.4" font-size="32.3" font-weight="bold" fill="#000" text-anchor="middle">ET</text>
<text x="45.2" y="207.3" font-size="33" font-weight="normal" fill="#1a1a1a" text-anchor="middle" transform="rotate(-90 45.2 207.3)">25% gap</text>
<text x="84.9" y="208.7" font-size="33" font-weight="normal" fill="#1a1a1a" text-anchor="middle" transform="rotate(-90 84.9 208.7)">Feb 12, 2014</text>
<text x="44.4" y="474.6" font-size="33" font-weight="normal" fill="#1a1a1a" text-anchor="middle" transform="rotate(-90 44.4 474.6)">50% gap</text>
<text x="85.2" y="475.2" font-size="33" font-weight="normal" fill="#1a1a1a" text-anchor="middle" transform="rotate(-90 85.2 475.2)">Jan 10, 2000</text>
<text x="42.8" y="758.3" font-size="33" font-weight="normal" fill="#1a1a1a" text-anchor="middle" transform="rotate(-90 42.8 758.3)">75% gap</text>
<text x="83.0" y="760.0" font-size="33" font-weight="normal" fill="#1a1a1a" text-anchor="middle" transform="rotate(-90 83.0 760.0)">Jan 25, 2004</text>
<text x="43.4" y="1022.3" font-size="33" font-weight="normal" fill="#1a1a1a" text-anchor="middle" transform="rotate(-90 43.4 1022.3)">90% gap</text>
<text x="83.4" y="1024.0" font-size="33" font-weight="normal" fill="#1a1a1a" text-anchor="middle" transform="rotate(-90 83.4 1024.0)">Feb 15,1999</text>
<text x="857.6" y="631.2" font-size="24" font-weight="normal" fill="#262626" text-anchor="start">4</text>
<text x="857.6" y="755.0" font-size="24" font-weight="normal" fill="#262626" text-anchor="start">1</text>
<text x="857.6" y="962.0" font-size="24" font-weight="normal" fill="#262626" text-anchor="start">0.1</text>
<text x="857.6" y="1168.0" font-size="24" font-weight="normal" fill="#262626" text-anchor="start">0.01</text>
<text x="944.5" y="903.3" font-size="32.7" fill="#000" text-anchor="middle" transform="rotate(-90 944.5 903.3)">CHL (mg m<tspan dy="-12" font-size="21">&#8722;3</tspan><tspan dy="12">)</tspan></text>
</svg>
</body></html>
